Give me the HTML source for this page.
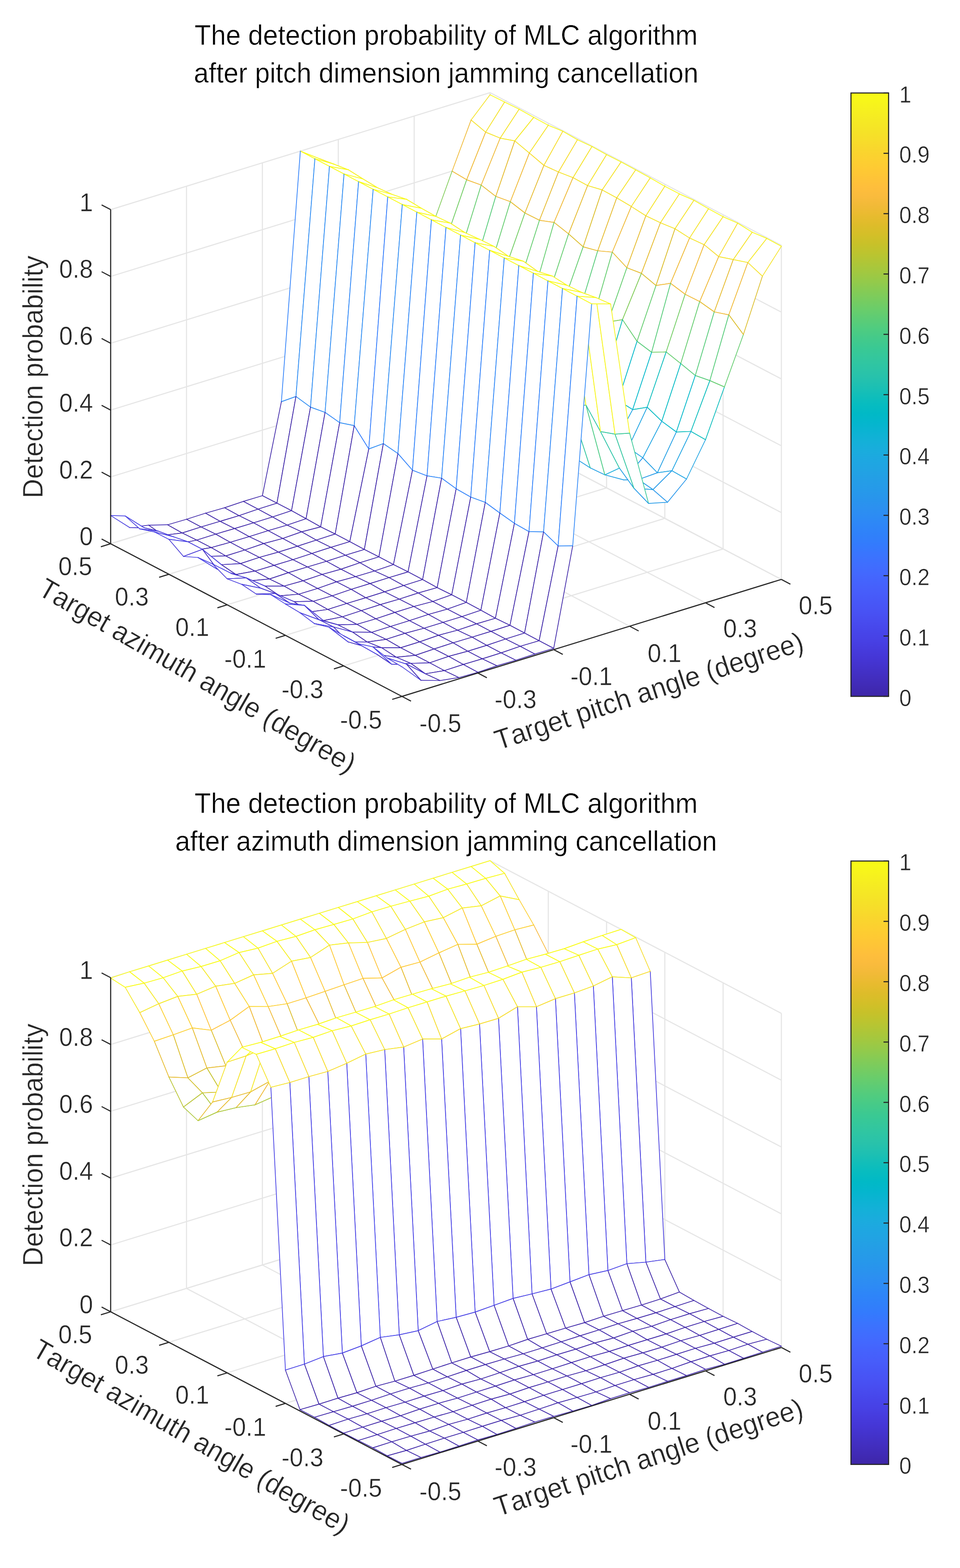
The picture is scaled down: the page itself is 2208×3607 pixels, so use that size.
<!DOCTYPE html><html><head><meta charset="utf-8"><title>Detection probability</title><style>html,body{margin:0;padding:0;background:#fff;}svg{display:block;}</style></head><body><svg xmlns="http://www.w3.org/2000/svg" width="2208" height="3607" viewBox="0 0 2208 3607" style="font-kerning:none"><line x1="254.5" y1="1250.8" x2="254.5" y2="482.2" stroke="#e5e5e5" stroke-width="2.5"/><line x1="254.5" y1="1250.8" x2="1127.1" y2="981.7" stroke="#e5e5e5" stroke-width="2.5"/><line x1="429.0" y1="1197.0" x2="429.0" y2="428.4" stroke="#e5e5e5" stroke-width="2.5"/><line x1="254.5" y1="1097.1" x2="1127.1" y2="828.0" stroke="#e5e5e5" stroke-width="2.5"/><line x1="603.5" y1="1143.2" x2="603.5" y2="374.6" stroke="#e5e5e5" stroke-width="2.5"/><line x1="254.5" y1="943.4" x2="1127.1" y2="674.3" stroke="#e5e5e5" stroke-width="2.5"/><line x1="778.1" y1="1089.3" x2="778.1" y2="320.7" stroke="#e5e5e5" stroke-width="2.5"/><line x1="254.5" y1="789.6" x2="1127.1" y2="520.5" stroke="#e5e5e5" stroke-width="2.5"/><line x1="952.6" y1="1035.5" x2="952.6" y2="266.9" stroke="#e5e5e5" stroke-width="2.5"/><line x1="254.5" y1="635.9" x2="1127.1" y2="366.8" stroke="#e5e5e5" stroke-width="2.5"/><line x1="1127.1" y1="981.7" x2="1127.1" y2="213.1" stroke="#e5e5e5" stroke-width="2.5"/><line x1="254.5" y1="482.2" x2="1127.1" y2="213.1" stroke="#e5e5e5" stroke-width="2.5"/><line x1="1797.1" y1="1332.9" x2="1797.1" y2="564.3" stroke="#e5e5e5" stroke-width="2.5"/><line x1="1797.1" y1="1332.9" x2="1127.1" y2="981.7" stroke="#e5e5e5" stroke-width="2.5"/><line x1="1663.1" y1="1262.7" x2="1663.1" y2="494.1" stroke="#e5e5e5" stroke-width="2.5"/><line x1="1797.1" y1="1179.2" x2="1127.1" y2="828.0" stroke="#e5e5e5" stroke-width="2.5"/><line x1="1529.1" y1="1192.4" x2="1529.1" y2="423.8" stroke="#e5e5e5" stroke-width="2.5"/><line x1="1797.1" y1="1025.5" x2="1127.1" y2="674.3" stroke="#e5e5e5" stroke-width="2.5"/><line x1="1395.1" y1="1122.2" x2="1395.1" y2="353.6" stroke="#e5e5e5" stroke-width="2.5"/><line x1="1797.1" y1="871.7" x2="1127.1" y2="520.5" stroke="#e5e5e5" stroke-width="2.5"/><line x1="1261.1" y1="1051.9" x2="1261.1" y2="283.3" stroke="#e5e5e5" stroke-width="2.5"/><line x1="1797.1" y1="718.0" x2="1127.1" y2="366.8" stroke="#e5e5e5" stroke-width="2.5"/><line x1="1127.1" y1="981.7" x2="1127.1" y2="213.1" stroke="#e5e5e5" stroke-width="2.5"/><line x1="1797.1" y1="564.3" x2="1127.1" y2="213.1" stroke="#e5e5e5" stroke-width="2.5"/><line x1="924.5" y1="1602.0" x2="254.5" y2="1250.8" stroke="#e5e5e5" stroke-width="2.5"/><line x1="924.5" y1="1602.0" x2="1797.1" y2="1332.9" stroke="#e5e5e5" stroke-width="2.5"/><line x1="1099.0" y1="1548.2" x2="429.0" y2="1197.0" stroke="#e5e5e5" stroke-width="2.5"/><line x1="790.5" y1="1531.8" x2="1663.1" y2="1262.7" stroke="#e5e5e5" stroke-width="2.5"/><line x1="1273.5" y1="1494.4" x2="603.5" y2="1143.2" stroke="#e5e5e5" stroke-width="2.5"/><line x1="656.5" y1="1461.5" x2="1529.1" y2="1192.4" stroke="#e5e5e5" stroke-width="2.5"/><line x1="1448.1" y1="1440.5" x2="778.1" y2="1089.3" stroke="#e5e5e5" stroke-width="2.5"/><line x1="522.5" y1="1391.3" x2="1395.1" y2="1122.2" stroke="#e5e5e5" stroke-width="2.5"/><line x1="1622.6" y1="1386.7" x2="952.6" y2="1035.5" stroke="#e5e5e5" stroke-width="2.5"/><line x1="388.5" y1="1321.0" x2="1261.1" y2="1051.9" stroke="#e5e5e5" stroke-width="2.5"/><line x1="1797.1" y1="1332.9" x2="1127.1" y2="981.7" stroke="#e5e5e5" stroke-width="2.5"/><line x1="254.5" y1="1250.8" x2="1127.1" y2="981.7" stroke="#e5e5e5" stroke-width="2.5"/><g fill="none" stroke-width="1.7" stroke-linejoin="round" stroke-linecap="round"><path d="M1117 304.1L1160.6 234.7L1127.1 218.1L1083.5 276.1Z" fill="#fff"/><path d="M1117 304.1L1160.6 234.7" stroke="#f5e327"/><path d="M1117 304.1L1083.5 276.1" stroke="#f5e327"/><path d="M1160.6 234.7L1127.1 218.1" stroke="#f9fb15"/><path d="M1083.5 276.1L1127.1 218.1" stroke="#f5e327"/><path d="M1073.3 413.6L1117 304.1L1083.5 276.1L1039.8 393.7Z" fill="#fff"/><path d="M1073.3 413.6L1117 304.1" stroke="#f0ba36"/><path d="M1073.3 413.6L1039.8 393.7" stroke="#f0ba36"/><path d="M1117 304.1L1083.5 276.1" stroke="#f5e327"/><path d="M1039.8 393.7L1083.5 276.1" stroke="#f0ba36"/><path d="M1150.5 317.8L1194.1 251.2L1160.6 234.7L1117 304.1Z" fill="#fff"/><path d="M1150.5 317.8L1194.1 251.2" stroke="#f5e327"/><path d="M1150.5 317.8L1117 304.1" stroke="#f5e327"/><path d="M1194.1 251.2L1160.6 234.7" stroke="#f9fb15"/><path d="M1117 304.1L1160.6 234.7" stroke="#f5e327"/><path d="M1029.7 540L1073.3 413.6L1039.8 393.7L996.2 514.8Z" fill="#fff"/><path d="M1029.7 540L1073.3 413.6" stroke="#72cd64"/><path d="M1029.7 540L996.2 514.8" stroke="#72cd64"/><path d="M1073.3 413.6L1039.8 393.7" stroke="#f0ba36"/><path d="M996.2 514.8L1039.8 393.7" stroke="#81cc59"/><path d="M1106.8 425.8L1150.5 317.8L1117 304.1L1073.3 413.6Z" fill="#fff"/><path d="M1106.8 425.8L1150.5 317.8" stroke="#f0ba36"/><path d="M1106.8 425.8L1073.3 413.6" stroke="#f0ba36"/><path d="M1150.5 317.8L1117 304.1" stroke="#f5e327"/><path d="M1073.3 413.6L1117 304.1" stroke="#f0ba36"/><path d="M1184 324.1L1227.6 270.1L1194.1 251.2L1150.5 317.8Z" fill="#fff"/><path d="M1184 324.1L1227.6 270.1" stroke="#f5e924"/><path d="M1184 324.1L1150.5 317.8" stroke="#f5e924"/><path d="M1227.6 270.1L1194.1 251.2" stroke="#f9fb15"/><path d="M1150.5 317.8L1194.1 251.2" stroke="#f5e327"/><path d="M986.1 675.9L1029.7 540L996.2 514.8L952.6 667Z" fill="#fff"/><path d="M986.1 675.9L1029.7 540" stroke="#0bbdbd"/><path d="M986.1 675.9L952.6 667" stroke="#0bbdbd"/><path d="M1029.7 540L996.2 514.8" stroke="#72cd64"/><path d="M952.6 667L996.2 514.8" stroke="#02bac3"/><path d="M1063.2 566.8L1106.8 425.8L1073.3 413.6L1029.7 540Z" fill="#fff"/><path d="M1063.2 566.8L1106.8 425.8" stroke="#64cd6f"/><path d="M1063.2 566.8L1029.7 540" stroke="#64cd6f"/><path d="M1106.8 425.8L1073.3 413.6" stroke="#f0ba36"/><path d="M1029.7 540L1073.3 413.6" stroke="#72cd64"/><path d="M1140.3 451.8L1184 324.1L1150.5 317.8L1106.8 425.8Z" fill="#fff"/><path d="M1140.3 451.8L1184 324.1" stroke="#e6bb2d"/><path d="M1140.3 451.8L1106.8 425.8" stroke="#e6bb2d"/><path d="M1184 324.1L1150.5 317.8" stroke="#f5e924"/><path d="M1106.8 425.8L1150.5 317.8" stroke="#f0ba36"/><path d="M1217.5 352.1L1261.1 288.3L1227.6 270.1L1184 324.1Z" fill="#fff"/><path d="M1217.5 352.1L1261.1 288.3" stroke="#f5e327"/><path d="M1217.5 352.1L1184 324.1" stroke="#f5e327"/><path d="M1261.1 288.3L1227.6 270.1" stroke="#f9fb15"/><path d="M1184 324.1L1227.6 270.1" stroke="#f5e924"/><path d="M942.5 760.8L986.1 675.9L952.6 667L909 758Z" fill="#fff"/><path d="M942.5 760.8L986.1 675.9" stroke="#1ca9df"/><path d="M942.5 760.8L909 758" stroke="#1ca9df"/><path d="M986.1 675.9L952.6 667" stroke="#0bbdbd"/><path d="M909 758L952.6 667" stroke="#20a5e3"/><path d="M1019.6 700.2L1063.2 566.8L1029.7 540L986.1 675.9Z" fill="#fff"/><path d="M1019.6 700.2L1063.2 566.8" stroke="#02bac3"/><path d="M1019.6 700.2L986.1 675.9" stroke="#02bac3"/><path d="M1063.2 566.8L1029.7 540" stroke="#64cd6f"/><path d="M986.1 675.9L1029.7 540" stroke="#0bbdbd"/><path d="M1096.7 598.2L1140.3 451.8L1106.8 425.8L1063.2 566.8Z" fill="#fff"/><path d="M1096.7 598.2L1140.3 451.8" stroke="#57cc7a"/><path d="M1096.7 598.2L1063.2 566.8" stroke="#57cc7a"/><path d="M1140.3 451.8L1106.8 425.8" stroke="#e6bb2d"/><path d="M1063.2 566.8L1106.8 425.8" stroke="#64cd6f"/><path d="M1173.8 464L1217.5 352.1L1184 324.1L1140.3 451.8Z" fill="#fff"/><path d="M1173.8 464L1217.5 352.1" stroke="#f0ba36"/><path d="M1173.8 464L1140.3 451.8" stroke="#f0ba36"/><path d="M1217.5 352.1L1184 324.1" stroke="#f5e327"/><path d="M1140.3 451.8L1184 324.1" stroke="#e6bb2d"/><path d="M898.8 824.7L942.5 760.8L909 758L865.3 804.3Z" fill="#fff"/><path d="M898.8 824.7L942.5 760.8" stroke="#2797eb"/><path d="M898.8 824.7L865.3 804.3" stroke="#2797eb"/><path d="M942.5 760.8L909 758" stroke="#1ca9df"/><path d="M865.3 804.3L909 758" stroke="#2797eb"/><path d="M1251 380.5L1294.6 301.9L1261.1 288.3L1217.5 352.1Z" fill="#fff"/><path d="M1251 380.5L1294.6 301.9" stroke="#f7dc2a"/><path d="M1251 380.5L1217.5 352.1" stroke="#f7dc2a"/><path d="M1294.6 301.9L1261.1 288.3" stroke="#f9fb15"/><path d="M1217.5 352.1L1261.1 288.3" stroke="#f5e327"/><path d="M976 782.9L1019.6 700.2L986.1 675.9L942.5 760.8Z" fill="#fff"/><path d="M976 782.9L1019.6 700.2" stroke="#1ca9df"/><path d="M976 782.9L942.5 760.8" stroke="#1ca9df"/><path d="M1019.6 700.2L986.1 675.9" stroke="#02bac3"/><path d="M942.5 760.8L986.1 675.9" stroke="#1ca9df"/><path d="M1053.1 721.1L1096.7 598.2L1063.2 566.8L1019.6 700.2Z" fill="#fff"/><path d="M1053.1 721.1L1096.7 598.2" stroke="#02bac3"/><path d="M1053.1 721.1L1019.6 700.2" stroke="#02bac3"/><path d="M1096.7 598.2L1063.2 566.8" stroke="#57cc7a"/><path d="M1019.6 700.2L1063.2 566.8" stroke="#02bac3"/><path d="M1130.2 606.5L1173.8 464L1140.3 451.8L1096.7 598.2Z" fill="#fff"/><path d="M1130.2 606.5L1173.8 464" stroke="#64cd6f"/><path d="M1130.2 606.5L1096.7 598.2" stroke="#64cd6f"/><path d="M1173.8 464L1140.3 451.8" stroke="#f0ba36"/><path d="M1096.7 598.2L1140.3 451.8" stroke="#57cc7a"/><path d="M855.2 827.7L898.8 824.7L865.3 804.3L821.7 806.5Z" fill="#fff"/><path d="M855.2 827.7L898.8 824.7" stroke="#259be8"/><path d="M855.2 827.7L821.7 806.5" stroke="#259be8"/><path d="M898.8 824.7L865.3 804.3" stroke="#2797eb"/><path d="M821.7 806.5L865.3 804.3" stroke="#259be8"/><path d="M1207.3 490L1251 380.5L1217.5 352.1L1173.8 464Z" fill="#fff"/><path d="M1207.3 490L1251 380.5" stroke="#e6bb2d"/><path d="M1207.3 490L1173.8 464" stroke="#e6bb2d"/><path d="M1251 380.5L1217.5 352.1" stroke="#f7dc2a"/><path d="M1173.8 464L1217.5 352.1" stroke="#f0ba36"/><path d="M932.3 825.8L976 782.9L942.5 760.8L898.8 824.7Z" fill="#fff"/><path d="M932.3 825.8L976 782.9" stroke="#259be8"/><path d="M932.3 825.8L898.8 824.7" stroke="#259be8"/><path d="M976 782.9L942.5 760.8" stroke="#1ca9df"/><path d="M898.8 824.7L942.5 760.8" stroke="#2797eb"/><path d="M1284.5 395.7L1328.1 321.6L1294.6 301.9L1251 380.5Z" fill="#fff"/><path d="M1284.5 395.7L1328.1 321.6" stroke="#f7dc2a"/><path d="M1284.5 395.7L1251 380.5" stroke="#f7dc2a"/><path d="M1328.1 321.6L1294.6 301.9" stroke="#f9fb15"/><path d="M1251 380.5L1294.6 301.9" stroke="#f7dc2a"/><path d="M1009.5 797.9L1053.1 721.1L1019.6 700.2L976 782.9Z" fill="#fff"/><path d="M1009.5 797.9L1053.1 721.1" stroke="#1ca9df"/><path d="M1009.5 797.9L976 782.9" stroke="#1ca9df"/><path d="M1053.1 721.1L1019.6 700.2" stroke="#02bac3"/><path d="M976 782.9L1019.6 700.2" stroke="#1ca9df"/><path d="M1086.6 749.7L1130.2 606.5L1096.7 598.2L1053.1 721.1Z" fill="#fff"/><path d="M1086.6 749.7L1130.2 606.5" stroke="#01b8ca"/><path d="M1086.6 749.7L1053.1 721.1" stroke="#01b8ca"/><path d="M1130.2 606.5L1096.7 598.2" stroke="#64cd6f"/><path d="M1053.1 721.1L1096.7 598.2" stroke="#02bac3"/><path d="M811.6 658.8L855.2 827.7L821.7 806.5L778.1 661.9Z" fill="#fff"/><path d="M811.6 658.8L855.2 827.7" stroke="#3fca8e"/><path d="M811.6 658.8L778.1 661.9" stroke="#3fca8e"/><path d="M855.2 827.7L821.7 806.5" stroke="#259be8"/><path d="M778.1 661.9L821.7 806.5" stroke="#31c69f"/><path d="M1163.7 614.1L1207.3 490L1173.8 464L1130.2 606.5Z" fill="#fff"/><path d="M1163.7 614.1L1207.3 490" stroke="#72cd64"/><path d="M1163.7 614.1L1130.2 606.5" stroke="#72cd64"/><path d="M1207.3 490L1173.8 464" stroke="#e6bb2d"/><path d="M1130.2 606.5L1173.8 464" stroke="#64cd6f"/><path d="M888.7 821.5L932.3 825.8L898.8 824.7L855.2 827.7Z" fill="#fff"/><path d="M888.7 821.5L932.3 825.8" stroke="#20a5e3"/><path d="M888.7 821.5L855.2 827.7" stroke="#20a5e3"/><path d="M932.3 825.8L898.8 824.7" stroke="#259be8"/><path d="M855.2 827.7L898.8 824.7" stroke="#259be8"/><path d="M1240.8 506.8L1284.5 395.7L1251 380.5L1207.3 490Z" fill="#fff"/><path d="M1240.8 506.8L1284.5 395.7" stroke="#e6bb2d"/><path d="M1240.8 506.8L1207.3 490" stroke="#e6bb2d"/><path d="M1284.5 395.7L1251 380.5" stroke="#f7dc2a"/><path d="M1207.3 490L1251 380.5" stroke="#e6bb2d"/><path d="M965.8 850.8L1009.5 797.9L976 782.9L932.3 825.8Z" fill="#fff"/><path d="M965.8 850.8L1009.5 797.9" stroke="#259be8"/><path d="M965.8 850.8L932.3 825.8" stroke="#259be8"/><path d="M1009.5 797.9L976 782.9" stroke="#1ca9df"/><path d="M932.3 825.8L976 782.9" stroke="#259be8"/><path d="M1318 408.7L1361.6 337L1328.1 321.6L1284.5 395.7Z" fill="#fff"/><path d="M1318 408.7L1361.6 337" stroke="#f5e327"/><path d="M1318 408.7L1284.5 395.7" stroke="#f5e327"/><path d="M1361.6 337L1328.1 321.6" stroke="#f9fb15"/><path d="M1284.5 395.7L1328.1 321.6" stroke="#f7dc2a"/><path d="M1043 825L1086.6 749.7L1053.1 721.1L1009.5 797.9Z" fill="#fff"/><path d="M1043 825L1086.6 749.7" stroke="#20a5e3"/><path d="M1043 825L1009.5 797.9" stroke="#20a5e3"/><path d="M1086.6 749.7L1053.1 721.1" stroke="#01b8ca"/><path d="M1009.5 797.9L1053.1 721.1" stroke="#1ca9df"/><path d="M767.9 377.6L811.6 658.8L778.1 661.9L734.4 364.9Z" fill="#fff"/><path d="M767.9 377.6L811.6 658.8" stroke="#f6ef20"/><path d="M767.9 377.6L734.4 364.9" stroke="#f6ef20"/><path d="M811.6 658.8L778.1 661.9" stroke="#3fca8e"/><path d="M734.4 364.9L778.1 661.9" stroke="#f6ef20"/><path d="M1120.1 759L1163.7 614.1L1130.2 606.5L1086.6 749.7Z" fill="#fff"/><path d="M1120.1 759L1163.7 614.1" stroke="#02bac3"/><path d="M1120.1 759L1086.6 749.7" stroke="#02bac3"/><path d="M1163.7 614.1L1130.2 606.5" stroke="#72cd64"/><path d="M1086.6 749.7L1130.2 606.5" stroke="#01b8ca"/><path d="M845.1 683.7L888.7 821.5L855.2 827.7L811.6 658.8Z" fill="#fff"/><path d="M845.1 683.7L888.7 821.5" stroke="#37c897"/><path d="M845.1 683.7L811.6 658.8" stroke="#37c897"/><path d="M888.7 821.5L855.2 827.7" stroke="#20a5e3"/><path d="M811.6 658.8L855.2 827.7" stroke="#3fca8e"/><path d="M1197.2 643.2L1240.8 506.8L1207.3 490L1163.7 614.1Z" fill="#fff"/><path d="M1197.2 643.2L1240.8 506.8" stroke="#64cd6f"/><path d="M1197.2 643.2L1163.7 614.1" stroke="#64cd6f"/><path d="M1240.8 506.8L1207.3 490" stroke="#e6bb2d"/><path d="M1163.7 614.1L1207.3 490" stroke="#72cd64"/><path d="M922.2 853.9L965.8 850.8L932.3 825.8L888.7 821.5Z" fill="#fff"/><path d="M922.2 853.9L965.8 850.8" stroke="#259be8"/><path d="M922.2 853.9L888.7 821.5" stroke="#259be8"/><path d="M965.8 850.8L932.3 825.8" stroke="#259be8"/><path d="M888.7 821.5L932.3 825.8" stroke="#20a5e3"/><path d="M1274.3 511.7L1318 408.7L1284.5 395.7L1240.8 506.8Z" fill="#fff"/><path d="M1274.3 511.7L1318 408.7" stroke="#f0ba36"/><path d="M1274.3 511.7L1240.8 506.8" stroke="#f0ba36"/><path d="M1318 408.7L1284.5 395.7" stroke="#f5e327"/><path d="M1240.8 506.8L1284.5 395.7" stroke="#e6bb2d"/><path d="M999.3 882.5L1043 825L1009.5 797.9L965.8 850.8Z" fill="#fff"/><path d="M999.3 882.5L1043 825" stroke="#2b91ef"/><path d="M999.3 882.5L965.8 850.8" stroke="#2b91ef"/><path d="M1043 825L1009.5 797.9" stroke="#20a5e3"/><path d="M965.8 850.8L1009.5 797.9" stroke="#259be8"/><path d="M724.3 365.2L767.9 377.6L734.4 364.9L690.8 347.6Z" fill="#fff"/><path d="M724.3 365.2L767.9 377.6" stroke="#f9fb15"/><path d="M724.3 365.2L690.8 347.6" stroke="#f9fb15"/><path d="M767.9 377.6L734.4 364.9" stroke="#f6ef20"/><path d="M690.8 347.6L734.4 364.9" stroke="#f9fb15"/><path d="M1351.5 427L1395.1 355.8L1361.6 337L1318 408.7Z" fill="#fff"/><path d="M1351.5 427L1395.1 355.8" stroke="#f5e327"/><path d="M1351.5 427L1318 408.7" stroke="#f5e327"/><path d="M1395.1 355.8L1361.6 337" stroke="#f9fb15"/><path d="M1318 408.7L1361.6 337" stroke="#f5e327"/><path d="M1076.5 848.5L1120.1 759L1086.6 749.7L1043 825Z" fill="#fff"/><path d="M1076.5 848.5L1120.1 759" stroke="#20a5e3"/><path d="M1076.5 848.5L1043 825" stroke="#20a5e3"/><path d="M1120.1 759L1086.6 749.7" stroke="#02bac3"/><path d="M1043 825L1086.6 749.7" stroke="#20a5e3"/><path d="M801.4 390.7L845.1 683.7L811.6 658.8L767.9 377.6Z" fill="#fff"/><path d="M801.4 390.7L845.1 683.7" stroke="#f7f51b"/><path d="M801.4 390.7L767.9 377.6" stroke="#f7f51b"/><path d="M845.1 683.7L811.6 658.8" stroke="#37c897"/><path d="M767.9 377.6L811.6 658.8" stroke="#f6ef20"/><path d="M1153.6 761L1197.2 643.2L1163.7 614.1L1120.1 759Z" fill="#fff"/><path d="M1153.6 761L1197.2 643.2" stroke="#0bbdbd"/><path d="M1153.6 761L1120.1 759" stroke="#0bbdbd"/><path d="M1197.2 643.2L1163.7 614.1" stroke="#64cd6f"/><path d="M1120.1 759L1163.7 614.1" stroke="#02bac3"/><path d="M878.6 697L922.2 853.9L888.7 821.5L845.1 683.7Z" fill="#fff"/><path d="M878.6 697L922.2 853.9" stroke="#3fca8e"/><path d="M878.6 697L845.1 683.7" stroke="#3fca8e"/><path d="M922.2 853.9L888.7 821.5" stroke="#259be8"/><path d="M845.1 683.7L888.7 821.5" stroke="#37c897"/><path d="M1230.7 664.6L1274.3 511.7L1240.8 506.8L1197.2 643.2Z" fill="#fff"/><path d="M1230.7 664.6L1274.3 511.7" stroke="#64cd6f"/><path d="M1230.7 664.6L1197.2 643.2" stroke="#64cd6f"/><path d="M1274.3 511.7L1240.8 506.8" stroke="#f0ba36"/><path d="M1197.2 643.2L1240.8 506.8" stroke="#64cd6f"/><path d="M955.7 863.4L999.3 882.5L965.8 850.8L922.2 853.9Z" fill="#fff"/><path d="M955.7 863.4L999.3 882.5" stroke="#23a0e5"/><path d="M955.7 863.4L922.2 853.9" stroke="#23a0e5"/><path d="M999.3 882.5L965.8 850.8" stroke="#2b91ef"/><path d="M922.2 853.9L965.8 850.8" stroke="#259be8"/><path d="M680.7 912.1L724.3 365.2L690.8 347.6L647.2 924.1Z" fill="#fff"/><path d="M680.7 912.1L724.3 365.2" stroke="#2d8cf3"/><path d="M680.7 912.1L647.2 924.1" stroke="#2d8cf3"/><path d="M724.3 365.2L690.8 347.6" stroke="#f9fb15"/><path d="M647.2 924.1L690.8 347.6" stroke="#2f81fa"/><path d="M1307.8 538.1L1351.5 427L1318 408.7L1274.3 511.7Z" fill="#fff"/><path d="M1307.8 538.1L1351.5 427" stroke="#e6bb2d"/><path d="M1307.8 538.1L1274.3 511.7" stroke="#e6bb2d"/><path d="M1351.5 427L1318 408.7" stroke="#f5e327"/><path d="M1274.3 511.7L1318 408.7" stroke="#f0ba36"/><path d="M1032.8 894.9L1076.5 848.5L1043 825L999.3 882.5Z" fill="#fff"/><path d="M1032.8 894.9L1076.5 848.5" stroke="#2797eb"/><path d="M1032.8 894.9L999.3 882.5" stroke="#2797eb"/><path d="M1076.5 848.5L1043 825" stroke="#20a5e3"/><path d="M999.3 882.5L1043 825" stroke="#2b91ef"/><path d="M757.8 382.8L801.4 390.7L767.9 377.6L724.3 365.2Z" fill="#fff"/><path d="M757.8 382.8L801.4 390.7" stroke="#f9fb15"/><path d="M757.8 382.8L724.3 365.2" stroke="#f9fb15"/><path d="M801.4 390.7L767.9 377.6" stroke="#f7f51b"/><path d="M724.3 365.2L767.9 377.6" stroke="#f9fb15"/><path d="M1385 436.9L1428.6 372.6L1395.1 355.8L1351.5 427Z" fill="#fff"/><path d="M1385 436.9L1428.6 372.6" stroke="#f5e327"/><path d="M1385 436.9L1351.5 427" stroke="#f5e327"/><path d="M1428.6 372.6L1395.1 355.8" stroke="#f9fb15"/><path d="M1351.5 427L1395.1 355.8" stroke="#f5e327"/><path d="M1110 849.7L1153.6 761L1120.1 759L1076.5 848.5Z" fill="#fff"/><path d="M1110 849.7L1153.6 761" stroke="#1ca9df"/><path d="M1110 849.7L1076.5 848.5" stroke="#1ca9df"/><path d="M1153.6 761L1120.1 759" stroke="#0bbdbd"/><path d="M1076.5 848.5L1120.1 759" stroke="#20a5e3"/><path d="M834.9 411.8L878.6 697L845.1 683.7L801.4 390.7Z" fill="#fff"/><path d="M834.9 411.8L878.6 697" stroke="#f6ef20"/><path d="M834.9 411.8L801.4 390.7" stroke="#f6ef20"/><path d="M878.6 697L845.1 683.7" stroke="#3fca8e"/><path d="M801.4 390.7L845.1 683.7" stroke="#f7f51b"/><path d="M1187.1 776.9L1230.7 664.6L1197.2 643.2L1153.6 761Z" fill="#fff"/><path d="M1187.1 776.9L1230.7 664.6" stroke="#0bbdbd"/><path d="M1187.1 776.9L1153.6 761" stroke="#0bbdbd"/><path d="M1230.7 664.6L1197.2 643.2" stroke="#64cd6f"/><path d="M1153.6 761L1197.2 643.2" stroke="#0bbdbd"/><path d="M912.1 715L955.7 863.4L922.2 853.9L878.6 697Z" fill="#fff"/><path d="M912.1 715L955.7 863.4" stroke="#3fca8e"/><path d="M912.1 715L878.6 697" stroke="#3fca8e"/><path d="M955.7 863.4L922.2 853.9" stroke="#23a0e5"/><path d="M878.6 697L922.2 853.9" stroke="#3fca8e"/><path d="M637 1157.5L680.7 912.1L647.2 924.1L603.5 1140.3Z" fill="#fff"/><path d="M637 1157.5L680.7 912.1" stroke="#3e26a8"/><path d="M637 1157.5L603.5 1140.3" stroke="#3e26a8"/><path d="M680.7 912.1L647.2 924.1" stroke="#2d8cf3"/><path d="M603.5 1140.3L647.2 924.1" stroke="#3e26a8"/><path d="M1264.2 670.6L1307.8 538.1L1274.3 511.7L1230.7 664.6Z" fill="#fff"/><path d="M1264.2 670.6L1307.8 538.1" stroke="#64cd6f"/><path d="M1264.2 670.6L1230.7 664.6" stroke="#64cd6f"/><path d="M1307.8 538.1L1274.3 511.7" stroke="#e6bb2d"/><path d="M1230.7 664.6L1274.3 511.7" stroke="#64cd6f"/><path d="M989.2 876.7L1032.8 894.9L999.3 882.5L955.7 863.4Z" fill="#fff"/><path d="M989.2 876.7L1032.8 894.9" stroke="#23a0e5"/><path d="M989.2 876.7L955.7 863.4" stroke="#23a0e5"/><path d="M1032.8 894.9L999.3 882.5" stroke="#2797eb"/><path d="M955.7 863.4L999.3 882.5" stroke="#23a0e5"/><path d="M714.2 936.6L757.8 382.8L724.3 365.2L680.7 912.1Z" fill="#fff"/><path d="M714.2 936.6L757.8 382.8" stroke="#2d8cf3"/><path d="M714.2 936.6L680.7 912.1" stroke="#2d8cf3"/><path d="M757.8 382.8L724.3 365.2" stroke="#f9fb15"/><path d="M680.7 912.1L724.3 365.2" stroke="#2d8cf3"/><path d="M1341.3 567.9L1385 436.9L1351.5 427L1307.8 538.1Z" fill="#fff"/><path d="M1341.3 567.9L1385 436.9" stroke="#dcbd29"/><path d="M1341.3 567.9L1307.8 538.1" stroke="#dcbd29"/><path d="M1385 436.9L1351.5 427" stroke="#f5e327"/><path d="M1307.8 538.1L1351.5 427" stroke="#e6bb2d"/><path d="M1066.3 903.4L1110 849.7L1076.5 848.5L1032.8 894.9Z" fill="#fff"/><path d="M1066.3 903.4L1110 849.7" stroke="#259be8"/><path d="M1066.3 903.4L1032.8 894.9" stroke="#259be8"/><path d="M1110 849.7L1076.5 848.5" stroke="#1ca9df"/><path d="M1032.8 894.9L1076.5 848.5" stroke="#2797eb"/><path d="M791.3 400.3L834.9 411.8L801.4 390.7L757.8 382.8Z" fill="#fff"/><path d="M791.3 400.3L834.9 411.8" stroke="#f9fb15"/><path d="M791.3 400.3L757.8 382.8" stroke="#f9fb15"/><path d="M834.9 411.8L801.4 390.7" stroke="#f6ef20"/><path d="M757.8 382.8L801.4 390.7" stroke="#f9fb15"/><path d="M1418.5 455.2L1462.1 390.7L1428.6 372.6L1385 436.9Z" fill="#fff"/><path d="M1418.5 455.2L1462.1 390.7" stroke="#f5e327"/><path d="M1418.5 455.2L1385 436.9" stroke="#f5e327"/><path d="M1462.1 390.7L1428.6 372.6" stroke="#f9fb15"/><path d="M1385 436.9L1428.6 372.6" stroke="#f5e327"/><path d="M1143.5 876L1187.1 776.9L1153.6 761L1110 849.7Z" fill="#fff"/><path d="M1143.5 876L1187.1 776.9" stroke="#20a5e3"/><path d="M1143.5 876L1110 849.7" stroke="#20a5e3"/><path d="M1187.1 776.9L1153.6 761" stroke="#0bbdbd"/><path d="M1110 849.7L1153.6 761" stroke="#1ca9df"/><path d="M868.4 432L912.1 715L878.6 697L834.9 411.8Z" fill="#fff"/><path d="M868.4 432L912.1 715" stroke="#f6ef20"/><path d="M868.4 432L834.9 411.8" stroke="#f6ef20"/><path d="M912.1 715L878.6 697" stroke="#3fca8e"/><path d="M834.9 411.8L878.6 697" stroke="#f6ef20"/><path d="M593.4 1171.3L637 1157.5L603.5 1140.3L559.9 1153.4Z" fill="#fff"/><path d="M593.4 1171.3L637 1157.5" stroke="#3e26a8"/><path d="M593.4 1171.3L559.9 1153.4" stroke="#3e26a8"/><path d="M637 1157.5L603.5 1140.3" stroke="#3e26a8"/><path d="M559.9 1153.4L603.5 1140.3" stroke="#3e26a8"/><path d="M1220.6 812.6L1264.2 670.6L1230.7 664.6L1187.1 776.9Z" fill="#fff"/><path d="M1220.6 812.6L1264.2 670.6" stroke="#02bac3"/><path d="M1220.6 812.6L1187.1 776.9" stroke="#02bac3"/><path d="M1264.2 670.6L1230.7 664.6" stroke="#64cd6f"/><path d="M1187.1 776.9L1230.7 664.6" stroke="#0bbdbd"/><path d="M945.6 743L989.2 876.7L955.7 863.4L912.1 715Z" fill="#fff"/><path d="M945.6 743L989.2 876.7" stroke="#37c897"/><path d="M945.6 743L912.1 715" stroke="#37c897"/><path d="M989.2 876.7L955.7 863.4" stroke="#23a0e5"/><path d="M912.1 715L955.7 863.4" stroke="#3fca8e"/><path d="M670.5 1174.8L714.2 936.6L680.7 912.1L637 1157.5Z" fill="#fff"/><path d="M670.5 1174.8L714.2 936.6" stroke="#3e26a8"/><path d="M670.5 1174.8L637 1157.5" stroke="#3e26a8"/><path d="M714.2 936.6L680.7 912.1" stroke="#2d8cf3"/><path d="M637 1157.5L680.7 912.1" stroke="#3e26a8"/><path d="M1297.7 692L1341.3 567.9L1307.8 538.1L1264.2 670.6Z" fill="#fff"/><path d="M1297.7 692L1341.3 567.9" stroke="#64cd6f"/><path d="M1297.7 692L1264.2 670.6" stroke="#64cd6f"/><path d="M1341.3 567.9L1307.8 538.1" stroke="#dcbd29"/><path d="M1264.2 670.6L1307.8 538.1" stroke="#64cd6f"/><path d="M1022.7 914.8L1066.3 903.4L1032.8 894.9L989.2 876.7Z" fill="#fff"/><path d="M1022.7 914.8L1066.3 903.4" stroke="#259be8"/><path d="M1022.7 914.8L989.2 876.7" stroke="#259be8"/><path d="M1066.3 903.4L1032.8 894.9" stroke="#259be8"/><path d="M989.2 876.7L1032.8 894.9" stroke="#23a0e5"/><path d="M747.7 948.7L791.3 400.3L757.8 382.8L714.2 936.6Z" fill="#fff"/><path d="M747.7 948.7L791.3 400.3" stroke="#2d8cf3"/><path d="M747.7 948.7L714.2 936.6" stroke="#2d8cf3"/><path d="M791.3 400.3L757.8 382.8" stroke="#f9fb15"/><path d="M714.2 936.6L757.8 382.8" stroke="#2d8cf3"/><path d="M1374.8 577L1418.5 455.2L1385 436.9L1341.3 567.9Z" fill="#fff"/><path d="M1374.8 577L1418.5 455.2" stroke="#e6bb2d"/><path d="M1374.8 577L1341.3 567.9" stroke="#e6bb2d"/><path d="M1418.5 455.2L1385 436.9" stroke="#f5e327"/><path d="M1341.3 567.9L1385 436.9" stroke="#dcbd29"/><path d="M1099.8 929.4L1143.5 876L1110 849.7L1066.3 903.4Z" fill="#fff"/><path d="M1099.8 929.4L1143.5 876" stroke="#2797eb"/><path d="M1099.8 929.4L1066.3 903.4" stroke="#2797eb"/><path d="M1143.5 876L1110 849.7" stroke="#20a5e3"/><path d="M1066.3 903.4L1110 849.7" stroke="#259be8"/><path d="M824.8 417.9L868.4 432L834.9 411.8L791.3 400.3Z" fill="#fff"/><path d="M824.8 417.9L868.4 432" stroke="#f9fb15"/><path d="M824.8 417.9L791.3 400.3" stroke="#f9fb15"/><path d="M868.4 432L834.9 411.8" stroke="#f6ef20"/><path d="M791.3 400.3L834.9 411.8" stroke="#f9fb15"/><path d="M549.8 1186.2L593.4 1171.3L559.9 1153.4L516.3 1168.1Z" fill="#fff"/><path d="M549.8 1186.2L593.4 1171.3" stroke="#3e26a8"/><path d="M549.8 1186.2L516.3 1168.1" stroke="#3e26a8"/><path d="M593.4 1171.3L559.9 1153.4" stroke="#3e26a8"/><path d="M516.3 1168.1L559.9 1153.4" stroke="#3e26a8"/><path d="M1452 475.1L1495.6 409.3L1462.1 390.7L1418.5 455.2Z" fill="#fff"/><path d="M1452 475.1L1495.6 409.3" stroke="#f5e327"/><path d="M1452 475.1L1418.5 455.2" stroke="#f5e327"/><path d="M1495.6 409.3L1462.1 390.7" stroke="#f9fb15"/><path d="M1418.5 455.2L1462.1 390.7" stroke="#f5e327"/><path d="M1177 898.8L1220.6 812.6L1187.1 776.9L1143.5 876Z" fill="#fff"/><path d="M1177 898.8L1220.6 812.6" stroke="#20a5e3"/><path d="M1177 898.8L1143.5 876" stroke="#20a5e3"/><path d="M1220.6 812.6L1187.1 776.9" stroke="#02bac3"/><path d="M1143.5 876L1187.1 776.9" stroke="#20a5e3"/><path d="M901.9 447.3L945.6 743L912.1 715L868.4 432Z" fill="#fff"/><path d="M901.9 447.3L945.6 743" stroke="#f6ef20"/><path d="M901.9 447.3L868.4 432" stroke="#f6ef20"/><path d="M945.6 743L912.1 715" stroke="#37c897"/><path d="M868.4 432L912.1 715" stroke="#f6ef20"/><path d="M626.9 1189.3L670.5 1174.8L637 1157.5L593.4 1171.3Z" fill="#fff"/><path d="M626.9 1189.3L670.5 1174.8" stroke="#3e26a8"/><path d="M626.9 1189.3L593.4 1171.3" stroke="#3e26a8"/><path d="M670.5 1174.8L637 1157.5" stroke="#3e26a8"/><path d="M593.4 1171.3L637 1157.5" stroke="#3e26a8"/><path d="M1254.1 815.7L1297.7 692L1264.2 670.6L1220.6 812.6Z" fill="#fff"/><path d="M1254.1 815.7L1297.7 692" stroke="#0bbdbd"/><path d="M1254.1 815.7L1220.6 812.6" stroke="#0bbdbd"/><path d="M1297.7 692L1264.2 670.6" stroke="#64cd6f"/><path d="M1220.6 812.6L1264.2 670.6" stroke="#02bac3"/><path d="M979.1 771.6L1022.7 914.8L989.2 876.7L945.6 743Z" fill="#fff"/><path d="M979.1 771.6L1022.7 914.8" stroke="#31c69f"/><path d="M979.1 771.6L945.6 743" stroke="#31c69f"/><path d="M1022.7 914.8L989.2 876.7" stroke="#259be8"/><path d="M945.6 743L989.2 876.7" stroke="#37c897"/><path d="M704 1193.2L747.7 948.7L714.2 936.6L670.5 1174.8Z" fill="#fff"/><path d="M704 1193.2L747.7 948.7" stroke="#3e26a8"/><path d="M704 1193.2L670.5 1174.8" stroke="#3e26a8"/><path d="M747.7 948.7L714.2 936.6" stroke="#2d8cf3"/><path d="M670.5 1174.8L714.2 936.6" stroke="#3e26a8"/><path d="M1331.2 721.1L1374.8 577L1341.3 567.9L1297.7 692Z" fill="#fff"/><path d="M1331.2 721.1L1374.8 577" stroke="#57cc7a"/><path d="M1331.2 721.1L1297.7 692" stroke="#57cc7a"/><path d="M1374.8 577L1341.3 567.9" stroke="#e6bb2d"/><path d="M1297.7 692L1341.3 567.9" stroke="#64cd6f"/><path d="M1056.2 906.8L1099.8 929.4L1066.3 903.4L1022.7 914.8Z" fill="#fff"/><path d="M1056.2 906.8L1099.8 929.4" stroke="#20a5e3"/><path d="M1056.2 906.8L1022.7 914.8" stroke="#20a5e3"/><path d="M1099.8 929.4L1066.3 903.4" stroke="#2797eb"/><path d="M1022.7 914.8L1066.3 903.4" stroke="#259be8"/><path d="M781.2 972.4L824.8 417.9L791.3 400.3L747.7 948.7Z" fill="#fff"/><path d="M781.2 972.4L824.8 417.9" stroke="#2e87f7"/><path d="M781.2 972.4L747.7 948.7" stroke="#2e87f7"/><path d="M824.8 417.9L791.3 400.3" stroke="#f9fb15"/><path d="M747.7 948.7L791.3 400.3" stroke="#2d8cf3"/><path d="M506.2 1199.3L549.8 1186.2L516.3 1168.1L472.7 1180.5Z" fill="#fff"/><path d="M506.2 1199.3L549.8 1186.2" stroke="#3e26a8"/><path d="M506.2 1199.3L472.7 1180.5" stroke="#3e26a8"/><path d="M549.8 1186.2L516.3 1168.1" stroke="#3e26a8"/><path d="M472.7 1180.5L516.3 1168.1" stroke="#3e26a8"/><path d="M1408.3 580L1452 475.1L1418.5 455.2L1374.8 577Z" fill="#fff"/><path d="M1408.3 580L1452 475.1" stroke="#f0ba36"/><path d="M1408.3 580L1374.8 577" stroke="#f0ba36"/><path d="M1452 475.1L1418.5 455.2" stroke="#f5e327"/><path d="M1374.8 577L1418.5 455.2" stroke="#e6bb2d"/><path d="M1133.3 932.1L1177 898.8L1143.5 876L1099.8 929.4Z" fill="#fff"/><path d="M1133.3 932.1L1177 898.8" stroke="#259be8"/><path d="M1133.3 932.1L1099.8 929.4" stroke="#259be8"/><path d="M1177 898.8L1143.5 876" stroke="#20a5e3"/><path d="M1099.8 929.4L1143.5 876" stroke="#2797eb"/><path d="M858.3 435.5L901.9 447.3L868.4 432L824.8 417.9Z" fill="#fff"/><path d="M858.3 435.5L901.9 447.3" stroke="#f9fb15"/><path d="M858.3 435.5L824.8 417.9" stroke="#f9fb15"/><path d="M901.9 447.3L868.4 432" stroke="#f6ef20"/><path d="M824.8 417.9L868.4 432" stroke="#f9fb15"/><path d="M583.3 1202.7L626.9 1189.3L593.4 1171.3L549.8 1186.2Z" fill="#fff"/><path d="M583.3 1202.7L626.9 1189.3" stroke="#3e26a8"/><path d="M583.3 1202.7L549.8 1186.2" stroke="#3e26a8"/><path d="M626.9 1189.3L593.4 1171.3" stroke="#3e26a8"/><path d="M549.8 1186.2L593.4 1171.3" stroke="#3e26a8"/><path d="M1485.5 496.5L1529.1 428.5L1495.6 409.3L1452 475.1Z" fill="#fff"/><path d="M1485.5 496.5L1529.1 428.5" stroke="#f5e327"/><path d="M1485.5 496.5L1452 475.1" stroke="#f5e327"/><path d="M1529.1 428.5L1495.6 409.3" stroke="#f9fb15"/><path d="M1452 475.1L1495.6 409.3" stroke="#f5e327"/><path d="M1210.5 926.3L1254.1 815.7L1220.6 812.6L1177 898.8Z" fill="#fff"/><path d="M1210.5 926.3L1254.1 815.7" stroke="#23a0e5"/><path d="M1210.5 926.3L1177 898.8" stroke="#23a0e5"/><path d="M1254.1 815.7L1220.6 812.6" stroke="#0bbdbd"/><path d="M1177 898.8L1220.6 812.6" stroke="#20a5e3"/><path d="M935.4 458.7L979.1 771.6L945.6 743L901.9 447.3Z" fill="#fff"/><path d="M935.4 458.7L979.1 771.6" stroke="#f7f51b"/><path d="M935.4 458.7L901.9 447.3" stroke="#f7f51b"/><path d="M979.1 771.6L945.6 743" stroke="#31c69f"/><path d="M901.9 447.3L945.6 743" stroke="#f6ef20"/><path d="M660.4 1208L704 1193.2L670.5 1174.8L626.9 1189.3Z" fill="#fff"/><path d="M660.4 1208L704 1193.2" stroke="#3e26a8"/><path d="M660.4 1208L626.9 1189.3" stroke="#3e26a8"/><path d="M704 1193.2L670.5 1174.8" stroke="#3e26a8"/><path d="M626.9 1189.3L670.5 1174.8" stroke="#3e26a8"/><path d="M1287.6 841.1L1331.2 721.1L1297.7 692L1254.1 815.7Z" fill="#fff"/><path d="M1287.6 841.1L1331.2 721.1" stroke="#02bac3"/><path d="M1287.6 841.1L1254.1 815.7" stroke="#02bac3"/><path d="M1331.2 721.1L1297.7 692" stroke="#57cc7a"/><path d="M1254.1 815.7L1297.7 692" stroke="#0bbdbd"/><path d="M1012.6 783.6L1056.2 906.8L1022.7 914.8L979.1 771.6Z" fill="#fff"/><path d="M1012.6 783.6L1056.2 906.8" stroke="#31c69f"/><path d="M1012.6 783.6L979.1 771.6" stroke="#31c69f"/><path d="M1056.2 906.8L1022.7 914.8" stroke="#20a5e3"/><path d="M979.1 771.6L1022.7 914.8" stroke="#31c69f"/><path d="M737.5 1212.1L781.2 972.4L747.7 948.7L704 1193.2Z" fill="#fff"/><path d="M737.5 1212.1L781.2 972.4" stroke="#3e26a8"/><path d="M737.5 1212.1L704 1193.2" stroke="#3e26a8"/><path d="M781.2 972.4L747.7 948.7" stroke="#2e87f7"/><path d="M704 1193.2L747.7 948.7" stroke="#3e26a8"/><path d="M462.5 1212.3L506.2 1199.3L472.7 1180.5L429 1194.5Z" fill="#fff"/><path d="M462.5 1212.3L506.2 1199.3" stroke="#3e26a8"/><path d="M462.5 1212.3L429 1194.5" stroke="#3e26a8"/><path d="M506.2 1199.3L472.7 1180.5" stroke="#3e26a8"/><path d="M429 1194.5L472.7 1180.5" stroke="#3e26a8"/><path d="M1364.7 731L1408.3 580L1374.8 577L1331.2 721.1Z" fill="#fff"/><path d="M1364.7 731L1408.3 580" stroke="#64cd6f"/><path d="M1364.7 731L1331.2 721.1" stroke="#64cd6f"/><path d="M1408.3 580L1374.8 577" stroke="#f0ba36"/><path d="M1331.2 721.1L1374.8 577" stroke="#57cc7a"/><path d="M1089.7 950.2L1133.3 932.1L1099.8 929.4L1056.2 906.8Z" fill="#fff"/><path d="M1089.7 950.2L1133.3 932.1" stroke="#259be8"/><path d="M1089.7 950.2L1056.2 906.8" stroke="#259be8"/><path d="M1133.3 932.1L1099.8 929.4" stroke="#259be8"/><path d="M1056.2 906.8L1099.8 929.4" stroke="#20a5e3"/><path d="M814.7 979.2L858.3 435.5L824.8 417.9L781.2 972.4Z" fill="#fff"/><path d="M814.7 979.2L858.3 435.5" stroke="#2d8cf3"/><path d="M814.7 979.2L781.2 972.4" stroke="#2d8cf3"/><path d="M858.3 435.5L824.8 417.9" stroke="#f9fb15"/><path d="M781.2 972.4L824.8 417.9" stroke="#2e87f7"/><path d="M539.7 1215.9L583.3 1202.7L549.8 1186.2L506.2 1199.3Z" fill="#fff"/><path d="M539.7 1215.9L583.3 1202.7" stroke="#3e26a8"/><path d="M539.7 1215.9L506.2 1199.3" stroke="#3e26a8"/><path d="M583.3 1202.7L549.8 1186.2" stroke="#3e26a8"/><path d="M506.2 1199.3L549.8 1186.2" stroke="#3e26a8"/><path d="M1441.8 616L1485.5 496.5L1452 475.1L1408.3 580Z" fill="#fff"/><path d="M1441.8 616L1485.5 496.5" stroke="#e6bb2d"/><path d="M1441.8 616L1408.3 580" stroke="#e6bb2d"/><path d="M1485.5 496.5L1452 475.1" stroke="#f5e327"/><path d="M1408.3 580L1452 475.1" stroke="#f0ba36"/><path d="M1166.8 941.2L1210.5 926.3L1177 898.8L1133.3 932.1Z" fill="#fff"/><path d="M1166.8 941.2L1210.5 926.3" stroke="#23a0e5"/><path d="M1166.8 941.2L1133.3 932.1" stroke="#23a0e5"/><path d="M1210.5 926.3L1177 898.8" stroke="#23a0e5"/><path d="M1133.3 932.1L1177 898.8" stroke="#259be8"/><path d="M891.8 453L935.4 458.7L901.9 447.3L858.3 435.5Z" fill="#fff"/><path d="M891.8 453L935.4 458.7" stroke="#f9fb15"/><path d="M891.8 453L858.3 435.5" stroke="#f9fb15"/><path d="M935.4 458.7L901.9 447.3" stroke="#f7f51b"/><path d="M858.3 435.5L901.9 447.3" stroke="#f9fb15"/><path d="M616.8 1220.7L660.4 1208L626.9 1189.3L583.3 1202.7Z" fill="#fff"/><path d="M616.8 1220.7L660.4 1208" stroke="#3e26a8"/><path d="M616.8 1220.7L583.3 1202.7" stroke="#3e26a8"/><path d="M660.4 1208L626.9 1189.3" stroke="#3e26a8"/><path d="M583.3 1202.7L626.9 1189.3" stroke="#3e26a8"/><path d="M1519 512.5L1562.6 446.1L1529.1 428.5L1485.5 496.5Z" fill="#fff"/><path d="M1519 512.5L1562.6 446.1" stroke="#f5e327"/><path d="M1519 512.5L1485.5 496.5" stroke="#f5e327"/><path d="M1562.6 446.1L1529.1 428.5" stroke="#f9fb15"/><path d="M1485.5 496.5L1529.1 428.5" stroke="#f5e327"/><path d="M1244 925.7L1287.6 841.1L1254.1 815.7L1210.5 926.3Z" fill="#fff"/><path d="M1244 925.7L1287.6 841.1" stroke="#20a5e3"/><path d="M1244 925.7L1210.5 926.3" stroke="#20a5e3"/><path d="M1287.6 841.1L1254.1 815.7" stroke="#02bac3"/><path d="M1210.5 926.3L1254.1 815.7" stroke="#23a0e5"/><path d="M968.9 479.1L1012.6 783.6L979.1 771.6L935.4 458.7Z" fill="#fff"/><path d="M968.9 479.1L1012.6 783.6" stroke="#f7f51b"/><path d="M968.9 479.1L935.4 458.7" stroke="#f7f51b"/><path d="M1012.6 783.6L979.1 771.6" stroke="#31c69f"/><path d="M935.4 458.7L979.1 771.6" stroke="#f7f51b"/><path d="M693.9 1223.4L737.5 1212.1L704 1193.2L660.4 1208Z" fill="#fff"/><path d="M693.9 1223.4L737.5 1212.1" stroke="#3e26a8"/><path d="M693.9 1223.4L660.4 1208" stroke="#3e26a8"/><path d="M737.5 1212.1L704 1193.2" stroke="#3e26a8"/><path d="M660.4 1208L704 1193.2" stroke="#3e26a8"/><path d="M418.9 1226.1L462.5 1212.3L429 1194.5L385.4 1207.2Z" fill="#fff"/><path d="M418.9 1226.1L462.5 1212.3" stroke="#3e26a8"/><path d="M418.9 1226.1L385.4 1207.2" stroke="#3e26a8"/><path d="M462.5 1212.3L429 1194.5" stroke="#3e26a8"/><path d="M385.4 1207.2L429 1194.5" stroke="#3e26a8"/><path d="M1321.1 845.1L1364.7 731L1331.2 721.1L1287.6 841.1Z" fill="#fff"/><path d="M1321.1 845.1L1364.7 731" stroke="#0bbdbd"/><path d="M1321.1 845.1L1287.6 841.1" stroke="#0bbdbd"/><path d="M1364.7 731L1331.2 721.1" stroke="#64cd6f"/><path d="M1287.6 841.1L1331.2 721.1" stroke="#02bac3"/><path d="M1046.1 793L1089.7 950.2L1056.2 906.8L1012.6 783.6Z" fill="#fff"/><path d="M1046.1 793L1089.7 950.2" stroke="#37c897"/><path d="M1046.1 793L1012.6 783.6" stroke="#37c897"/><path d="M1089.7 950.2L1056.2 906.8" stroke="#259be8"/><path d="M1012.6 783.6L1056.2 906.8" stroke="#31c69f"/><path d="M771 1228.4L814.7 979.2L781.2 972.4L737.5 1212.1Z" fill="#fff"/><path d="M771 1228.4L814.7 979.2" stroke="#3e26a8"/><path d="M771 1228.4L737.5 1212.1" stroke="#3e26a8"/><path d="M814.7 979.2L781.2 972.4" stroke="#2d8cf3"/><path d="M737.5 1212.1L781.2 972.4" stroke="#3e26a8"/><path d="M496 1228.7L539.7 1215.9L506.2 1199.3L462.5 1212.3Z" fill="#fff"/><path d="M496 1228.7L539.7 1215.9" stroke="#3e26a8"/><path d="M496 1228.7L462.5 1212.3" stroke="#3e26a8"/><path d="M539.7 1215.9L506.2 1199.3" stroke="#3e26a8"/><path d="M462.5 1212.3L506.2 1199.3" stroke="#3e26a8"/><path d="M1398.2 740.9L1441.8 616L1408.3 580L1364.7 731Z" fill="#fff"/><path d="M1398.2 740.9L1441.8 616" stroke="#64cd6f"/><path d="M1398.2 740.9L1364.7 731" stroke="#64cd6f"/><path d="M1441.8 616L1408.3 580" stroke="#e6bb2d"/><path d="M1364.7 731L1408.3 580" stroke="#64cd6f"/><path d="M1123.2 966.5L1166.8 941.2L1133.3 932.1L1089.7 950.2Z" fill="#fff"/><path d="M1123.2 966.5L1166.8 941.2" stroke="#259be8"/><path d="M1123.2 966.5L1089.7 950.2" stroke="#259be8"/><path d="M1166.8 941.2L1133.3 932.1" stroke="#23a0e5"/><path d="M1089.7 950.2L1133.3 932.1" stroke="#259be8"/><path d="M848.2 1032.9L891.8 453L858.3 435.5L814.7 979.2Z" fill="#fff"/><path d="M848.2 1032.9L891.8 453" stroke="#327cfc"/><path d="M848.2 1032.9L814.7 979.2" stroke="#327cfc"/><path d="M891.8 453L858.3 435.5" stroke="#f9fb15"/><path d="M814.7 979.2L858.3 435.5" stroke="#2d8cf3"/><path d="M573.2 1234.5L616.8 1220.7L583.3 1202.7L539.7 1215.9Z" fill="#fff"/><path d="M573.2 1234.5L616.8 1220.7" stroke="#3e26a8"/><path d="M573.2 1234.5L539.7 1215.9" stroke="#3e26a8"/><path d="M616.8 1220.7L583.3 1202.7" stroke="#3e26a8"/><path d="M539.7 1215.9L583.3 1202.7" stroke="#3e26a8"/><path d="M1475.3 628.9L1519 512.5L1485.5 496.5L1441.8 616Z" fill="#fff"/><path d="M1475.3 628.9L1519 512.5" stroke="#e6bb2d"/><path d="M1475.3 628.9L1441.8 616" stroke="#e6bb2d"/><path d="M1519 512.5L1485.5 496.5" stroke="#f5e327"/><path d="M1441.8 616L1485.5 496.5" stroke="#e6bb2d"/><path d="M1200.3 963.4L1244 925.7L1210.5 926.3L1166.8 941.2Z" fill="#fff"/><path d="M1200.3 963.4L1244 925.7" stroke="#259be8"/><path d="M1200.3 963.4L1166.8 941.2" stroke="#259be8"/><path d="M1244 925.7L1210.5 926.3" stroke="#20a5e3"/><path d="M1166.8 941.2L1210.5 926.3" stroke="#23a0e5"/><path d="M925.3 470.6L968.9 479.1L935.4 458.7L891.8 453Z" fill="#fff"/><path d="M925.3 470.6L968.9 479.1" stroke="#f9fb15"/><path d="M925.3 470.6L891.8 453" stroke="#f9fb15"/><path d="M968.9 479.1L935.4 458.7" stroke="#f7f51b"/><path d="M891.8 453L935.4 458.7" stroke="#f9fb15"/><path d="M650.3 1238.8L693.9 1223.4L660.4 1208L616.8 1220.7Z" fill="#fff"/><path d="M650.3 1238.8L693.9 1223.4" stroke="#3e26a8"/><path d="M650.3 1238.8L616.8 1220.7" stroke="#3e26a8"/><path d="M693.9 1223.4L660.4 1208" stroke="#3e26a8"/><path d="M616.8 1220.7L660.4 1208" stroke="#3e26a8"/><path d="M1552.5 526.2L1596.1 460.7L1562.6 446.1L1519 512.5Z" fill="#fff"/><path d="M1552.5 526.2L1596.1 460.7" stroke="#f5e327"/><path d="M1552.5 526.2L1519 512.5" stroke="#f5e327"/><path d="M1596.1 460.7L1562.6 446.1" stroke="#f9fb15"/><path d="M1519 512.5L1562.6 446.1" stroke="#f5e327"/><path d="M375.3 1231.5L418.9 1226.1L385.4 1207.2L341.8 1208.1Z" fill="#fff"/><path d="M375.3 1231.5L418.9 1226.1" stroke="#3e26a8"/><path d="M375.3 1231.5L341.8 1208.1" stroke="#3e26a8"/><path d="M418.9 1226.1L385.4 1207.2" stroke="#3e26a8"/><path d="M341.8 1208.1L385.4 1207.2" stroke="#402ab4"/><path d="M1277.5 936.8L1321.1 845.1L1287.6 841.1L1244 925.7Z" fill="#fff"/><path d="M1277.5 936.8L1321.1 845.1" stroke="#1ca9df"/><path d="M1277.5 936.8L1244 925.7" stroke="#1ca9df"/><path d="M1321.1 845.1L1287.6 841.1" stroke="#0bbdbd"/><path d="M1244 925.7L1287.6 841.1" stroke="#20a5e3"/><path d="M1002.4 497.8L1046.1 793L1012.6 783.6L968.9 479.1Z" fill="#fff"/><path d="M1002.4 497.8L1046.1 793" stroke="#f7f51b"/><path d="M1002.4 497.8L968.9 479.1" stroke="#f7f51b"/><path d="M1046.1 793L1012.6 783.6" stroke="#37c897"/><path d="M968.9 479.1L1012.6 783.6" stroke="#f7f51b"/><path d="M727.4 1242.5L771 1228.4L737.5 1212.1L693.9 1223.4Z" fill="#fff"/><path d="M727.4 1242.5L771 1228.4" stroke="#3e26a8"/><path d="M727.4 1242.5L693.9 1223.4" stroke="#3e26a8"/><path d="M771 1228.4L737.5 1212.1" stroke="#3e26a8"/><path d="M693.9 1223.4L737.5 1212.1" stroke="#3e26a8"/><path d="M452.4 1242.5L496 1228.7L462.5 1212.3L418.9 1226.1Z" fill="#fff"/><path d="M452.4 1242.5L496 1228.7" stroke="#3e26a8"/><path d="M452.4 1242.5L418.9 1226.1" stroke="#3e26a8"/><path d="M496 1228.7L462.5 1212.3" stroke="#3e26a8"/><path d="M418.9 1226.1L462.5 1212.3" stroke="#3e26a8"/><path d="M1354.6 862.5L1398.2 740.9L1364.7 731L1321.1 845.1Z" fill="#fff"/><path d="M1354.6 862.5L1398.2 740.9" stroke="#0bbdbd"/><path d="M1354.6 862.5L1321.1 845.1" stroke="#0bbdbd"/><path d="M1398.2 740.9L1364.7 731" stroke="#64cd6f"/><path d="M1321.1 845.1L1364.7 731" stroke="#0bbdbd"/><path d="M1079.6 816.7L1123.2 966.5L1089.7 950.2L1046.1 793Z" fill="#fff"/><path d="M1079.6 816.7L1123.2 966.5" stroke="#31c69f"/><path d="M1079.6 816.7L1046.1 793" stroke="#31c69f"/><path d="M1123.2 966.5L1089.7 950.2" stroke="#259be8"/><path d="M1046.1 793L1089.7 950.2" stroke="#37c897"/><path d="M804.5 1246L848.2 1032.9L814.7 979.2L771 1228.4Z" fill="#fff"/><path d="M804.5 1246L848.2 1032.9" stroke="#3e26a8"/><path d="M804.5 1246L771 1228.4" stroke="#3e26a8"/><path d="M848.2 1032.9L814.7 979.2" stroke="#327cfc"/><path d="M771 1228.4L814.7 979.2" stroke="#3e26a8"/><path d="M529.5 1247.5L573.2 1234.5L539.7 1215.9L496 1228.7Z" fill="#fff"/><path d="M529.5 1247.5L573.2 1234.5" stroke="#3e26a8"/><path d="M529.5 1247.5L496 1228.7" stroke="#3e26a8"/><path d="M573.2 1234.5L539.7 1215.9" stroke="#3e26a8"/><path d="M496 1228.7L539.7 1215.9" stroke="#3e26a8"/><path d="M1431.7 735.4L1475.3 628.9L1441.8 616L1398.2 740.9Z" fill="#fff"/><path d="M1431.7 735.4L1475.3 628.9" stroke="#81cc59"/><path d="M1431.7 735.4L1398.2 740.9" stroke="#81cc59"/><path d="M1475.3 628.9L1441.8 616" stroke="#e6bb2d"/><path d="M1398.2 740.9L1441.8 616" stroke="#64cd6f"/><path d="M1156.7 972.4L1200.3 963.4L1166.8 941.2L1123.2 966.5Z" fill="#fff"/><path d="M1156.7 972.4L1200.3 963.4" stroke="#23a0e5"/><path d="M1156.7 972.4L1123.2 966.5" stroke="#23a0e5"/><path d="M1200.3 963.4L1166.8 941.2" stroke="#259be8"/><path d="M1123.2 966.5L1166.8 941.2" stroke="#259be8"/><path d="M881.7 1020.5L925.3 470.6L891.8 453L848.2 1032.9Z" fill="#fff"/><path d="M881.7 1020.5L925.3 470.6" stroke="#2d8cf3"/><path d="M881.7 1020.5L848.2 1032.9" stroke="#2d8cf3"/><path d="M925.3 470.6L891.8 453" stroke="#f9fb15"/><path d="M848.2 1032.9L891.8 453" stroke="#327cfc"/><path d="M606.7 1250.4L650.3 1238.8L616.8 1220.7L573.2 1234.5Z" fill="#fff"/><path d="M606.7 1250.4L650.3 1238.8" stroke="#3e26a8"/><path d="M606.7 1250.4L573.2 1234.5" stroke="#3e26a8"/><path d="M650.3 1238.8L616.8 1220.7" stroke="#3e26a8"/><path d="M573.2 1234.5L616.8 1220.7" stroke="#3e26a8"/><path d="M1508.8 656.9L1552.5 526.2L1519 512.5L1475.3 628.9Z" fill="#fff"/><path d="M1508.8 656.9L1552.5 526.2" stroke="#dcbd29"/><path d="M1508.8 656.9L1475.3 628.9" stroke="#dcbd29"/><path d="M1552.5 526.2L1519 512.5" stroke="#f5e327"/><path d="M1475.3 628.9L1519 512.5" stroke="#e6bb2d"/><path d="M331.6 1214.2L375.3 1231.5L341.8 1208.1L298.1 1213.5Z" fill="#fff"/><path d="M331.6 1214.2L375.3 1231.5" stroke="#4332cb"/><path d="M331.6 1214.2L298.1 1213.5" stroke="#4332cb"/><path d="M375.3 1231.5L341.8 1208.1" stroke="#3e26a8"/><path d="M298.1 1213.5L341.8 1208.1" stroke="#402ab4"/><path d="M1233.8 985.7L1277.5 936.8L1244 925.7L1200.3 963.4Z" fill="#fff"/><path d="M1233.8 985.7L1277.5 936.8" stroke="#259be8"/><path d="M1233.8 985.7L1200.3 963.4" stroke="#259be8"/><path d="M1277.5 936.8L1244 925.7" stroke="#1ca9df"/><path d="M1200.3 963.4L1244 925.7" stroke="#259be8"/><path d="M958.8 488.1L1002.4 497.8L968.9 479.1L925.3 470.6Z" fill="#fff"/><path d="M958.8 488.1L1002.4 497.8" stroke="#f9fb15"/><path d="M958.8 488.1L925.3 470.6" stroke="#f9fb15"/><path d="M1002.4 497.8L968.9 479.1" stroke="#f7f51b"/><path d="M925.3 470.6L968.9 479.1" stroke="#f9fb15"/><path d="M683.8 1256.6L727.4 1242.5L693.9 1223.4L650.3 1238.8Z" fill="#fff"/><path d="M683.8 1256.6L727.4 1242.5" stroke="#3e26a8"/><path d="M683.8 1256.6L650.3 1238.8" stroke="#3e26a8"/><path d="M727.4 1242.5L693.9 1223.4" stroke="#3e26a8"/><path d="M650.3 1238.8L693.9 1223.4" stroke="#3e26a8"/><path d="M1586 547.6L1629.6 480.3L1596.1 460.7L1552.5 526.2Z" fill="#fff"/><path d="M1586 547.6L1629.6 480.3" stroke="#f5e327"/><path d="M1586 547.6L1552.5 526.2" stroke="#f5e327"/><path d="M1629.6 480.3L1596.1 460.7" stroke="#f9fb15"/><path d="M1552.5 526.2L1596.1 460.7" stroke="#f5e327"/><path d="M408.8 1251.3L452.4 1242.5L418.9 1226.1L375.3 1231.5Z" fill="#fff"/><path d="M408.8 1251.3L452.4 1242.5" stroke="#3e26a8"/><path d="M408.8 1251.3L375.3 1231.5" stroke="#3e26a8"/><path d="M452.4 1242.5L418.9 1226.1" stroke="#3e26a8"/><path d="M375.3 1231.5L418.9 1226.1" stroke="#3e26a8"/><path d="M1311 980.3L1354.6 862.5L1321.1 845.1L1277.5 936.8Z" fill="#fff"/><path d="M1311 980.3L1354.6 862.5" stroke="#23a0e5"/><path d="M1311 980.3L1277.5 936.8" stroke="#23a0e5"/><path d="M1354.6 862.5L1321.1 845.1" stroke="#0bbdbd"/><path d="M1277.5 936.8L1321.1 845.1" stroke="#1ca9df"/><path d="M1035.9 513.5L1079.6 816.7L1046.1 793L1002.4 497.8Z" fill="#fff"/><path d="M1035.9 513.5L1079.6 816.7" stroke="#f7f51b"/><path d="M1035.9 513.5L1002.4 497.8" stroke="#f7f51b"/><path d="M1079.6 816.7L1046.1 793" stroke="#31c69f"/><path d="M1002.4 497.8L1046.1 793" stroke="#f7f51b"/><path d="M760.9 1259.1L804.5 1246L771 1228.4L727.4 1242.5Z" fill="#fff"/><path d="M760.9 1259.1L804.5 1246" stroke="#3e26a8"/><path d="M760.9 1259.1L727.4 1242.5" stroke="#3e26a8"/><path d="M804.5 1246L771 1228.4" stroke="#3e26a8"/><path d="M727.4 1242.5L771 1228.4" stroke="#3e26a8"/><path d="M485.9 1259.7L529.5 1247.5L496 1228.7L452.4 1242.5Z" fill="#fff"/><path d="M485.9 1259.7L529.5 1247.5" stroke="#3e26a8"/><path d="M485.9 1259.7L452.4 1242.5" stroke="#3e26a8"/><path d="M529.5 1247.5L496 1228.7" stroke="#3e26a8"/><path d="M452.4 1242.5L496 1228.7" stroke="#3e26a8"/><path d="M1388.1 882.6L1431.7 735.4L1398.2 740.9L1354.6 862.5Z" fill="#fff"/><path d="M1388.1 882.6L1431.7 735.4" stroke="#0bbdbd"/><path d="M1388.1 882.6L1354.6 862.5" stroke="#0bbdbd"/><path d="M1431.7 735.4L1398.2 740.9" stroke="#81cc59"/><path d="M1354.6 862.5L1398.2 740.9" stroke="#0bbdbd"/><path d="M1113.1 819L1156.7 972.4L1123.2 966.5L1079.6 816.7Z" fill="#fff"/><path d="M1113.1 819L1156.7 972.4" stroke="#3fca8e"/><path d="M1113.1 819L1079.6 816.7" stroke="#3fca8e"/><path d="M1156.7 972.4L1123.2 966.5" stroke="#23a0e5"/><path d="M1079.6 816.7L1123.2 966.5" stroke="#31c69f"/><path d="M838 1264L881.7 1020.5L848.2 1032.9L804.5 1246Z" fill="#fff"/><path d="M838 1264L881.7 1020.5" stroke="#3e26a8"/><path d="M838 1264L804.5 1246" stroke="#3e26a8"/><path d="M881.7 1020.5L848.2 1032.9" stroke="#2d8cf3"/><path d="M804.5 1246L848.2 1032.9" stroke="#3e26a8"/><path d="M563 1265.2L606.7 1250.4L573.2 1234.5L529.5 1247.5Z" fill="#fff"/><path d="M563 1265.2L606.7 1250.4" stroke="#3e26a8"/><path d="M563 1265.2L529.5 1247.5" stroke="#3e26a8"/><path d="M606.7 1250.4L573.2 1234.5" stroke="#3e26a8"/><path d="M529.5 1247.5L573.2 1234.5" stroke="#3e26a8"/><path d="M1465.2 785.2L1508.8 656.9L1475.3 628.9L1431.7 735.4Z" fill="#fff"/><path d="M1465.2 785.2L1508.8 656.9" stroke="#64cd6f"/><path d="M1465.2 785.2L1431.7 735.4" stroke="#64cd6f"/><path d="M1508.8 656.9L1475.3 628.9" stroke="#dcbd29"/><path d="M1431.7 735.4L1475.3 628.9" stroke="#81cc59"/><path d="M288 1186.9L331.6 1214.2L298.1 1213.5L254.5 1185.9Z" fill="#fff"/><path d="M288 1186.9L331.6 1214.2" stroke="#4741e5"/><path d="M288 1186.9L254.5 1185.9" stroke="#4741e5"/><path d="M331.6 1214.2L298.1 1213.5" stroke="#4332cb"/><path d="M254.5 1185.9L298.1 1213.5" stroke="#463cde"/><path d="M1190.2 973.7L1233.8 985.7L1200.3 963.4L1156.7 972.4Z" fill="#fff"/><path d="M1190.2 973.7L1233.8 985.7" stroke="#20a5e3"/><path d="M1190.2 973.7L1156.7 972.4" stroke="#20a5e3"/><path d="M1233.8 985.7L1200.3 963.4" stroke="#259be8"/><path d="M1156.7 972.4L1200.3 963.4" stroke="#23a0e5"/><path d="M915.2 1043.4L958.8 488.1L925.3 470.6L881.7 1020.5Z" fill="#fff"/><path d="M915.2 1043.4L958.8 488.1" stroke="#2e87f7"/><path d="M915.2 1043.4L881.7 1020.5" stroke="#2e87f7"/><path d="M958.8 488.1L925.3 470.6" stroke="#f9fb15"/><path d="M881.7 1020.5L925.3 470.6" stroke="#2d8cf3"/><path d="M640.2 1270.1L683.8 1256.6L650.3 1238.8L606.7 1250.4Z" fill="#fff"/><path d="M640.2 1270.1L683.8 1256.6" stroke="#3e26a8"/><path d="M640.2 1270.1L606.7 1250.4" stroke="#3e26a8"/><path d="M683.8 1256.6L650.3 1238.8" stroke="#3e26a8"/><path d="M606.7 1250.4L650.3 1238.8" stroke="#3e26a8"/><path d="M1542.3 651.7L1586 547.6L1552.5 526.2L1508.8 656.9Z" fill="#fff"/><path d="M1542.3 651.7L1586 547.6" stroke="#f0ba36"/><path d="M1542.3 651.7L1508.8 656.9" stroke="#f0ba36"/><path d="M1586 547.6L1552.5 526.2" stroke="#f5e327"/><path d="M1508.8 656.9L1552.5 526.2" stroke="#dcbd29"/><path d="M365.1 1222.2L408.8 1251.3L375.3 1231.5L331.6 1214.2Z" fill="#fff"/><path d="M365.1 1222.2L408.8 1251.3" stroke="#4537d5"/><path d="M365.1 1222.2L331.6 1214.2" stroke="#4537d5"/><path d="M408.8 1251.3L375.3 1231.5" stroke="#3e26a8"/><path d="M331.6 1214.2L375.3 1231.5" stroke="#4332cb"/><path d="M1267.3 1004L1311 980.3L1277.5 936.8L1233.8 985.7Z" fill="#fff"/><path d="M1267.3 1004L1311 980.3" stroke="#259be8"/><path d="M1267.3 1004L1233.8 985.7" stroke="#259be8"/><path d="M1311 980.3L1277.5 936.8" stroke="#23a0e5"/><path d="M1233.8 985.7L1277.5 936.8" stroke="#259be8"/><path d="M992.3 505.7L1035.9 513.5L1002.4 497.8L958.8 488.1Z" fill="#fff"/><path d="M992.3 505.7L1035.9 513.5" stroke="#f9fb15"/><path d="M992.3 505.7L958.8 488.1" stroke="#f9fb15"/><path d="M1035.9 513.5L1002.4 497.8" stroke="#f7f51b"/><path d="M958.8 488.1L1002.4 497.8" stroke="#f9fb15"/><path d="M717.3 1273.2L760.9 1259.1L727.4 1242.5L683.8 1256.6Z" fill="#fff"/><path d="M717.3 1273.2L760.9 1259.1" stroke="#3e26a8"/><path d="M717.3 1273.2L683.8 1256.6" stroke="#3e26a8"/><path d="M760.9 1259.1L727.4 1242.5" stroke="#3e26a8"/><path d="M683.8 1256.6L727.4 1242.5" stroke="#3e26a8"/><path d="M1619.5 562.9L1663.1 498.6L1629.6 480.3L1586 547.6Z" fill="#fff"/><path d="M1619.5 562.9L1663.1 498.6" stroke="#f5e327"/><path d="M1619.5 562.9L1586 547.6" stroke="#f5e327"/><path d="M1663.1 498.6L1629.6 480.3" stroke="#f9fb15"/><path d="M1586 547.6L1629.6 480.3" stroke="#f5e327"/><path d="M442.3 1267.2L485.9 1259.7L452.4 1242.5L408.8 1251.3Z" fill="#fff"/><path d="M442.3 1267.2L485.9 1259.7" stroke="#3e26a8"/><path d="M442.3 1267.2L408.8 1251.3" stroke="#3e26a8"/><path d="M485.9 1259.7L452.4 1242.5" stroke="#3e26a8"/><path d="M408.8 1251.3L452.4 1242.5" stroke="#3e26a8"/><path d="M1344.5 972.7L1388.1 882.6L1354.6 862.5L1311 980.3Z" fill="#fff"/><path d="M1344.5 972.7L1388.1 882.6" stroke="#1ca9df"/><path d="M1344.5 972.7L1311 980.3" stroke="#1ca9df"/><path d="M1388.1 882.6L1354.6 862.5" stroke="#0bbdbd"/><path d="M1311 980.3L1354.6 862.5" stroke="#23a0e5"/><path d="M1069.4 535.3L1113.1 819L1079.6 816.7L1035.9 513.5Z" fill="#fff"/><path d="M1069.4 535.3L1113.1 819" stroke="#f6ef20"/><path d="M1069.4 535.3L1035.9 513.5" stroke="#f6ef20"/><path d="M1113.1 819L1079.6 816.7" stroke="#3fca8e"/><path d="M1035.9 513.5L1079.6 816.7" stroke="#f7f51b"/><path d="M794.4 1277.3L838 1264L804.5 1246L760.9 1259.1Z" fill="#fff"/><path d="M794.4 1277.3L838 1264" stroke="#3e26a8"/><path d="M794.4 1277.3L760.9 1259.1" stroke="#3e26a8"/><path d="M838 1264L804.5 1246" stroke="#3e26a8"/><path d="M760.9 1259.1L804.5 1246" stroke="#3e26a8"/><path d="M519.4 1278.9L563 1265.2L529.5 1247.5L485.9 1259.7Z" fill="#fff"/><path d="M519.4 1278.9L563 1265.2" stroke="#3e26a8"/><path d="M519.4 1278.9L485.9 1259.7" stroke="#3e26a8"/><path d="M563 1265.2L529.5 1247.5" stroke="#3e26a8"/><path d="M485.9 1259.7L529.5 1247.5" stroke="#3e26a8"/><path d="M1421.6 921.2L1465.2 785.2L1431.7 735.4L1388.1 882.6Z" fill="#fff"/><path d="M1421.6 921.2L1465.2 785.2" stroke="#01b8ca"/><path d="M1421.6 921.2L1388.1 882.6" stroke="#01b8ca"/><path d="M1465.2 785.2L1431.7 735.4" stroke="#64cd6f"/><path d="M1388.1 882.6L1431.7 735.4" stroke="#0bbdbd"/><path d="M1146.6 835.5L1190.2 973.7L1156.7 972.4L1113.1 819Z" fill="#fff"/><path d="M1146.6 835.5L1190.2 973.7" stroke="#3fca8e"/><path d="M1146.6 835.5L1113.1 819" stroke="#3fca8e"/><path d="M1190.2 973.7L1156.7 972.4" stroke="#20a5e3"/><path d="M1113.1 819L1156.7 972.4" stroke="#3fca8e"/><path d="M871.5 1281L915.2 1043.4L881.7 1020.5L838 1264Z" fill="#fff"/><path d="M871.5 1281L915.2 1043.4" stroke="#3e26a8"/><path d="M871.5 1281L838 1264" stroke="#3e26a8"/><path d="M915.2 1043.4L881.7 1020.5" stroke="#2e87f7"/><path d="M838 1264L881.7 1020.5" stroke="#3e26a8"/><path d="M596.5 1282.2L640.2 1270.1L606.7 1250.4L563 1265.2Z" fill="#fff"/><path d="M596.5 1282.2L640.2 1270.1" stroke="#3e26a8"/><path d="M596.5 1282.2L563 1265.2" stroke="#3e26a8"/><path d="M640.2 1270.1L606.7 1250.4" stroke="#3e26a8"/><path d="M563 1265.2L606.7 1250.4" stroke="#3e26a8"/><path d="M1498.7 810.5L1542.3 651.7L1508.8 656.9L1465.2 785.2Z" fill="#fff"/><path d="M1498.7 810.5L1542.3 651.7" stroke="#57cc7a"/><path d="M1498.7 810.5L1465.2 785.2" stroke="#57cc7a"/><path d="M1542.3 651.7L1508.8 656.9" stroke="#f0ba36"/><path d="M1465.2 785.2L1508.8 656.9" stroke="#64cd6f"/><path d="M321.5 1216.7L365.1 1222.2L331.6 1214.2L288 1186.9Z" fill="#fff"/><path d="M321.5 1216.7L365.1 1222.2" stroke="#463cde"/><path d="M321.5 1216.7L288 1186.9" stroke="#463cde"/><path d="M365.1 1222.2L331.6 1214.2" stroke="#4537d5"/><path d="M288 1186.9L331.6 1214.2" stroke="#4741e5"/><path d="M1223.7 995.6L1267.3 1004L1233.8 985.7L1190.2 973.7Z" fill="#fff"/><path d="M1223.7 995.6L1267.3 1004" stroke="#20a5e3"/><path d="M1223.7 995.6L1190.2 973.7" stroke="#20a5e3"/><path d="M1267.3 1004L1233.8 985.7" stroke="#259be8"/><path d="M1190.2 973.7L1233.8 985.7" stroke="#20a5e3"/><path d="M948.7 1081.8L992.3 505.7L958.8 488.1L915.2 1043.4Z" fill="#fff"/><path d="M948.7 1081.8L992.3 505.7" stroke="#2f81fa"/><path d="M948.7 1081.8L915.2 1043.4" stroke="#2f81fa"/><path d="M992.3 505.7L958.8 488.1" stroke="#f9fb15"/><path d="M915.2 1043.4L958.8 488.1" stroke="#2e87f7"/><path d="M673.7 1287.5L717.3 1273.2L683.8 1256.6L640.2 1270.1Z" fill="#fff"/><path d="M673.7 1287.5L717.3 1273.2" stroke="#3e26a8"/><path d="M673.7 1287.5L640.2 1270.1" stroke="#3e26a8"/><path d="M717.3 1273.2L683.8 1256.6" stroke="#3e26a8"/><path d="M640.2 1270.1L683.8 1256.6" stroke="#3e26a8"/><path d="M1575.8 677L1619.5 562.9L1586 547.6L1542.3 651.7Z" fill="#fff"/><path d="M1575.8 677L1619.5 562.9" stroke="#f0ba36"/><path d="M1575.8 677L1542.3 651.7" stroke="#f0ba36"/><path d="M1619.5 562.9L1586 547.6" stroke="#f5e327"/><path d="M1542.3 651.7L1586 547.6" stroke="#f0ba36"/><path d="M398.6 1234.7L442.3 1267.2L408.8 1251.3L365.1 1222.2Z" fill="#fff"/><path d="M398.6 1234.7L442.3 1267.2" stroke="#4537d5"/><path d="M398.6 1234.7L365.1 1222.2" stroke="#4537d5"/><path d="M442.3 1267.2L408.8 1251.3" stroke="#3e26a8"/><path d="M365.1 1222.2L408.8 1251.3" stroke="#4537d5"/><path d="M1300.8 1027.2L1344.5 972.7L1311 980.3L1267.3 1004Z" fill="#fff"/><path d="M1300.8 1027.2L1344.5 972.7" stroke="#2797eb"/><path d="M1300.8 1027.2L1267.3 1004" stroke="#2797eb"/><path d="M1344.5 972.7L1311 980.3" stroke="#1ca9df"/><path d="M1267.3 1004L1311 980.3" stroke="#259be8"/><path d="M1025.8 523.3L1069.4 535.3L1035.9 513.5L992.3 505.7Z" fill="#fff"/><path d="M1025.8 523.3L1069.4 535.3" stroke="#f9fb15"/><path d="M1025.8 523.3L992.3 505.7" stroke="#f9fb15"/><path d="M1069.4 535.3L1035.9 513.5" stroke="#f6ef20"/><path d="M992.3 505.7L1035.9 513.5" stroke="#f9fb15"/><path d="M750.8 1291.2L794.4 1277.3L760.9 1259.1L717.3 1273.2Z" fill="#fff"/><path d="M750.8 1291.2L794.4 1277.3" stroke="#3e26a8"/><path d="M750.8 1291.2L717.3 1273.2" stroke="#3e26a8"/><path d="M794.4 1277.3L760.9 1259.1" stroke="#3e26a8"/><path d="M717.3 1273.2L760.9 1259.1" stroke="#3e26a8"/><path d="M1653 590.4L1696.6 513.3L1663.1 498.6L1619.5 562.9Z" fill="#fff"/><path d="M1653 590.4L1696.6 513.3" stroke="#f7dc2a"/><path d="M1653 590.4L1619.5 562.9" stroke="#f7dc2a"/><path d="M1696.6 513.3L1663.1 498.6" stroke="#f9fb15"/><path d="M1619.5 562.9L1663.1 498.6" stroke="#f5e327"/><path d="M475.8 1280L519.4 1278.9L485.9 1259.7L442.3 1267.2Z" fill="#fff"/><path d="M475.8 1280L519.4 1278.9" stroke="#402ab4"/><path d="M475.8 1280L442.3 1267.2" stroke="#402ab4"/><path d="M519.4 1278.9L485.9 1259.7" stroke="#3e26a8"/><path d="M442.3 1267.2L485.9 1259.7" stroke="#3e26a8"/><path d="M1378 993.8L1421.6 921.2L1388.1 882.6L1344.5 972.7Z" fill="#fff"/><path d="M1378 993.8L1421.6 921.2" stroke="#1ca9df"/><path d="M1378 993.8L1344.5 972.7" stroke="#1ca9df"/><path d="M1421.6 921.2L1388.1 882.6" stroke="#01b8ca"/><path d="M1344.5 972.7L1388.1 882.6" stroke="#1ca9df"/><path d="M1102.9 550.6L1146.6 835.5L1113.1 819L1069.4 535.3Z" fill="#fff"/><path d="M1102.9 550.6L1146.6 835.5" stroke="#f7f51b"/><path d="M1102.9 550.6L1069.4 535.3" stroke="#f7f51b"/><path d="M1146.6 835.5L1113.1 819" stroke="#3fca8e"/><path d="M1069.4 535.3L1113.1 819" stroke="#f6ef20"/><path d="M827.9 1294.5L871.5 1281L838 1264L794.4 1277.3Z" fill="#fff"/><path d="M827.9 1294.5L871.5 1281" stroke="#3e26a8"/><path d="M827.9 1294.5L794.4 1277.3" stroke="#3e26a8"/><path d="M871.5 1281L838 1264" stroke="#3e26a8"/><path d="M794.4 1277.3L838 1264" stroke="#3e26a8"/><path d="M552.9 1296.6L596.5 1282.2L563 1265.2L519.4 1278.9Z" fill="#fff"/><path d="M552.9 1296.6L596.5 1282.2" stroke="#3e26a8"/><path d="M552.9 1296.6L519.4 1278.9" stroke="#3e26a8"/><path d="M596.5 1282.2L563 1265.2" stroke="#3e26a8"/><path d="M519.4 1278.9L563 1265.2" stroke="#3e26a8"/><path d="M1455.1 942.3L1498.7 810.5L1465.2 785.2L1421.6 921.2Z" fill="#fff"/><path d="M1455.1 942.3L1498.7 810.5" stroke="#01b8ca"/><path d="M1455.1 942.3L1421.6 921.2" stroke="#01b8ca"/><path d="M1498.7 810.5L1465.2 785.2" stroke="#57cc7a"/><path d="M1421.6 921.2L1465.2 785.2" stroke="#01b8ca"/><path d="M1180.1 856.4L1223.7 995.6L1190.2 973.7L1146.6 835.5Z" fill="#fff"/><path d="M1180.1 856.4L1223.7 995.6" stroke="#37c897"/><path d="M1180.1 856.4L1146.6 835.5" stroke="#37c897"/><path d="M1223.7 995.6L1190.2 973.7" stroke="#20a5e3"/><path d="M1146.6 835.5L1190.2 973.7" stroke="#3fca8e"/><path d="M905 1298.7L948.7 1081.8L915.2 1043.4L871.5 1281Z" fill="#fff"/><path d="M905 1298.7L948.7 1081.8" stroke="#3e26a8"/><path d="M905 1298.7L871.5 1281" stroke="#3e26a8"/><path d="M948.7 1081.8L915.2 1043.4" stroke="#2f81fa"/><path d="M871.5 1281L915.2 1043.4" stroke="#3e26a8"/><path d="M630 1300.6L673.7 1287.5L640.2 1270.1L596.5 1282.2Z" fill="#fff"/><path d="M630 1300.6L673.7 1287.5" stroke="#3e26a8"/><path d="M630 1300.6L596.5 1282.2" stroke="#3e26a8"/><path d="M673.7 1287.5L640.2 1270.1" stroke="#3e26a8"/><path d="M596.5 1282.2L640.2 1270.1" stroke="#3e26a8"/><path d="M1532.2 809.6L1575.8 677L1542.3 651.7L1498.7 810.5Z" fill="#fff"/><path d="M1532.2 809.6L1575.8 677" stroke="#72cd64"/><path d="M1532.2 809.6L1498.7 810.5" stroke="#72cd64"/><path d="M1575.8 677L1542.3 651.7" stroke="#f0ba36"/><path d="M1498.7 810.5L1542.3 651.7" stroke="#57cc7a"/><path d="M355 1223.6L398.6 1234.7L365.1 1222.2L321.5 1216.7Z" fill="#fff"/><path d="M355 1223.6L398.6 1234.7" stroke="#4741e5"/><path d="M355 1223.6L321.5 1216.7" stroke="#4741e5"/><path d="M398.6 1234.7L365.1 1222.2" stroke="#4537d5"/><path d="M321.5 1216.7L365.1 1222.2" stroke="#463cde"/><path d="M1257.2 1029.3L1300.8 1027.2L1267.3 1004L1223.7 995.6Z" fill="#fff"/><path d="M1257.2 1029.3L1300.8 1027.2" stroke="#259be8"/><path d="M1257.2 1029.3L1223.7 995.6" stroke="#259be8"/><path d="M1300.8 1027.2L1267.3 1004" stroke="#2797eb"/><path d="M1223.7 995.6L1267.3 1004" stroke="#20a5e3"/><path d="M982.2 1094.7L1025.8 523.3L992.3 505.7L948.7 1081.8Z" fill="#fff"/><path d="M982.2 1094.7L1025.8 523.3" stroke="#2f81fa"/><path d="M982.2 1094.7L948.7 1081.8" stroke="#2f81fa"/><path d="M1025.8 523.3L992.3 505.7" stroke="#f9fb15"/><path d="M948.7 1081.8L992.3 505.7" stroke="#2f81fa"/><path d="M707.2 1304.3L750.8 1291.2L717.3 1273.2L673.7 1287.5Z" fill="#fff"/><path d="M707.2 1304.3L750.8 1291.2" stroke="#3e26a8"/><path d="M707.2 1304.3L673.7 1287.5" stroke="#3e26a8"/><path d="M750.8 1291.2L717.3 1273.2" stroke="#3e26a8"/><path d="M673.7 1287.5L717.3 1273.2" stroke="#3e26a8"/><path d="M1609.3 693.8L1653 590.4L1619.5 562.9L1575.8 677Z" fill="#fff"/><path d="M1609.3 693.8L1653 590.4" stroke="#f0ba36"/><path d="M1609.3 693.8L1575.8 677" stroke="#f0ba36"/><path d="M1653 590.4L1619.5 562.9" stroke="#f7dc2a"/><path d="M1575.8 677L1619.5 562.9" stroke="#f0ba36"/><path d="M432.1 1246.3L475.8 1280L442.3 1267.2L398.6 1234.7Z" fill="#fff"/><path d="M432.1 1246.3L475.8 1280" stroke="#463cde"/><path d="M432.1 1246.3L398.6 1234.7" stroke="#463cde"/><path d="M475.8 1280L442.3 1267.2" stroke="#402ab4"/><path d="M398.6 1234.7L442.3 1267.2" stroke="#4537d5"/><path d="M1334.3 1039.1L1378 993.8L1344.5 972.7L1300.8 1027.2Z" fill="#fff"/><path d="M1334.3 1039.1L1378 993.8" stroke="#259be8"/><path d="M1334.3 1039.1L1300.8 1027.2" stroke="#259be8"/><path d="M1378 993.8L1344.5 972.7" stroke="#1ca9df"/><path d="M1300.8 1027.2L1344.5 972.7" stroke="#2797eb"/><path d="M1059.3 540.8L1102.9 550.6L1069.4 535.3L1025.8 523.3Z" fill="#fff"/><path d="M1059.3 540.8L1102.9 550.6" stroke="#f9fb15"/><path d="M1059.3 540.8L1025.8 523.3" stroke="#f9fb15"/><path d="M1102.9 550.6L1069.4 535.3" stroke="#f7f51b"/><path d="M1025.8 523.3L1069.4 535.3" stroke="#f9fb15"/><path d="M784.3 1309.4L827.9 1294.5L794.4 1277.3L750.8 1291.2Z" fill="#fff"/><path d="M784.3 1309.4L827.9 1294.5" stroke="#3e26a8"/><path d="M784.3 1309.4L750.8 1291.2" stroke="#3e26a8"/><path d="M827.9 1294.5L794.4 1277.3" stroke="#3e26a8"/><path d="M750.8 1291.2L794.4 1277.3" stroke="#3e26a8"/><path d="M1686.5 597.2L1730.1 534.3L1696.6 513.3L1653 590.4Z" fill="#fff"/><path d="M1686.5 597.2L1730.1 534.3" stroke="#f5e327"/><path d="M1686.5 597.2L1653 590.4" stroke="#f5e327"/><path d="M1730.1 534.3L1696.6 513.3" stroke="#f9fb15"/><path d="M1653 590.4L1696.6 513.3" stroke="#f7dc2a"/><path d="M509.3 1299L552.9 1296.6L519.4 1278.9L475.8 1280Z" fill="#fff"/><path d="M509.3 1299L552.9 1296.6" stroke="#402ab4"/><path d="M509.3 1299L475.8 1280" stroke="#402ab4"/><path d="M552.9 1296.6L519.4 1278.9" stroke="#3e26a8"/><path d="M475.8 1280L519.4 1278.9" stroke="#402ab4"/><path d="M1411.5 1023.6L1455.1 942.3L1421.6 921.2L1378 993.8Z" fill="#fff"/><path d="M1411.5 1023.6L1455.1 942.3" stroke="#20a5e3"/><path d="M1411.5 1023.6L1378 993.8" stroke="#20a5e3"/><path d="M1455.1 942.3L1421.6 921.2" stroke="#01b8ca"/><path d="M1378 993.8L1421.6 921.2" stroke="#1ca9df"/><path d="M1136.4 567L1180.1 856.4L1146.6 835.5L1102.9 550.6Z" fill="#fff"/><path d="M1136.4 567L1180.1 856.4" stroke="#f7f51b"/><path d="M1136.4 567L1102.9 550.6" stroke="#f7f51b"/><path d="M1180.1 856.4L1146.6 835.5" stroke="#37c897"/><path d="M1102.9 550.6L1146.6 835.5" stroke="#f7f51b"/><path d="M861.4 1313.5L905 1298.7L871.5 1281L827.9 1294.5Z" fill="#fff"/><path d="M861.4 1313.5L905 1298.7" stroke="#3e26a8"/><path d="M861.4 1313.5L827.9 1294.5" stroke="#3e26a8"/><path d="M905 1298.7L871.5 1281" stroke="#3e26a8"/><path d="M827.9 1294.5L871.5 1281" stroke="#3e26a8"/><path d="M586.4 1313.7L630 1300.6L596.5 1282.2L552.9 1296.6Z" fill="#fff"/><path d="M586.4 1313.7L630 1300.6" stroke="#3e26a8"/><path d="M586.4 1313.7L552.9 1296.6" stroke="#3e26a8"/><path d="M630 1300.6L596.5 1282.2" stroke="#3e26a8"/><path d="M552.9 1296.6L596.5 1282.2" stroke="#3e26a8"/><path d="M1488.6 936.8L1532.2 809.6L1498.7 810.5L1455.1 942.3Z" fill="#fff"/><path d="M1488.6 936.8L1532.2 809.6" stroke="#0bbdbd"/><path d="M1488.6 936.8L1455.1 942.3" stroke="#0bbdbd"/><path d="M1532.2 809.6L1498.7 810.5" stroke="#72cd64"/><path d="M1455.1 942.3L1498.7 810.5" stroke="#01b8ca"/><path d="M1213.6 885.5L1257.2 1029.3L1223.7 995.6L1180.1 856.4Z" fill="#fff"/><path d="M1213.6 885.5L1257.2 1029.3" stroke="#31c69f"/><path d="M1213.6 885.5L1180.1 856.4" stroke="#31c69f"/><path d="M1257.2 1029.3L1223.7 995.6" stroke="#259be8"/><path d="M1180.1 856.4L1223.7 995.6" stroke="#37c897"/><path d="M938.5 1315.6L982.2 1094.7L948.7 1081.8L905 1298.7Z" fill="#fff"/><path d="M938.5 1315.6L982.2 1094.7" stroke="#3e26a8"/><path d="M938.5 1315.6L905 1298.7" stroke="#3e26a8"/><path d="M982.2 1094.7L948.7 1081.8" stroke="#2f81fa"/><path d="M905 1298.7L948.7 1081.8" stroke="#3e26a8"/><path d="M663.5 1317.4L707.2 1304.3L673.7 1287.5L630 1300.6Z" fill="#fff"/><path d="M663.5 1317.4L707.2 1304.3" stroke="#3e26a8"/><path d="M663.5 1317.4L630 1300.6" stroke="#3e26a8"/><path d="M707.2 1304.3L673.7 1287.5" stroke="#3e26a8"/><path d="M630 1300.6L673.7 1287.5" stroke="#3e26a8"/><path d="M1565.7 836.4L1609.3 693.8L1575.8 677L1532.2 809.6Z" fill="#fff"/><path d="M1565.7 836.4L1609.3 693.8" stroke="#64cd6f"/><path d="M1565.7 836.4L1532.2 809.6" stroke="#64cd6f"/><path d="M1609.3 693.8L1575.8 677" stroke="#f0ba36"/><path d="M1532.2 809.6L1575.8 677" stroke="#72cd64"/><path d="M388.5 1240.7L432.1 1246.3L398.6 1234.7L355 1223.6Z" fill="#fff"/><path d="M388.5 1240.7L432.1 1246.3" stroke="#4741e5"/><path d="M388.5 1240.7L355 1223.6" stroke="#4741e5"/><path d="M432.1 1246.3L398.6 1234.7" stroke="#463cde"/><path d="M355 1223.6L398.6 1234.7" stroke="#4741e5"/><path d="M1290.7 1041.4L1334.3 1039.1L1300.8 1027.2L1257.2 1029.3Z" fill="#fff"/><path d="M1290.7 1041.4L1334.3 1039.1" stroke="#23a0e5"/><path d="M1290.7 1041.4L1257.2 1029.3" stroke="#23a0e5"/><path d="M1334.3 1039.1L1300.8 1027.2" stroke="#259be8"/><path d="M1257.2 1029.3L1300.8 1027.2" stroke="#259be8"/><path d="M1015.7 1100L1059.3 540.8L1025.8 523.3L982.2 1094.7Z" fill="#fff"/><path d="M1015.7 1100L1059.3 540.8" stroke="#2e87f7"/><path d="M1015.7 1100L982.2 1094.7" stroke="#2e87f7"/><path d="M1059.3 540.8L1025.8 523.3" stroke="#f9fb15"/><path d="M982.2 1094.7L1025.8 523.3" stroke="#2f81fa"/><path d="M740.7 1321.5L784.3 1309.4L750.8 1291.2L707.2 1304.3Z" fill="#fff"/><path d="M740.7 1321.5L784.3 1309.4" stroke="#3e26a8"/><path d="M740.7 1321.5L707.2 1304.3" stroke="#3e26a8"/><path d="M784.3 1309.4L750.8 1291.2" stroke="#3e26a8"/><path d="M707.2 1304.3L750.8 1291.2" stroke="#3e26a8"/><path d="M1642.8 717.5L1686.5 597.2L1653 590.4L1609.3 693.8Z" fill="#fff"/><path d="M1642.8 717.5L1686.5 597.2" stroke="#e6bb2d"/><path d="M1642.8 717.5L1609.3 693.8" stroke="#e6bb2d"/><path d="M1686.5 597.2L1653 590.4" stroke="#f5e327"/><path d="M1609.3 693.8L1653 590.4" stroke="#f0ba36"/><path d="M465.6 1263.7L509.3 1299L475.8 1280L432.1 1246.3Z" fill="#fff"/><path d="M465.6 1263.7L509.3 1299" stroke="#463cde"/><path d="M465.6 1263.7L432.1 1246.3" stroke="#463cde"/><path d="M509.3 1299L475.8 1280" stroke="#402ab4"/><path d="M432.1 1246.3L475.8 1280" stroke="#463cde"/><path d="M1367.8 1074.6L1411.5 1023.6L1378 993.8L1334.3 1039.1Z" fill="#fff"/><path d="M1367.8 1074.6L1411.5 1023.6" stroke="#2b91ef"/><path d="M1367.8 1074.6L1334.3 1039.1" stroke="#2b91ef"/><path d="M1411.5 1023.6L1378 993.8" stroke="#20a5e3"/><path d="M1334.3 1039.1L1378 993.8" stroke="#259be8"/><path d="M1092.8 558.4L1136.4 567L1102.9 550.6L1059.3 540.8Z" fill="#fff"/><path d="M1092.8 558.4L1136.4 567" stroke="#f9fb15"/><path d="M1092.8 558.4L1059.3 540.8" stroke="#f9fb15"/><path d="M1136.4 567L1102.9 550.6" stroke="#f7f51b"/><path d="M1059.3 540.8L1102.9 550.6" stroke="#f9fb15"/><path d="M817.8 1326.5L861.4 1313.5L827.9 1294.5L784.3 1309.4Z" fill="#fff"/><path d="M817.8 1326.5L861.4 1313.5" stroke="#3e26a8"/><path d="M817.8 1326.5L784.3 1309.4" stroke="#3e26a8"/><path d="M861.4 1313.5L827.9 1294.5" stroke="#3e26a8"/><path d="M784.3 1309.4L827.9 1294.5" stroke="#3e26a8"/><path d="M1720 604L1763.6 548.4L1730.1 534.3L1686.5 597.2Z" fill="#fff"/><path d="M1720 604L1763.6 548.4" stroke="#f5e924"/><path d="M1720 604L1686.5 597.2" stroke="#f5e924"/><path d="M1763.6 548.4L1730.1 534.3" stroke="#f9fb15"/><path d="M1686.5 597.2L1730.1 534.3" stroke="#f5e327"/><path d="M542.8 1321.7L586.4 1313.7L552.9 1296.6L509.3 1299Z" fill="#fff"/><path d="M542.8 1321.7L586.4 1313.7" stroke="#3e26a8"/><path d="M542.8 1321.7L509.3 1299" stroke="#3e26a8"/><path d="M586.4 1313.7L552.9 1296.6" stroke="#3e26a8"/><path d="M509.3 1299L552.9 1296.6" stroke="#402ab4"/><path d="M1445 1030L1488.6 936.8L1455.1 942.3L1411.5 1023.6Z" fill="#fff"/><path d="M1445 1030L1488.6 936.8" stroke="#20a5e3"/><path d="M1445 1030L1411.5 1023.6" stroke="#20a5e3"/><path d="M1488.6 936.8L1455.1 942.3" stroke="#0bbdbd"/><path d="M1411.5 1023.6L1455.1 942.3" stroke="#20a5e3"/><path d="M1169.9 589.9L1213.6 885.5L1180.1 856.4L1136.4 567Z" fill="#fff"/><path d="M1169.9 589.9L1213.6 885.5" stroke="#f6ef20"/><path d="M1169.9 589.9L1136.4 567" stroke="#f6ef20"/><path d="M1213.6 885.5L1180.1 856.4" stroke="#31c69f"/><path d="M1136.4 567L1180.1 856.4" stroke="#f7f51b"/><path d="M894.9 1328.8L938.5 1315.6L905 1298.7L861.4 1313.5Z" fill="#fff"/><path d="M894.9 1328.8L938.5 1315.6" stroke="#3e26a8"/><path d="M894.9 1328.8L861.4 1313.5" stroke="#3e26a8"/><path d="M938.5 1315.6L905 1298.7" stroke="#3e26a8"/><path d="M861.4 1313.5L905 1298.7" stroke="#3e26a8"/><path d="M619.9 1331.9L663.5 1317.4L630 1300.6L586.4 1313.7Z" fill="#fff"/><path d="M619.9 1331.9L663.5 1317.4" stroke="#3e26a8"/><path d="M619.9 1331.9L586.4 1313.7" stroke="#3e26a8"/><path d="M663.5 1317.4L630 1300.6" stroke="#3e26a8"/><path d="M586.4 1313.7L630 1300.6" stroke="#3e26a8"/><path d="M1522.1 969.1L1565.7 836.4L1532.2 809.6L1488.6 936.8Z" fill="#fff"/><path d="M1522.1 969.1L1565.7 836.4" stroke="#02bac3"/><path d="M1522.1 969.1L1488.6 936.8" stroke="#02bac3"/><path d="M1565.7 836.4L1532.2 809.6" stroke="#64cd6f"/><path d="M1488.6 936.8L1532.2 809.6" stroke="#0bbdbd"/><path d="M1247.1 910.2L1290.7 1041.4L1257.2 1029.3L1213.6 885.5Z" fill="#fff"/><path d="M1247.1 910.2L1290.7 1041.4" stroke="#31c69f"/><path d="M1247.1 910.2L1213.6 885.5" stroke="#31c69f"/><path d="M1290.7 1041.4L1257.2 1029.3" stroke="#23a0e5"/><path d="M1213.6 885.5L1257.2 1029.3" stroke="#31c69f"/><path d="M972 1333.3L1015.7 1100L982.2 1094.7L938.5 1315.6Z" fill="#fff"/><path d="M972 1333.3L1015.7 1100" stroke="#3e26a8"/><path d="M972 1333.3L938.5 1315.6" stroke="#3e26a8"/><path d="M1015.7 1100L982.2 1094.7" stroke="#2e87f7"/><path d="M938.5 1315.6L982.2 1094.7" stroke="#3e26a8"/><path d="M697 1336.1L740.7 1321.5L707.2 1304.3L663.5 1317.4Z" fill="#fff"/><path d="M697 1336.1L740.7 1321.5" stroke="#3e26a8"/><path d="M697 1336.1L663.5 1317.4" stroke="#3e26a8"/><path d="M740.7 1321.5L707.2 1304.3" stroke="#3e26a8"/><path d="M663.5 1317.4L707.2 1304.3" stroke="#3e26a8"/><path d="M1599.2 863.9L1642.8 717.5L1609.3 693.8L1565.7 836.4Z" fill="#fff"/><path d="M1599.2 863.9L1642.8 717.5" stroke="#57cc7a"/><path d="M1599.2 863.9L1565.7 836.4" stroke="#57cc7a"/><path d="M1642.8 717.5L1609.3 693.8" stroke="#e6bb2d"/><path d="M1565.7 836.4L1609.3 693.8" stroke="#64cd6f"/><path d="M422 1280L465.6 1263.7L432.1 1246.3L388.5 1240.7Z" fill="#fff"/><path d="M422 1280L465.6 1263.7" stroke="#4537d5"/><path d="M422 1280L388.5 1240.7" stroke="#4537d5"/><path d="M465.6 1263.7L432.1 1246.3" stroke="#463cde"/><path d="M388.5 1240.7L432.1 1246.3" stroke="#4741e5"/><path d="M1324.2 1054.9L1367.8 1074.6L1334.3 1039.1L1290.7 1041.4Z" fill="#fff"/><path d="M1324.2 1054.9L1367.8 1074.6" stroke="#23a0e5"/><path d="M1324.2 1054.9L1290.7 1041.4" stroke="#23a0e5"/><path d="M1367.8 1074.6L1334.3 1039.1" stroke="#2b91ef"/><path d="M1290.7 1041.4L1334.3 1039.1" stroke="#23a0e5"/><path d="M1049.2 1124.4L1092.8 558.4L1059.3 540.8L1015.7 1100Z" fill="#fff"/><path d="M1049.2 1124.4L1092.8 558.4" stroke="#2f81fa"/><path d="M1049.2 1124.4L1015.7 1100" stroke="#2f81fa"/><path d="M1092.8 558.4L1059.3 540.8" stroke="#f9fb15"/><path d="M1015.7 1100L1059.3 540.8" stroke="#2e87f7"/><path d="M774.2 1338.4L817.8 1326.5L784.3 1309.4L740.7 1321.5Z" fill="#fff"/><path d="M774.2 1338.4L817.8 1326.5" stroke="#3e26a8"/><path d="M774.2 1338.4L740.7 1321.5" stroke="#3e26a8"/><path d="M817.8 1326.5L784.3 1309.4" stroke="#3e26a8"/><path d="M740.7 1321.5L784.3 1309.4" stroke="#3e26a8"/><path d="M1676.3 724.3L1720 604L1686.5 597.2L1642.8 717.5Z" fill="#fff"/><path d="M1676.3 724.3L1720 604" stroke="#f0ba36"/><path d="M1676.3 724.3L1642.8 717.5" stroke="#f0ba36"/><path d="M1720 604L1686.5 597.2" stroke="#f5e924"/><path d="M1642.8 717.5L1686.5 597.2" stroke="#e6bb2d"/><path d="M499.1 1309L542.8 1321.7L509.3 1299L465.6 1263.7Z" fill="#fff"/><path d="M499.1 1309L542.8 1321.7" stroke="#422ec0"/><path d="M499.1 1309L465.6 1263.7" stroke="#422ec0"/><path d="M542.8 1321.7L509.3 1299" stroke="#3e26a8"/><path d="M465.6 1263.7L509.3 1299" stroke="#463cde"/><path d="M1401.3 1089.3L1445 1030L1411.5 1023.6L1367.8 1074.6Z" fill="#fff"/><path d="M1401.3 1089.3L1445 1030" stroke="#2797eb"/><path d="M1401.3 1089.3L1367.8 1074.6" stroke="#2797eb"/><path d="M1445 1030L1411.5 1023.6" stroke="#20a5e3"/><path d="M1367.8 1074.6L1411.5 1023.6" stroke="#2b91ef"/><path d="M1126.3 575.9L1169.9 589.9L1136.4 567L1092.8 558.4Z" fill="#fff"/><path d="M1126.3 575.9L1169.9 589.9" stroke="#f9fb15"/><path d="M1126.3 575.9L1092.8 558.4" stroke="#f9fb15"/><path d="M1169.9 589.9L1136.4 567" stroke="#f6ef20"/><path d="M1092.8 558.4L1136.4 567" stroke="#f9fb15"/><path d="M851.3 1342.4L894.9 1328.8L861.4 1313.5L817.8 1326.5Z" fill="#fff"/><path d="M851.3 1342.4L894.9 1328.8" stroke="#3e26a8"/><path d="M851.3 1342.4L817.8 1326.5" stroke="#3e26a8"/><path d="M894.9 1328.8L861.4 1313.5" stroke="#3e26a8"/><path d="M817.8 1326.5L861.4 1313.5" stroke="#3e26a8"/><path d="M1753.5 635.4L1797.1 566.6L1763.6 548.4L1720 604Z" fill="#fff"/><path d="M1753.5 635.4L1797.1 566.6" stroke="#f5e327"/><path d="M1753.5 635.4L1720 604" stroke="#f5e327"/><path d="M1797.1 566.6L1763.6 548.4" stroke="#f9fb15"/><path d="M1720 604L1763.6 548.4" stroke="#f5e924"/><path d="M576.3 1336.2L619.9 1331.9L586.4 1313.7L542.8 1321.7Z" fill="#fff"/><path d="M576.3 1336.2L619.9 1331.9" stroke="#3e26a8"/><path d="M576.3 1336.2L542.8 1321.7" stroke="#3e26a8"/><path d="M619.9 1331.9L586.4 1313.7" stroke="#3e26a8"/><path d="M542.8 1321.7L586.4 1313.7" stroke="#3e26a8"/><path d="M1478.5 1053.1L1522.1 969.1L1488.6 936.8L1445 1030Z" fill="#fff"/><path d="M1478.5 1053.1L1522.1 969.1" stroke="#20a5e3"/><path d="M1478.5 1053.1L1445 1030" stroke="#20a5e3"/><path d="M1522.1 969.1L1488.6 936.8" stroke="#02bac3"/><path d="M1445 1030L1488.6 936.8" stroke="#20a5e3"/><path d="M1203.4 600.8L1247.1 910.2L1213.6 885.5L1169.9 589.9Z" fill="#fff"/><path d="M1203.4 600.8L1247.1 910.2" stroke="#f7f51b"/><path d="M1203.4 600.8L1169.9 589.9" stroke="#f7f51b"/><path d="M1247.1 910.2L1213.6 885.5" stroke="#31c69f"/><path d="M1169.9 589.9L1213.6 885.5" stroke="#f6ef20"/><path d="M928.4 1347L972 1333.3L938.5 1315.6L894.9 1328.8Z" fill="#fff"/><path d="M928.4 1347L972 1333.3" stroke="#3e26a8"/><path d="M928.4 1347L894.9 1328.8" stroke="#3e26a8"/><path d="M972 1333.3L938.5 1315.6" stroke="#3e26a8"/><path d="M894.9 1328.8L938.5 1315.6" stroke="#3e26a8"/><path d="M653.4 1348.3L697 1336.1L663.5 1317.4L619.9 1331.9Z" fill="#fff"/><path d="M653.4 1348.3L697 1336.1" stroke="#3e26a8"/><path d="M653.4 1348.3L619.9 1331.9" stroke="#3e26a8"/><path d="M697 1336.1L663.5 1317.4" stroke="#3e26a8"/><path d="M619.9 1331.9L663.5 1317.4" stroke="#3e26a8"/><path d="M1555.6 993.8L1599.2 863.9L1565.7 836.4L1522.1 969.1Z" fill="#fff"/><path d="M1555.6 993.8L1599.2 863.9" stroke="#01b8ca"/><path d="M1555.6 993.8L1522.1 969.1" stroke="#01b8ca"/><path d="M1599.2 863.9L1565.7 836.4" stroke="#57cc7a"/><path d="M1522.1 969.1L1565.7 836.4" stroke="#02bac3"/><path d="M1280.6 913.4L1324.2 1054.9L1290.7 1041.4L1247.1 910.2Z" fill="#fff"/><path d="M1280.6 913.4L1324.2 1054.9" stroke="#37c897"/><path d="M1280.6 913.4L1247.1 910.2" stroke="#37c897"/><path d="M1324.2 1054.9L1290.7 1041.4" stroke="#23a0e5"/><path d="M1247.1 910.2L1290.7 1041.4" stroke="#31c69f"/><path d="M1005.5 1351.8L1049.2 1124.4L1015.7 1100L972 1333.3Z" fill="#fff"/><path d="M1005.5 1351.8L1049.2 1124.4" stroke="#3e26a8"/><path d="M1005.5 1351.8L972 1333.3" stroke="#3e26a8"/><path d="M1049.2 1124.4L1015.7 1100" stroke="#2f81fa"/><path d="M972 1333.3L1015.7 1100" stroke="#3e26a8"/><path d="M730.5 1353.7L774.2 1338.4L740.7 1321.5L697 1336.1Z" fill="#fff"/><path d="M730.5 1353.7L774.2 1338.4" stroke="#3e26a8"/><path d="M730.5 1353.7L697 1336.1" stroke="#3e26a8"/><path d="M774.2 1338.4L740.7 1321.5" stroke="#3e26a8"/><path d="M697 1336.1L740.7 1321.5" stroke="#3e26a8"/><path d="M1632.7 875.6L1676.3 724.3L1642.8 717.5L1599.2 863.9Z" fill="#fff"/><path d="M1632.7 875.6L1676.3 724.3" stroke="#57cc7a"/><path d="M1632.7 875.6L1599.2 863.9" stroke="#57cc7a"/><path d="M1676.3 724.3L1642.8 717.5" stroke="#f0ba36"/><path d="M1599.2 863.9L1642.8 717.5" stroke="#57cc7a"/><path d="M455.5 1282.5L499.1 1309L465.6 1263.7L422 1280Z" fill="#fff"/><path d="M455.5 1282.5L499.1 1309" stroke="#4741e5"/><path d="M455.5 1282.5L422 1280" stroke="#4741e5"/><path d="M499.1 1309L465.6 1263.7" stroke="#422ec0"/><path d="M422 1280L465.6 1263.7" stroke="#4537d5"/><path d="M1357.7 1076.3L1401.3 1089.3L1367.8 1074.6L1324.2 1054.9Z" fill="#fff"/><path d="M1357.7 1076.3L1401.3 1089.3" stroke="#23a0e5"/><path d="M1357.7 1076.3L1324.2 1054.9" stroke="#23a0e5"/><path d="M1401.3 1089.3L1367.8 1074.6" stroke="#2797eb"/><path d="M1324.2 1054.9L1367.8 1074.6" stroke="#23a0e5"/><path d="M1082.7 1143.5L1126.3 575.9L1092.8 558.4L1049.2 1124.4Z" fill="#fff"/><path d="M1082.7 1143.5L1126.3 575.9" stroke="#2f81fa"/><path d="M1082.7 1143.5L1049.2 1124.4" stroke="#2f81fa"/><path d="M1126.3 575.9L1092.8 558.4" stroke="#f9fb15"/><path d="M1049.2 1124.4L1092.8 558.4" stroke="#2f81fa"/><path d="M807.7 1355.8L851.3 1342.4L817.8 1326.5L774.2 1338.4Z" fill="#fff"/><path d="M807.7 1355.8L851.3 1342.4" stroke="#3e26a8"/><path d="M807.7 1355.8L774.2 1338.4" stroke="#3e26a8"/><path d="M851.3 1342.4L817.8 1326.5" stroke="#3e26a8"/><path d="M774.2 1338.4L817.8 1326.5" stroke="#3e26a8"/><path d="M1709.8 769.5L1753.5 635.4L1720 604L1676.3 724.3Z" fill="#fff"/><path d="M1709.8 769.5L1753.5 635.4" stroke="#dcbd29"/><path d="M1709.8 769.5L1676.3 724.3" stroke="#dcbd29"/><path d="M1753.5 635.4L1720 604" stroke="#f5e327"/><path d="M1676.3 724.3L1720 604" stroke="#f0ba36"/><path d="M532.6 1319.6L576.3 1336.2L542.8 1321.7L499.1 1309Z" fill="#fff"/><path d="M532.6 1319.6L576.3 1336.2" stroke="#4332cb"/><path d="M532.6 1319.6L499.1 1309" stroke="#4332cb"/><path d="M576.3 1336.2L542.8 1321.7" stroke="#3e26a8"/><path d="M499.1 1309L542.8 1321.7" stroke="#422ec0"/><path d="M1434.8 1103.9L1478.5 1053.1L1445 1030L1401.3 1089.3Z" fill="#fff"/><path d="M1434.8 1103.9L1478.5 1053.1" stroke="#2797eb"/><path d="M1434.8 1103.9L1401.3 1089.3" stroke="#2797eb"/><path d="M1478.5 1053.1L1445 1030" stroke="#20a5e3"/><path d="M1401.3 1089.3L1445 1030" stroke="#2797eb"/><path d="M1159.8 593.5L1203.4 600.8L1169.9 589.9L1126.3 575.9Z" fill="#fff"/><path d="M1159.8 593.5L1203.4 600.8" stroke="#f9fb15"/><path d="M1159.8 593.5L1126.3 575.9" stroke="#f9fb15"/><path d="M1203.4 600.8L1169.9 589.9" stroke="#f7f51b"/><path d="M1126.3 575.9L1169.9 589.9" stroke="#f9fb15"/><path d="M884.8 1361.4L928.4 1347L894.9 1328.8L851.3 1342.4Z" fill="#fff"/><path d="M884.8 1361.4L928.4 1347" stroke="#3e26a8"/><path d="M884.8 1361.4L851.3 1342.4" stroke="#3e26a8"/><path d="M928.4 1347L894.9 1328.8" stroke="#3e26a8"/><path d="M851.3 1342.4L894.9 1328.8" stroke="#3e26a8"/><path d="M609.8 1348.4L653.4 1348.3L619.9 1331.9L576.3 1336.2Z" fill="#fff"/><path d="M609.8 1348.4L653.4 1348.3" stroke="#402ab4"/><path d="M609.8 1348.4L576.3 1336.2" stroke="#402ab4"/><path d="M653.4 1348.3L619.9 1331.9" stroke="#3e26a8"/><path d="M576.3 1336.2L619.9 1331.9" stroke="#3e26a8"/><path d="M1512 1087.6L1555.6 993.8L1522.1 969.1L1478.5 1053.1Z" fill="#fff"/><path d="M1512 1087.6L1555.6 993.8" stroke="#23a0e5"/><path d="M1512 1087.6L1478.5 1053.1" stroke="#23a0e5"/><path d="M1555.6 993.8L1522.1 969.1" stroke="#01b8ca"/><path d="M1478.5 1053.1L1522.1 969.1" stroke="#20a5e3"/><path d="M1236.9 624.5L1280.6 913.4L1247.1 910.2L1203.4 600.8Z" fill="#fff"/><path d="M1236.9 624.5L1280.6 913.4" stroke="#f6ef20"/><path d="M1236.9 624.5L1203.4 600.8" stroke="#f6ef20"/><path d="M1280.6 913.4L1247.1 910.2" stroke="#37c897"/><path d="M1203.4 600.8L1247.1 910.2" stroke="#f7f51b"/><path d="M961.9 1364.1L1005.5 1351.8L972 1333.3L928.4 1347Z" fill="#fff"/><path d="M961.9 1364.1L1005.5 1351.8" stroke="#3e26a8"/><path d="M961.9 1364.1L928.4 1347" stroke="#3e26a8"/><path d="M1005.5 1351.8L972 1333.3" stroke="#3e26a8"/><path d="M928.4 1347L972 1333.3" stroke="#3e26a8"/><path d="M686.9 1367L730.5 1353.7L697 1336.1L653.4 1348.3Z" fill="#fff"/><path d="M686.9 1367L730.5 1353.7" stroke="#3e26a8"/><path d="M686.9 1367L653.4 1348.3" stroke="#3e26a8"/><path d="M730.5 1353.7L697 1336.1" stroke="#3e26a8"/><path d="M653.4 1348.3L697 1336.1" stroke="#3e26a8"/><path d="M1589.1 992.5L1632.7 875.6L1599.2 863.9L1555.6 993.8Z" fill="#fff"/><path d="M1589.1 992.5L1632.7 875.6" stroke="#0bbdbd"/><path d="M1589.1 992.5L1555.6 993.8" stroke="#0bbdbd"/><path d="M1632.7 875.6L1599.2 863.9" stroke="#57cc7a"/><path d="M1555.6 993.8L1599.2 863.9" stroke="#01b8ca"/><path d="M1314.1 941.4L1357.7 1076.3L1324.2 1054.9L1280.6 913.4Z" fill="#fff"/><path d="M1314.1 941.4L1357.7 1076.3" stroke="#31c69f"/><path d="M1314.1 941.4L1280.6 913.4" stroke="#31c69f"/><path d="M1357.7 1076.3L1324.2 1054.9" stroke="#23a0e5"/><path d="M1280.6 913.4L1324.2 1054.9" stroke="#37c897"/><path d="M1039 1368.3L1082.7 1143.5L1049.2 1124.4L1005.5 1351.8Z" fill="#fff"/><path d="M1039 1368.3L1082.7 1143.5" stroke="#3e26a8"/><path d="M1039 1368.3L1005.5 1351.8" stroke="#3e26a8"/><path d="M1082.7 1143.5L1049.2 1124.4" stroke="#2f81fa"/><path d="M1005.5 1351.8L1049.2 1124.4" stroke="#3e26a8"/><path d="M764 1370.7L807.7 1355.8L774.2 1338.4L730.5 1353.7Z" fill="#fff"/><path d="M764 1370.7L807.7 1355.8" stroke="#3e26a8"/><path d="M764 1370.7L730.5 1353.7" stroke="#3e26a8"/><path d="M807.7 1355.8L774.2 1338.4" stroke="#3e26a8"/><path d="M730.5 1353.7L774.2 1338.4" stroke="#3e26a8"/><path d="M1666.2 890.1L1709.8 769.5L1676.3 724.3L1632.7 875.6Z" fill="#fff"/><path d="M1666.2 890.1L1709.8 769.5" stroke="#64cd6f"/><path d="M1666.2 890.1L1632.7 875.6" stroke="#64cd6f"/><path d="M1709.8 769.5L1676.3 724.3" stroke="#dcbd29"/><path d="M1632.7 875.6L1676.3 724.3" stroke="#57cc7a"/><path d="M489 1297.4L532.6 1319.6L499.1 1309L455.5 1282.5Z" fill="#fff"/><path d="M489 1297.4L532.6 1319.6" stroke="#4741e5"/><path d="M489 1297.4L455.5 1282.5" stroke="#4741e5"/><path d="M532.6 1319.6L499.1 1309" stroke="#4332cb"/><path d="M455.5 1282.5L499.1 1309" stroke="#4741e5"/><path d="M1391.2 1092.3L1434.8 1103.9L1401.3 1089.3L1357.7 1076.3Z" fill="#fff"/><path d="M1391.2 1092.3L1434.8 1103.9" stroke="#23a0e5"/><path d="M1391.2 1092.3L1357.7 1076.3" stroke="#23a0e5"/><path d="M1434.8 1103.9L1401.3 1089.3" stroke="#2797eb"/><path d="M1357.7 1076.3L1401.3 1089.3" stroke="#23a0e5"/><path d="M1116.2 1155.7L1159.8 593.5L1126.3 575.9L1082.7 1143.5Z" fill="#fff"/><path d="M1116.2 1155.7L1159.8 593.5" stroke="#2e87f7"/><path d="M1116.2 1155.7L1082.7 1143.5" stroke="#2e87f7"/><path d="M1159.8 593.5L1126.3 575.9" stroke="#f9fb15"/><path d="M1082.7 1143.5L1126.3 575.9" stroke="#2f81fa"/><path d="M841.2 1375.1L884.8 1361.4L851.3 1342.4L807.7 1355.8Z" fill="#fff"/><path d="M841.2 1375.1L884.8 1361.4" stroke="#3e26a8"/><path d="M841.2 1375.1L807.7 1355.8" stroke="#3e26a8"/><path d="M884.8 1361.4L851.3 1342.4" stroke="#3e26a8"/><path d="M807.7 1355.8L851.3 1342.4" stroke="#3e26a8"/><path d="M566.1 1329.3L609.8 1348.4L576.3 1336.2L532.6 1319.6Z" fill="#fff"/><path d="M566.1 1329.3L609.8 1348.4" stroke="#4537d5"/><path d="M566.1 1329.3L532.6 1319.6" stroke="#4537d5"/><path d="M609.8 1348.4L576.3 1336.2" stroke="#402ab4"/><path d="M532.6 1319.6L576.3 1336.2" stroke="#4332cb"/><path d="M1468.3 1103.2L1512 1087.6L1478.5 1053.1L1434.8 1103.9Z" fill="#fff"/><path d="M1468.3 1103.2L1512 1087.6" stroke="#259be8"/><path d="M1468.3 1103.2L1434.8 1103.9" stroke="#259be8"/><path d="M1512 1087.6L1478.5 1053.1" stroke="#23a0e5"/><path d="M1434.8 1103.9L1478.5 1053.1" stroke="#2797eb"/><path d="M1193.3 611.1L1236.9 624.5L1203.4 600.8L1159.8 593.5Z" fill="#fff"/><path d="M1193.3 611.1L1236.9 624.5" stroke="#f9fb15"/><path d="M1193.3 611.1L1159.8 593.5" stroke="#f9fb15"/><path d="M1236.9 624.5L1203.4 600.8" stroke="#f6ef20"/><path d="M1159.8 593.5L1203.4 600.8" stroke="#f9fb15"/><path d="M918.3 1378.2L961.9 1364.1L928.4 1347L884.8 1361.4Z" fill="#fff"/><path d="M918.3 1378.2L961.9 1364.1" stroke="#3e26a8"/><path d="M918.3 1378.2L884.8 1361.4" stroke="#3e26a8"/><path d="M961.9 1364.1L928.4 1347" stroke="#3e26a8"/><path d="M884.8 1361.4L928.4 1347" stroke="#3e26a8"/><path d="M643.3 1370.7L686.9 1367L653.4 1348.3L609.8 1348.4Z" fill="#fff"/><path d="M643.3 1370.7L686.9 1367" stroke="#3e26a8"/><path d="M643.3 1370.7L609.8 1348.4" stroke="#3e26a8"/><path d="M686.9 1367L653.4 1348.3" stroke="#3e26a8"/><path d="M609.8 1348.4L653.4 1348.3" stroke="#402ab4"/><path d="M1545.5 1082.9L1589.1 992.5L1555.6 993.8L1512 1087.6Z" fill="#fff"/><path d="M1545.5 1082.9L1589.1 992.5" stroke="#20a5e3"/><path d="M1545.5 1082.9L1512 1087.6" stroke="#20a5e3"/><path d="M1589.1 992.5L1555.6 993.8" stroke="#0bbdbd"/><path d="M1512 1087.6L1555.6 993.8" stroke="#23a0e5"/><path d="M1270.4 635.1L1314.1 941.4L1280.6 913.4L1236.9 624.5Z" fill="#fff"/><path d="M1270.4 635.1L1314.1 941.4" stroke="#f7f51b"/><path d="M1270.4 635.1L1236.9 624.5" stroke="#f7f51b"/><path d="M1314.1 941.4L1280.6 913.4" stroke="#31c69f"/><path d="M1236.9 624.5L1280.6 913.4" stroke="#f6ef20"/><path d="M995.4 1383.7L1039 1368.3L1005.5 1351.8L961.9 1364.1Z" fill="#fff"/><path d="M995.4 1383.7L1039 1368.3" stroke="#3e26a8"/><path d="M995.4 1383.7L961.9 1364.1" stroke="#3e26a8"/><path d="M1039 1368.3L1005.5 1351.8" stroke="#3e26a8"/><path d="M961.9 1364.1L1005.5 1351.8" stroke="#3e26a8"/><path d="M720.4 1383.2L764 1370.7L730.5 1353.7L686.9 1367Z" fill="#fff"/><path d="M720.4 1383.2L764 1370.7" stroke="#3e26a8"/><path d="M720.4 1383.2L686.9 1367" stroke="#3e26a8"/><path d="M764 1370.7L730.5 1353.7" stroke="#3e26a8"/><path d="M686.9 1367L730.5 1353.7" stroke="#3e26a8"/><path d="M1622.6 1011.6L1666.2 890.1L1632.7 875.6L1589.1 992.5Z" fill="#fff"/><path d="M1622.6 1011.6L1666.2 890.1" stroke="#0bbdbd"/><path d="M1622.6 1011.6L1589.1 992.5" stroke="#0bbdbd"/><path d="M1666.2 890.1L1632.7 875.6" stroke="#64cd6f"/><path d="M1589.1 992.5L1632.7 875.6" stroke="#0bbdbd"/><path d="M1347.6 931.3L1391.2 1092.3L1357.7 1076.3L1314.1 941.4Z" fill="#fff"/><path d="M1347.6 931.3L1391.2 1092.3" stroke="#4acb84"/><path d="M1347.6 931.3L1314.1 941.4" stroke="#4acb84"/><path d="M1391.2 1092.3L1357.7 1076.3" stroke="#23a0e5"/><path d="M1314.1 941.4L1357.7 1076.3" stroke="#31c69f"/><path d="M1072.5 1385.8L1116.2 1155.7L1082.7 1143.5L1039 1368.3Z" fill="#fff"/><path d="M1072.5 1385.8L1116.2 1155.7" stroke="#3e26a8"/><path d="M1072.5 1385.8L1039 1368.3" stroke="#3e26a8"/><path d="M1116.2 1155.7L1082.7 1143.5" stroke="#2e87f7"/><path d="M1039 1368.3L1082.7 1143.5" stroke="#3e26a8"/><path d="M797.5 1388.2L841.2 1375.1L807.7 1355.8L764 1370.7Z" fill="#fff"/><path d="M797.5 1388.2L841.2 1375.1" stroke="#3e26a8"/><path d="M797.5 1388.2L764 1370.7" stroke="#3e26a8"/><path d="M841.2 1375.1L807.7 1355.8" stroke="#3e26a8"/><path d="M764 1370.7L807.7 1355.8" stroke="#3e26a8"/><path d="M522.5 1331.5L566.1 1329.3L532.6 1319.6L489 1297.4Z" fill="#fff"/><path d="M522.5 1331.5L566.1 1329.3" stroke="#4537d5"/><path d="M522.5 1331.5L489 1297.4" stroke="#4537d5"/><path d="M566.1 1329.3L532.6 1319.6" stroke="#4537d5"/><path d="M489 1297.4L532.6 1319.6" stroke="#4741e5"/><path d="M1424.7 1076.8L1468.3 1103.2L1434.8 1103.9L1391.2 1092.3Z" fill="#fff"/><path d="M1424.7 1076.8L1468.3 1103.2" stroke="#18addb"/><path d="M1424.7 1076.8L1391.2 1092.3" stroke="#18addb"/><path d="M1468.3 1103.2L1434.8 1103.9" stroke="#259be8"/><path d="M1391.2 1092.3L1434.8 1103.9" stroke="#23a0e5"/><path d="M1149.7 1180.2L1193.3 611.1L1159.8 593.5L1116.2 1155.7Z" fill="#fff"/><path d="M1149.7 1180.2L1193.3 611.1" stroke="#2f81fa"/><path d="M1149.7 1180.2L1116.2 1155.7" stroke="#2f81fa"/><path d="M1193.3 611.1L1159.8 593.5" stroke="#f9fb15"/><path d="M1116.2 1155.7L1159.8 593.5" stroke="#2e87f7"/><path d="M874.7 1390.9L918.3 1378.2L884.8 1361.4L841.2 1375.1Z" fill="#fff"/><path d="M874.7 1390.9L918.3 1378.2" stroke="#3e26a8"/><path d="M874.7 1390.9L841.2 1375.1" stroke="#3e26a8"/><path d="M918.3 1378.2L884.8 1361.4" stroke="#3e26a8"/><path d="M841.2 1375.1L884.8 1361.4" stroke="#3e26a8"/><path d="M599.6 1353.1L643.3 1370.7L609.8 1348.4L566.1 1329.3Z" fill="#fff"/><path d="M599.6 1353.1L643.3 1370.7" stroke="#4332cb"/><path d="M599.6 1353.1L566.1 1329.3" stroke="#4332cb"/><path d="M643.3 1370.7L609.8 1348.4" stroke="#3e26a8"/><path d="M566.1 1329.3L609.8 1348.4" stroke="#4537d5"/><path d="M1501.8 1126.3L1545.5 1082.9L1512 1087.6L1468.3 1103.2Z" fill="#fff"/><path d="M1501.8 1126.3L1545.5 1082.9" stroke="#259be8"/><path d="M1501.8 1126.3L1468.3 1103.2" stroke="#259be8"/><path d="M1545.5 1082.9L1512 1087.6" stroke="#20a5e3"/><path d="M1468.3 1103.2L1512 1087.6" stroke="#259be8"/><path d="M1226.8 628.6L1270.4 635.1L1236.9 624.5L1193.3 611.1Z" fill="#fff"/><path d="M1226.8 628.6L1270.4 635.1" stroke="#f9fb15"/><path d="M1226.8 628.6L1193.3 611.1" stroke="#f9fb15"/><path d="M1270.4 635.1L1236.9 624.5" stroke="#f7f51b"/><path d="M1193.3 611.1L1236.9 624.5" stroke="#f9fb15"/><path d="M951.8 1395.2L995.4 1383.7L961.9 1364.1L918.3 1378.2Z" fill="#fff"/><path d="M951.8 1395.2L995.4 1383.7" stroke="#3e26a8"/><path d="M951.8 1395.2L918.3 1378.2" stroke="#3e26a8"/><path d="M995.4 1383.7L961.9 1364.1" stroke="#3e26a8"/><path d="M918.3 1378.2L961.9 1364.1" stroke="#3e26a8"/><path d="M676.8 1384.2L720.4 1383.2L686.9 1367L643.3 1370.7Z" fill="#fff"/><path d="M676.8 1384.2L720.4 1383.2" stroke="#402ab4"/><path d="M676.8 1384.2L643.3 1370.7" stroke="#402ab4"/><path d="M720.4 1383.2L686.9 1367" stroke="#3e26a8"/><path d="M643.3 1370.7L686.9 1367" stroke="#3e26a8"/><path d="M1579 1102L1622.6 1011.6L1589.1 992.5L1545.5 1082.9Z" fill="#fff"/><path d="M1579 1102L1622.6 1011.6" stroke="#20a5e3"/><path d="M1579 1102L1545.5 1082.9" stroke="#20a5e3"/><path d="M1622.6 1011.6L1589.1 992.5" stroke="#0bbdbd"/><path d="M1545.5 1082.9L1589.1 992.5" stroke="#20a5e3"/><path d="M1303.9 656.3L1347.6 931.3L1314.1 941.4L1270.4 635.1Z" fill="#fff"/><path d="M1303.9 656.3L1347.6 931.3" stroke="#f7f51b"/><path d="M1303.9 656.3L1270.4 635.1" stroke="#f7f51b"/><path d="M1347.6 931.3L1314.1 941.4" stroke="#4acb84"/><path d="M1270.4 635.1L1314.1 941.4" stroke="#f7f51b"/><path d="M1028.9 1401.2L1072.5 1385.8L1039 1368.3L995.4 1383.7Z" fill="#fff"/><path d="M1028.9 1401.2L1072.5 1385.8" stroke="#3e26a8"/><path d="M1028.9 1401.2L995.4 1383.7" stroke="#3e26a8"/><path d="M1072.5 1385.8L1039 1368.3" stroke="#3e26a8"/><path d="M995.4 1383.7L1039 1368.3" stroke="#3e26a8"/><path d="M753.9 1402L797.5 1388.2L764 1370.7L720.4 1383.2Z" fill="#fff"/><path d="M753.9 1402L797.5 1388.2" stroke="#3e26a8"/><path d="M753.9 1402L720.4 1383.2" stroke="#3e26a8"/><path d="M797.5 1388.2L764 1370.7" stroke="#3e26a8"/><path d="M720.4 1383.2L764 1370.7" stroke="#3e26a8"/><path d="M1381.1 992.7L1424.7 1076.8L1391.2 1092.3L1347.6 931.3Z" fill="#fff"/><path d="M1381.1 992.7L1424.7 1076.8" stroke="#2cc4a7"/><path d="M1381.1 992.7L1347.6 931.3" stroke="#2cc4a7"/><path d="M1424.7 1076.8L1391.2 1092.3" stroke="#18addb"/><path d="M1347.6 931.3L1391.2 1092.3" stroke="#4acb84"/><path d="M1106 1403.8L1149.7 1180.2L1116.2 1155.7L1072.5 1385.8Z" fill="#fff"/><path d="M1106 1403.8L1149.7 1180.2" stroke="#3e26a8"/><path d="M1106 1403.8L1072.5 1385.8" stroke="#3e26a8"/><path d="M1149.7 1180.2L1116.2 1155.7" stroke="#2f81fa"/><path d="M1072.5 1385.8L1116.2 1155.7" stroke="#3e26a8"/><path d="M831 1404.8L874.7 1390.9L841.2 1375.1L797.5 1388.2Z" fill="#fff"/><path d="M831 1404.8L874.7 1390.9" stroke="#3e26a8"/><path d="M831 1404.8L797.5 1388.2" stroke="#3e26a8"/><path d="M874.7 1390.9L841.2 1375.1" stroke="#3e26a8"/><path d="M797.5 1388.2L841.2 1375.1" stroke="#3e26a8"/><path d="M556 1344.2L599.6 1353.1L566.1 1329.3L522.5 1331.5Z" fill="#fff"/><path d="M556 1344.2L599.6 1353.1" stroke="#463cde"/><path d="M556 1344.2L522.5 1331.5" stroke="#463cde"/><path d="M599.6 1353.1L566.1 1329.3" stroke="#4332cb"/><path d="M522.5 1331.5L566.1 1329.3" stroke="#4537d5"/><path d="M1458.2 1123.2L1501.8 1126.3L1468.3 1103.2L1424.7 1076.8Z" fill="#fff"/><path d="M1458.2 1123.2L1501.8 1126.3" stroke="#23a0e5"/><path d="M1458.2 1123.2L1424.7 1076.8" stroke="#23a0e5"/><path d="M1501.8 1126.3L1468.3 1103.2" stroke="#259be8"/><path d="M1424.7 1076.8L1468.3 1103.2" stroke="#18addb"/><path d="M1183.2 1203.9L1226.8 628.6L1193.3 611.1L1149.7 1180.2Z" fill="#fff"/><path d="M1183.2 1203.9L1226.8 628.6" stroke="#2f81fa"/><path d="M1183.2 1203.9L1149.7 1180.2" stroke="#2f81fa"/><path d="M1226.8 628.6L1193.3 611.1" stroke="#f9fb15"/><path d="M1149.7 1180.2L1193.3 611.1" stroke="#2f81fa"/><path d="M908.2 1408.9L951.8 1395.2L918.3 1378.2L874.7 1390.9Z" fill="#fff"/><path d="M908.2 1408.9L951.8 1395.2" stroke="#3e26a8"/><path d="M908.2 1408.9L874.7 1390.9" stroke="#3e26a8"/><path d="M951.8 1395.2L918.3 1378.2" stroke="#3e26a8"/><path d="M874.7 1390.9L918.3 1378.2" stroke="#3e26a8"/><path d="M633.1 1365.3L676.8 1384.2L643.3 1370.7L599.6 1353.1Z" fill="#fff"/><path d="M633.1 1365.3L676.8 1384.2" stroke="#4332cb"/><path d="M633.1 1365.3L599.6 1353.1" stroke="#4332cb"/><path d="M676.8 1384.2L643.3 1370.7" stroke="#402ab4"/><path d="M599.6 1353.1L643.3 1370.7" stroke="#4332cb"/><path d="M1535.3 1155.4L1579 1102L1545.5 1082.9L1501.8 1126.3Z" fill="#fff"/><path d="M1535.3 1155.4L1579 1102" stroke="#2797eb"/><path d="M1535.3 1155.4L1501.8 1126.3" stroke="#2797eb"/><path d="M1579 1102L1545.5 1082.9" stroke="#20a5e3"/><path d="M1501.8 1126.3L1545.5 1082.9" stroke="#259be8"/><path d="M1260.3 646.2L1303.9 656.3L1270.4 635.1L1226.8 628.6Z" fill="#fff"/><path d="M1260.3 646.2L1303.9 656.3" stroke="#f9fb15"/><path d="M1260.3 646.2L1226.8 628.6" stroke="#f9fb15"/><path d="M1303.9 656.3L1270.4 635.1" stroke="#f7f51b"/><path d="M1226.8 628.6L1270.4 635.1" stroke="#f9fb15"/><path d="M985.3 1413.5L1028.9 1401.2L995.4 1383.7L951.8 1395.2Z" fill="#fff"/><path d="M985.3 1413.5L1028.9 1401.2" stroke="#3e26a8"/><path d="M985.3 1413.5L951.8 1395.2" stroke="#3e26a8"/><path d="M1028.9 1401.2L995.4 1383.7" stroke="#3e26a8"/><path d="M951.8 1395.2L995.4 1383.7" stroke="#3e26a8"/><path d="M710.3 1408.2L753.9 1402L720.4 1383.2L676.8 1384.2Z" fill="#fff"/><path d="M710.3 1408.2L753.9 1402" stroke="#3e26a8"/><path d="M710.3 1408.2L676.8 1384.2" stroke="#3e26a8"/><path d="M753.9 1402L720.4 1383.2" stroke="#3e26a8"/><path d="M676.8 1384.2L720.4 1383.2" stroke="#402ab4"/><path d="M1337.4 672.6L1381.1 992.7L1347.6 931.3L1303.9 656.3Z" fill="#fff"/><path d="M1337.4 672.6L1381.1 992.7" stroke="#f7f51b"/><path d="M1337.4 672.6L1303.9 656.3" stroke="#f7f51b"/><path d="M1381.1 992.7L1347.6 931.3" stroke="#2cc4a7"/><path d="M1303.9 656.3L1347.6 931.3" stroke="#f7f51b"/><path d="M1062.4 1418.5L1106 1403.8L1072.5 1385.8L1028.9 1401.2Z" fill="#fff"/><path d="M1062.4 1418.5L1106 1403.8" stroke="#3e26a8"/><path d="M1062.4 1418.5L1028.9 1401.2" stroke="#3e26a8"/><path d="M1106 1403.8L1072.5 1385.8" stroke="#3e26a8"/><path d="M1028.9 1401.2L1072.5 1385.8" stroke="#3e26a8"/><path d="M787.4 1419L831 1404.8L797.5 1388.2L753.9 1402Z" fill="#fff"/><path d="M787.4 1419L831 1404.8" stroke="#3e26a8"/><path d="M787.4 1419L753.9 1402" stroke="#3e26a8"/><path d="M831 1404.8L797.5 1388.2" stroke="#3e26a8"/><path d="M753.9 1402L797.5 1388.2" stroke="#3e26a8"/><path d="M1414.6 998.7L1458.2 1123.2L1424.7 1076.8L1381.1 992.7Z" fill="#fff"/><path d="M1414.6 998.7L1458.2 1123.2" stroke="#31c69f"/><path d="M1414.6 998.7L1381.1 992.7" stroke="#31c69f"/><path d="M1458.2 1123.2L1424.7 1076.8" stroke="#23a0e5"/><path d="M1381.1 992.7L1424.7 1076.8" stroke="#2cc4a7"/><path d="M1139.5 1422.2L1183.2 1203.9L1149.7 1180.2L1106 1403.8Z" fill="#fff"/><path d="M1139.5 1422.2L1183.2 1203.9" stroke="#3e26a8"/><path d="M1139.5 1422.2L1106 1403.8" stroke="#3e26a8"/><path d="M1183.2 1203.9L1149.7 1180.2" stroke="#2f81fa"/><path d="M1106 1403.8L1149.7 1180.2" stroke="#3e26a8"/><path d="M864.5 1423.5L908.2 1408.9L874.7 1390.9L831 1404.8Z" fill="#fff"/><path d="M864.5 1423.5L908.2 1408.9" stroke="#3e26a8"/><path d="M864.5 1423.5L831 1404.8" stroke="#3e26a8"/><path d="M908.2 1408.9L874.7 1390.9" stroke="#3e26a8"/><path d="M831 1404.8L874.7 1390.9" stroke="#3e26a8"/><path d="M589.5 1366.6L633.1 1365.3L599.6 1353.1L556 1344.2Z" fill="#fff"/><path d="M589.5 1366.6L633.1 1365.3" stroke="#4537d5"/><path d="M589.5 1366.6L556 1344.2" stroke="#4537d5"/><path d="M633.1 1365.3L599.6 1353.1" stroke="#4332cb"/><path d="M556 1344.2L599.6 1353.1" stroke="#463cde"/><path d="M1491.7 1158.1L1535.3 1155.4L1501.8 1126.3L1458.2 1123.2Z" fill="#fff"/><path d="M1491.7 1158.1L1535.3 1155.4" stroke="#259be8"/><path d="M1491.7 1158.1L1458.2 1123.2" stroke="#259be8"/><path d="M1535.3 1155.4L1501.8 1126.3" stroke="#2797eb"/><path d="M1458.2 1123.2L1501.8 1126.3" stroke="#23a0e5"/><path d="M1216.7 1223L1260.3 646.2L1226.8 628.6L1183.2 1203.9Z" fill="#fff"/><path d="M1216.7 1223L1260.3 646.2" stroke="#2f81fa"/><path d="M1216.7 1223L1183.2 1203.9" stroke="#2f81fa"/><path d="M1260.3 646.2L1226.8 628.6" stroke="#f9fb15"/><path d="M1183.2 1203.9L1226.8 628.6" stroke="#2f81fa"/><path d="M941.7 1427.8L985.3 1413.5L951.8 1395.2L908.2 1408.9Z" fill="#fff"/><path d="M941.7 1427.8L985.3 1413.5" stroke="#3e26a8"/><path d="M941.7 1427.8L908.2 1408.9" stroke="#3e26a8"/><path d="M985.3 1413.5L951.8 1395.2" stroke="#3e26a8"/><path d="M908.2 1408.9L951.8 1395.2" stroke="#3e26a8"/><path d="M666.6 1387.5L710.3 1408.2L676.8 1384.2L633.1 1365.3Z" fill="#fff"/><path d="M666.6 1387.5L710.3 1408.2" stroke="#4332cb"/><path d="M666.6 1387.5L633.1 1365.3" stroke="#4332cb"/><path d="M710.3 1408.2L676.8 1384.2" stroke="#3e26a8"/><path d="M633.1 1365.3L676.8 1384.2" stroke="#4332cb"/><path d="M1293.8 663.7L1337.4 672.6L1303.9 656.3L1260.3 646.2Z" fill="#fff"/><path d="M1293.8 663.7L1337.4 672.6" stroke="#f9fb15"/><path d="M1293.8 663.7L1260.3 646.2" stroke="#f9fb15"/><path d="M1337.4 672.6L1303.9 656.3" stroke="#f7f51b"/><path d="M1260.3 646.2L1303.9 656.3" stroke="#f9fb15"/><path d="M1018.8 1431.8L1062.4 1418.5L1028.9 1401.2L985.3 1413.5Z" fill="#fff"/><path d="M1018.8 1431.8L1062.4 1418.5" stroke="#3e26a8"/><path d="M1018.8 1431.8L985.3 1413.5" stroke="#3e26a8"/><path d="M1062.4 1418.5L1028.9 1401.2" stroke="#3e26a8"/><path d="M985.3 1413.5L1028.9 1401.2" stroke="#3e26a8"/><path d="M743.8 1427.7L787.4 1419L753.9 1402L710.3 1408.2Z" fill="#fff"/><path d="M743.8 1427.7L787.4 1419" stroke="#3e26a8"/><path d="M743.8 1427.7L710.3 1408.2" stroke="#3e26a8"/><path d="M787.4 1419L753.9 1402" stroke="#3e26a8"/><path d="M710.3 1408.2L753.9 1402" stroke="#3e26a8"/><path d="M1370.9 684.7L1414.6 998.7L1381.1 992.7L1337.4 672.6Z" fill="#fff"/><path d="M1370.9 684.7L1414.6 998.7" stroke="#f7f51b"/><path d="M1370.9 684.7L1337.4 672.6" stroke="#f7f51b"/><path d="M1414.6 998.7L1381.1 992.7" stroke="#31c69f"/><path d="M1337.4 672.6L1381.1 992.7" stroke="#f7f51b"/><path d="M1095.9 1435.1L1139.5 1422.2L1106 1403.8L1062.4 1418.5Z" fill="#fff"/><path d="M1095.9 1435.1L1139.5 1422.2" stroke="#3e26a8"/><path d="M1095.9 1435.1L1062.4 1418.5" stroke="#3e26a8"/><path d="M1139.5 1422.2L1106 1403.8" stroke="#3e26a8"/><path d="M1062.4 1418.5L1106 1403.8" stroke="#3e26a8"/><path d="M820.9 1436.3L864.5 1423.5L831 1404.8L787.4 1419Z" fill="#fff"/><path d="M820.9 1436.3L864.5 1423.5" stroke="#3e26a8"/><path d="M820.9 1436.3L787.4 1419" stroke="#3e26a8"/><path d="M864.5 1423.5L831 1404.8" stroke="#3e26a8"/><path d="M787.4 1419L831 1404.8" stroke="#3e26a8"/><path d="M1448.1 996.3L1491.7 1158.1L1458.2 1123.2L1414.6 998.7Z" fill="#fff"/><path d="M1448.1 996.3L1491.7 1158.1" stroke="#37c897"/><path d="M1448.1 996.3L1414.6 998.7" stroke="#37c897"/><path d="M1491.7 1158.1L1458.2 1123.2" stroke="#259be8"/><path d="M1414.6 998.7L1458.2 1123.2" stroke="#31c69f"/><path d="M1173 1438.4L1216.7 1223L1183.2 1203.9L1139.5 1422.2Z" fill="#fff"/><path d="M1173 1438.4L1216.7 1223" stroke="#3e26a8"/><path d="M1173 1438.4L1139.5 1422.2" stroke="#3e26a8"/><path d="M1216.7 1223L1183.2 1203.9" stroke="#2f81fa"/><path d="M1139.5 1422.2L1183.2 1203.9" stroke="#3e26a8"/><path d="M898 1441.2L941.7 1427.8L908.2 1408.9L864.5 1423.5Z" fill="#fff"/><path d="M898 1441.2L941.7 1427.8" stroke="#3e26a8"/><path d="M898 1441.2L864.5 1423.5" stroke="#3e26a8"/><path d="M941.7 1427.8L908.2 1408.9" stroke="#3e26a8"/><path d="M864.5 1423.5L908.2 1408.9" stroke="#3e26a8"/><path d="M623 1368L666.6 1387.5L633.1 1365.3L589.5 1366.6Z" fill="#fff"/><path d="M623 1368L666.6 1387.5" stroke="#4741e5"/><path d="M623 1368L589.5 1366.6" stroke="#4741e5"/><path d="M666.6 1387.5L633.1 1365.3" stroke="#4332cb"/><path d="M589.5 1366.6L633.1 1365.3" stroke="#4537d5"/><path d="M1250.2 1223.7L1293.8 663.7L1260.3 646.2L1216.7 1223Z" fill="#fff"/><path d="M1250.2 1223.7L1293.8 663.7" stroke="#2e87f7"/><path d="M1250.2 1223.7L1216.7 1223" stroke="#2e87f7"/><path d="M1293.8 663.7L1260.3 646.2" stroke="#f9fb15"/><path d="M1216.7 1223L1260.3 646.2" stroke="#2f81fa"/><path d="M975.2 1445.2L1018.8 1431.8L985.3 1413.5L941.7 1427.8Z" fill="#fff"/><path d="M975.2 1445.2L1018.8 1431.8" stroke="#3e26a8"/><path d="M975.2 1445.2L941.7 1427.8" stroke="#3e26a8"/><path d="M1018.8 1431.8L985.3 1413.5" stroke="#3e26a8"/><path d="M941.7 1427.8L985.3 1413.5" stroke="#3e26a8"/><path d="M700.1 1392.6L743.8 1427.7L710.3 1408.2L666.6 1387.5Z" fill="#fff"/><path d="M700.1 1392.6L743.8 1427.7" stroke="#4537d5"/><path d="M700.1 1392.6L666.6 1387.5" stroke="#4537d5"/><path d="M743.8 1427.7L710.3 1408.2" stroke="#3e26a8"/><path d="M666.6 1387.5L710.3 1408.2" stroke="#4332cb"/><path d="M1327.3 681.3L1370.9 684.7L1337.4 672.6L1293.8 663.7Z" fill="#fff"/><path d="M1327.3 681.3L1370.9 684.7" stroke="#f9fb15"/><path d="M1327.3 681.3L1293.8 663.7" stroke="#f9fb15"/><path d="M1370.9 684.7L1337.4 672.6" stroke="#f7f51b"/><path d="M1293.8 663.7L1337.4 672.6" stroke="#f9fb15"/><path d="M1052.3 1449.7L1095.9 1435.1L1062.4 1418.5L1018.8 1431.8Z" fill="#fff"/><path d="M1052.3 1449.7L1095.9 1435.1" stroke="#3e26a8"/><path d="M1052.3 1449.7L1018.8 1431.8" stroke="#3e26a8"/><path d="M1095.9 1435.1L1062.4 1418.5" stroke="#3e26a8"/><path d="M1018.8 1431.8L1062.4 1418.5" stroke="#3e26a8"/><path d="M777.3 1437.4L820.9 1436.3L787.4 1419L743.8 1427.7Z" fill="#fff"/><path d="M777.3 1437.4L820.9 1436.3" stroke="#402ab4"/><path d="M777.3 1437.4L743.8 1427.7" stroke="#402ab4"/><path d="M820.9 1436.3L787.4 1419" stroke="#3e26a8"/><path d="M743.8 1427.7L787.4 1419" stroke="#3e26a8"/><path d="M1404.4 699.2L1448.1 996.3L1414.6 998.7L1370.9 684.7Z" fill="#fff"/><path d="M1404.4 699.2L1448.1 996.3" stroke="#f7f51b"/><path d="M1404.4 699.2L1370.9 684.7" stroke="#f7f51b"/><path d="M1448.1 996.3L1414.6 998.7" stroke="#37c897"/><path d="M1370.9 684.7L1414.6 998.7" stroke="#f7f51b"/><path d="M1129.4 1452.4L1173 1438.4L1139.5 1422.2L1095.9 1435.1Z" fill="#fff"/><path d="M1129.4 1452.4L1173 1438.4" stroke="#3e26a8"/><path d="M1129.4 1452.4L1095.9 1435.1" stroke="#3e26a8"/><path d="M1173 1438.4L1139.5 1422.2" stroke="#3e26a8"/><path d="M1095.9 1435.1L1139.5 1422.2" stroke="#3e26a8"/><path d="M854.4 1454.7L898 1441.2L864.5 1423.5L820.9 1436.3Z" fill="#fff"/><path d="M854.4 1454.7L898 1441.2" stroke="#3e26a8"/><path d="M854.4 1454.7L820.9 1436.3" stroke="#3e26a8"/><path d="M898 1441.2L864.5 1423.5" stroke="#3e26a8"/><path d="M820.9 1436.3L864.5 1423.5" stroke="#3e26a8"/><path d="M1206.5 1456.3L1250.2 1223.7L1216.7 1223L1173 1438.4Z" fill="#fff"/><path d="M1206.5 1456.3L1250.2 1223.7" stroke="#3e26a8"/><path d="M1206.5 1456.3L1173 1438.4" stroke="#3e26a8"/><path d="M1250.2 1223.7L1216.7 1223" stroke="#2e87f7"/><path d="M1173 1438.4L1216.7 1223" stroke="#3e26a8"/><path d="M931.5 1456.9L975.2 1445.2L941.7 1427.8L898 1441.2Z" fill="#fff"/><path d="M931.5 1456.9L975.2 1445.2" stroke="#3e26a8"/><path d="M931.5 1456.9L898 1441.2" stroke="#3e26a8"/><path d="M975.2 1445.2L941.7 1427.8" stroke="#3e26a8"/><path d="M898 1441.2L941.7 1427.8" stroke="#3e26a8"/><path d="M656.5 1389.4L700.1 1392.6L666.6 1387.5L623 1368Z" fill="#fff"/><path d="M656.5 1389.4L700.1 1392.6" stroke="#4741e5"/><path d="M656.5 1389.4L623 1368" stroke="#4741e5"/><path d="M700.1 1392.6L666.6 1387.5" stroke="#4537d5"/><path d="M623 1368L666.6 1387.5" stroke="#4741e5"/><path d="M1283.7 1255.8L1327.3 681.3L1293.8 663.7L1250.2 1223.7Z" fill="#fff"/><path d="M1283.7 1255.8L1327.3 681.3" stroke="#2f81fa"/><path d="M1283.7 1255.8L1250.2 1223.7" stroke="#2f81fa"/><path d="M1327.3 681.3L1293.8 663.7" stroke="#f9fb15"/><path d="M1250.2 1223.7L1293.8 663.7" stroke="#2e87f7"/><path d="M1008.7 1461.4L1052.3 1449.7L1018.8 1431.8L975.2 1445.2Z" fill="#fff"/><path d="M1008.7 1461.4L1052.3 1449.7" stroke="#3e26a8"/><path d="M1008.7 1461.4L975.2 1445.2" stroke="#3e26a8"/><path d="M1052.3 1449.7L1018.8 1431.8" stroke="#3e26a8"/><path d="M975.2 1445.2L1018.8 1431.8" stroke="#3e26a8"/><path d="M733.6 1425.6L777.3 1437.4L743.8 1427.7L700.1 1392.6Z" fill="#fff"/><path d="M733.6 1425.6L777.3 1437.4" stroke="#4332cb"/><path d="M733.6 1425.6L700.1 1392.6" stroke="#4332cb"/><path d="M777.3 1437.4L743.8 1427.7" stroke="#402ab4"/><path d="M700.1 1392.6L743.8 1427.7" stroke="#4537d5"/><path d="M1360.8 698.9L1404.4 699.2L1370.9 684.7L1327.3 681.3Z" fill="#fff"/><path d="M1360.8 698.9L1404.4 699.2" stroke="#f9fb15"/><path d="M1360.8 698.9L1327.3 681.3" stroke="#f9fb15"/><path d="M1404.4 699.2L1370.9 684.7" stroke="#f7f51b"/><path d="M1327.3 681.3L1370.9 684.7" stroke="#f9fb15"/><path d="M1085.8 1465.8L1129.4 1452.4L1095.9 1435.1L1052.3 1449.7Z" fill="#fff"/><path d="M1085.8 1465.8L1129.4 1452.4" stroke="#3e26a8"/><path d="M1085.8 1465.8L1052.3 1449.7" stroke="#3e26a8"/><path d="M1129.4 1452.4L1095.9 1435.1" stroke="#3e26a8"/><path d="M1052.3 1449.7L1095.9 1435.1" stroke="#3e26a8"/><path d="M810.8 1454L854.4 1454.7L820.9 1436.3L777.3 1437.4Z" fill="#fff"/><path d="M810.8 1454L854.4 1454.7" stroke="#402ab4"/><path d="M810.8 1454L777.3 1437.4" stroke="#402ab4"/><path d="M854.4 1454.7L820.9 1436.3" stroke="#3e26a8"/><path d="M777.3 1437.4L820.9 1436.3" stroke="#402ab4"/><path d="M1162.9 1470L1206.5 1456.3L1173 1438.4L1129.4 1452.4Z" fill="#fff"/><path d="M1162.9 1470L1206.5 1456.3" stroke="#3e26a8"/><path d="M1162.9 1470L1129.4 1452.4" stroke="#3e26a8"/><path d="M1206.5 1456.3L1173 1438.4" stroke="#3e26a8"/><path d="M1129.4 1452.4L1173 1438.4" stroke="#3e26a8"/><path d="M887.9 1470.8L931.5 1456.9L898 1441.2L854.4 1454.7Z" fill="#fff"/><path d="M887.9 1470.8L931.5 1456.9" stroke="#3e26a8"/><path d="M887.9 1470.8L854.4 1454.7" stroke="#3e26a8"/><path d="M931.5 1456.9L898 1441.2" stroke="#3e26a8"/><path d="M854.4 1454.7L898 1441.2" stroke="#3e26a8"/><path d="M1240 1474L1283.7 1255.8L1250.2 1223.7L1206.5 1456.3Z" fill="#fff"/><path d="M1240 1474L1283.7 1255.8" stroke="#3e26a8"/><path d="M1240 1474L1206.5 1456.3" stroke="#3e26a8"/><path d="M1283.7 1255.8L1250.2 1223.7" stroke="#2f81fa"/><path d="M1206.5 1456.3L1250.2 1223.7" stroke="#3e26a8"/><path d="M965 1476.6L1008.7 1461.4L975.2 1445.2L931.5 1456.9Z" fill="#fff"/><path d="M965 1476.6L1008.7 1461.4" stroke="#3e26a8"/><path d="M965 1476.6L931.5 1456.9" stroke="#3e26a8"/><path d="M1008.7 1461.4L975.2 1445.2" stroke="#3e26a8"/><path d="M931.5 1456.9L975.2 1445.2" stroke="#3e26a8"/><path d="M690 1409.6L733.6 1425.6L700.1 1392.6L656.5 1389.4Z" fill="#fff"/><path d="M690 1409.6L733.6 1425.6" stroke="#463cde"/><path d="M690 1409.6L656.5 1389.4" stroke="#463cde"/><path d="M733.6 1425.6L700.1 1392.6" stroke="#4332cb"/><path d="M656.5 1389.4L700.1 1392.6" stroke="#4741e5"/><path d="M1317.2 1255.7L1360.8 698.9L1327.3 681.3L1283.7 1255.8Z" fill="#fff"/><path d="M1317.2 1255.7L1360.8 698.9" stroke="#2e87f7"/><path d="M1317.2 1255.7L1283.7 1255.8" stroke="#2e87f7"/><path d="M1360.8 698.9L1327.3 681.3" stroke="#f9fb15"/><path d="M1283.7 1255.8L1327.3 681.3" stroke="#2f81fa"/><path d="M1042.2 1478.8L1085.8 1465.8L1052.3 1449.7L1008.7 1461.4Z" fill="#fff"/><path d="M1042.2 1478.8L1085.8 1465.8" stroke="#3e26a8"/><path d="M1042.2 1478.8L1008.7 1461.4" stroke="#3e26a8"/><path d="M1085.8 1465.8L1052.3 1449.7" stroke="#3e26a8"/><path d="M1008.7 1461.4L1052.3 1449.7" stroke="#3e26a8"/><path d="M767.1 1442.3L810.8 1454L777.3 1437.4L733.6 1425.6Z" fill="#fff"/><path d="M767.1 1442.3L810.8 1454" stroke="#4332cb"/><path d="M767.1 1442.3L733.6 1425.6" stroke="#4332cb"/><path d="M810.8 1454L777.3 1437.4" stroke="#402ab4"/><path d="M733.6 1425.6L777.3 1437.4" stroke="#4332cb"/><path d="M1119.3 1484.6L1162.9 1470L1129.4 1452.4L1085.8 1465.8Z" fill="#fff"/><path d="M1119.3 1484.6L1162.9 1470" stroke="#3e26a8"/><path d="M1119.3 1484.6L1085.8 1465.8" stroke="#3e26a8"/><path d="M1162.9 1470L1129.4 1452.4" stroke="#3e26a8"/><path d="M1085.8 1465.8L1129.4 1452.4" stroke="#3e26a8"/><path d="M844.3 1476.8L887.9 1470.8L854.4 1454.7L810.8 1454Z" fill="#fff"/><path d="M844.3 1476.8L887.9 1470.8" stroke="#3e26a8"/><path d="M844.3 1476.8L810.8 1454" stroke="#3e26a8"/><path d="M887.9 1470.8L854.4 1454.7" stroke="#3e26a8"/><path d="M810.8 1454L854.4 1454.7" stroke="#402ab4"/><path d="M1196.4 1486.8L1240 1474L1206.5 1456.3L1162.9 1470Z" fill="#fff"/><path d="M1196.4 1486.8L1240 1474" stroke="#3e26a8"/><path d="M1196.4 1486.8L1162.9 1470" stroke="#3e26a8"/><path d="M1240 1474L1206.5 1456.3" stroke="#3e26a8"/><path d="M1162.9 1470L1206.5 1456.3" stroke="#3e26a8"/><path d="M921.4 1490.1L965 1476.6L931.5 1456.9L887.9 1470.8Z" fill="#fff"/><path d="M921.4 1490.1L965 1476.6" stroke="#3e26a8"/><path d="M921.4 1490.1L887.9 1470.8" stroke="#3e26a8"/><path d="M965 1476.6L931.5 1456.9" stroke="#3e26a8"/><path d="M887.9 1470.8L931.5 1456.9" stroke="#3e26a8"/><path d="M1273.5 1491.5L1317.2 1255.7L1283.7 1255.8L1240 1474Z" fill="#fff"/><path d="M1273.5 1491.5L1317.2 1255.7" stroke="#3e26a8"/><path d="M1273.5 1491.5L1240 1474" stroke="#3e26a8"/><path d="M1317.2 1255.7L1283.7 1255.8" stroke="#2e87f7"/><path d="M1240 1474L1283.7 1255.8" stroke="#3e26a8"/><path d="M998.5 1492.9L1042.2 1478.8L1008.7 1461.4L965 1476.6Z" fill="#fff"/><path d="M998.5 1492.9L1042.2 1478.8" stroke="#3e26a8"/><path d="M998.5 1492.9L965 1476.6" stroke="#3e26a8"/><path d="M1042.2 1478.8L1008.7 1461.4" stroke="#3e26a8"/><path d="M965 1476.6L1008.7 1461.4" stroke="#3e26a8"/><path d="M723.5 1434.7L767.1 1442.3L733.6 1425.6L690 1409.6Z" fill="#fff"/><path d="M723.5 1434.7L767.1 1442.3" stroke="#463cde"/><path d="M723.5 1434.7L690 1409.6" stroke="#463cde"/><path d="M767.1 1442.3L733.6 1425.6" stroke="#4332cb"/><path d="M690 1409.6L733.6 1425.6" stroke="#463cde"/><path d="M1075.7 1498.1L1119.3 1484.6L1085.8 1465.8L1042.2 1478.8Z" fill="#fff"/><path d="M1075.7 1498.1L1119.3 1484.6" stroke="#3e26a8"/><path d="M1075.7 1498.1L1042.2 1478.8" stroke="#3e26a8"/><path d="M1119.3 1484.6L1085.8 1465.8" stroke="#3e26a8"/><path d="M1042.2 1478.8L1085.8 1465.8" stroke="#3e26a8"/><path d="M800.6 1476.5L844.3 1476.8L810.8 1454L767.1 1442.3Z" fill="#fff"/><path d="M800.6 1476.5L844.3 1476.8" stroke="#422ec0"/><path d="M800.6 1476.5L767.1 1442.3" stroke="#422ec0"/><path d="M844.3 1476.8L810.8 1454" stroke="#3e26a8"/><path d="M767.1 1442.3L810.8 1454" stroke="#4332cb"/><path d="M1152.8 1501.9L1196.4 1486.8L1162.9 1470L1119.3 1484.6Z" fill="#fff"/><path d="M1152.8 1501.9L1196.4 1486.8" stroke="#3e26a8"/><path d="M1152.8 1501.9L1119.3 1484.6" stroke="#3e26a8"/><path d="M1196.4 1486.8L1162.9 1470" stroke="#3e26a8"/><path d="M1119.3 1484.6L1162.9 1470" stroke="#3e26a8"/><path d="M877.8 1490.1L921.4 1490.1L887.9 1470.8L844.3 1476.8Z" fill="#fff"/><path d="M877.8 1490.1L921.4 1490.1" stroke="#402ab4"/><path d="M877.8 1490.1L844.3 1476.8" stroke="#402ab4"/><path d="M921.4 1490.1L887.9 1470.8" stroke="#3e26a8"/><path d="M844.3 1476.8L887.9 1470.8" stroke="#3e26a8"/><path d="M1229.9 1504.6L1273.5 1491.5L1240 1474L1196.4 1486.8Z" fill="#fff"/><path d="M1229.9 1504.6L1273.5 1491.5" stroke="#3e26a8"/><path d="M1229.9 1504.6L1196.4 1486.8" stroke="#3e26a8"/><path d="M1273.5 1491.5L1240 1474" stroke="#3e26a8"/><path d="M1196.4 1486.8L1240 1474" stroke="#3e26a8"/><path d="M954.9 1507.6L998.5 1492.9L965 1476.6L921.4 1490.1Z" fill="#fff"/><path d="M954.9 1507.6L998.5 1492.9" stroke="#3e26a8"/><path d="M954.9 1507.6L921.4 1490.1" stroke="#3e26a8"/><path d="M998.5 1492.9L965 1476.6" stroke="#3e26a8"/><path d="M921.4 1490.1L965 1476.6" stroke="#3e26a8"/><path d="M1032 1509.9L1075.7 1498.1L1042.2 1478.8L998.5 1492.9Z" fill="#fff"/><path d="M1032 1509.9L1075.7 1498.1" stroke="#3e26a8"/><path d="M1032 1509.9L998.5 1492.9" stroke="#3e26a8"/><path d="M1075.7 1498.1L1042.2 1478.8" stroke="#3e26a8"/><path d="M998.5 1492.9L1042.2 1478.8" stroke="#3e26a8"/><path d="M757 1443L800.6 1476.5L767.1 1442.3L723.5 1434.7Z" fill="#fff"/><path d="M757 1443L800.6 1476.5" stroke="#463cde"/><path d="M757 1443L723.5 1434.7" stroke="#463cde"/><path d="M800.6 1476.5L767.1 1442.3" stroke="#422ec0"/><path d="M723.5 1434.7L767.1 1442.3" stroke="#463cde"/><path d="M1109.2 1515.6L1152.8 1501.9L1119.3 1484.6L1075.7 1498.1Z" fill="#fff"/><path d="M1109.2 1515.6L1152.8 1501.9" stroke="#3e26a8"/><path d="M1109.2 1515.6L1075.7 1498.1" stroke="#3e26a8"/><path d="M1152.8 1501.9L1119.3 1484.6" stroke="#3e26a8"/><path d="M1075.7 1498.1L1119.3 1484.6" stroke="#3e26a8"/><path d="M834.1 1485.9L877.8 1490.1L844.3 1476.8L800.6 1476.5Z" fill="#fff"/><path d="M834.1 1485.9L877.8 1490.1" stroke="#422ec0"/><path d="M834.1 1485.9L800.6 1476.5" stroke="#422ec0"/><path d="M877.8 1490.1L844.3 1476.8" stroke="#402ab4"/><path d="M800.6 1476.5L844.3 1476.8" stroke="#422ec0"/><path d="M1186.3 1518.7L1229.9 1504.6L1196.4 1486.8L1152.8 1501.9Z" fill="#fff"/><path d="M1186.3 1518.7L1229.9 1504.6" stroke="#3e26a8"/><path d="M1186.3 1518.7L1152.8 1501.9" stroke="#3e26a8"/><path d="M1229.9 1504.6L1196.4 1486.8" stroke="#3e26a8"/><path d="M1152.8 1501.9L1196.4 1486.8" stroke="#3e26a8"/><path d="M911.3 1511.8L954.9 1507.6L921.4 1490.1L877.8 1490.1Z" fill="#fff"/><path d="M911.3 1511.8L954.9 1507.6" stroke="#3e26a8"/><path d="M911.3 1511.8L877.8 1490.1" stroke="#3e26a8"/><path d="M954.9 1507.6L921.4 1490.1" stroke="#3e26a8"/><path d="M877.8 1490.1L921.4 1490.1" stroke="#402ab4"/><path d="M988.4 1524.8L1032 1509.9L998.5 1492.9L954.9 1507.6Z" fill="#fff"/><path d="M988.4 1524.8L1032 1509.9" stroke="#3e26a8"/><path d="M988.4 1524.8L954.9 1507.6" stroke="#3e26a8"/><path d="M1032 1509.9L998.5 1492.9" stroke="#3e26a8"/><path d="M954.9 1507.6L998.5 1492.9" stroke="#3e26a8"/><path d="M1065.5 1528.6L1109.2 1515.6L1075.7 1498.1L1032 1509.9Z" fill="#fff"/><path d="M1065.5 1528.6L1109.2 1515.6" stroke="#3e26a8"/><path d="M1065.5 1528.6L1032 1509.9" stroke="#3e26a8"/><path d="M1109.2 1515.6L1075.7 1498.1" stroke="#3e26a8"/><path d="M1032 1509.9L1075.7 1498.1" stroke="#3e26a8"/><path d="M790.5 1462.4L834.1 1485.9L800.6 1476.5L757 1443Z" fill="#fff"/><path d="M790.5 1462.4L834.1 1485.9" stroke="#463cde"/><path d="M790.5 1462.4L757 1443" stroke="#463cde"/><path d="M834.1 1485.9L800.6 1476.5" stroke="#422ec0"/><path d="M757 1443L800.6 1476.5" stroke="#463cde"/><path d="M1142.7 1531.6L1186.3 1518.7L1152.8 1501.9L1109.2 1515.6Z" fill="#fff"/><path d="M1142.7 1531.6L1186.3 1518.7" stroke="#3e26a8"/><path d="M1142.7 1531.6L1109.2 1515.6" stroke="#3e26a8"/><path d="M1186.3 1518.7L1152.8 1501.9" stroke="#3e26a8"/><path d="M1109.2 1515.6L1152.8 1501.9" stroke="#3e26a8"/><path d="M867.6 1505.5L911.3 1511.8L877.8 1490.1L834.1 1485.9Z" fill="#fff"/><path d="M867.6 1505.5L911.3 1511.8" stroke="#422ec0"/><path d="M867.6 1505.5L834.1 1485.9" stroke="#422ec0"/><path d="M911.3 1511.8L877.8 1490.1" stroke="#3e26a8"/><path d="M834.1 1485.9L877.8 1490.1" stroke="#422ec0"/><path d="M944.8 1526L988.4 1524.8L954.9 1507.6L911.3 1511.8Z" fill="#fff"/><path d="M944.8 1526L988.4 1524.8" stroke="#402ab4"/><path d="M944.8 1526L911.3 1511.8" stroke="#402ab4"/><path d="M988.4 1524.8L954.9 1507.6" stroke="#3e26a8"/><path d="M911.3 1511.8L954.9 1507.6" stroke="#3e26a8"/><path d="M1021.9 1542.7L1065.5 1528.6L1032 1509.9L988.4 1524.8Z" fill="#fff"/><path d="M1021.9 1542.7L1065.5 1528.6" stroke="#3e26a8"/><path d="M1021.9 1542.7L988.4 1524.8" stroke="#3e26a8"/><path d="M1065.5 1528.6L1032 1509.9" stroke="#3e26a8"/><path d="M988.4 1524.8L1032 1509.9" stroke="#3e26a8"/><path d="M1099 1546.5L1142.7 1531.6L1109.2 1515.6L1065.5 1528.6Z" fill="#fff"/><path d="M1099 1546.5L1142.7 1531.6" stroke="#3e26a8"/><path d="M1099 1546.5L1065.5 1528.6" stroke="#3e26a8"/><path d="M1142.7 1531.6L1109.2 1515.6" stroke="#3e26a8"/><path d="M1065.5 1528.6L1109.2 1515.6" stroke="#3e26a8"/><path d="M824 1480.9L867.6 1505.5L834.1 1485.9L790.5 1462.4Z" fill="#fff"/><path d="M824 1480.9L867.6 1505.5" stroke="#463cde"/><path d="M824 1480.9L790.5 1462.4" stroke="#463cde"/><path d="M867.6 1505.5L834.1 1485.9" stroke="#422ec0"/><path d="M790.5 1462.4L834.1 1485.9" stroke="#463cde"/><path d="M901.1 1528.1L944.8 1526L911.3 1511.8L867.6 1505.5Z" fill="#fff"/><path d="M901.1 1528.1L944.8 1526" stroke="#422ec0"/><path d="M901.1 1528.1L867.6 1505.5" stroke="#422ec0"/><path d="M944.8 1526L911.3 1511.8" stroke="#402ab4"/><path d="M867.6 1505.5L911.3 1511.8" stroke="#422ec0"/><path d="M978.3 1550L1021.9 1542.7L988.4 1524.8L944.8 1526Z" fill="#fff"/><path d="M978.3 1550L1021.9 1542.7" stroke="#3e26a8"/><path d="M978.3 1550L944.8 1526" stroke="#3e26a8"/><path d="M1021.9 1542.7L988.4 1524.8" stroke="#3e26a8"/><path d="M944.8 1526L988.4 1524.8" stroke="#402ab4"/><path d="M1055.4 1558.7L1099 1546.5L1065.5 1528.6L1021.9 1542.7Z" fill="#fff"/><path d="M1055.4 1558.7L1099 1546.5" stroke="#3e26a8"/><path d="M1055.4 1558.7L1021.9 1542.7" stroke="#3e26a8"/><path d="M1099 1546.5L1065.5 1528.6" stroke="#3e26a8"/><path d="M1021.9 1542.7L1065.5 1528.6" stroke="#3e26a8"/><path d="M857.5 1487.9L901.1 1528.1L867.6 1505.5L824 1480.9Z" fill="#fff"/><path d="M857.5 1487.9L901.1 1528.1" stroke="#4741e5"/><path d="M857.5 1487.9L824 1480.9" stroke="#4741e5"/><path d="M901.1 1528.1L867.6 1505.5" stroke="#422ec0"/><path d="M824 1480.9L867.6 1505.5" stroke="#463cde"/><path d="M934.6 1527.6L978.3 1550L944.8 1526L901.1 1528.1Z" fill="#fff"/><path d="M934.6 1527.6L978.3 1550" stroke="#4332cb"/><path d="M934.6 1527.6L901.1 1528.1" stroke="#4332cb"/><path d="M978.3 1550L944.8 1526" stroke="#3e26a8"/><path d="M901.1 1528.1L944.8 1526" stroke="#422ec0"/><path d="M1011.8 1565.5L1055.4 1558.7L1021.9 1542.7L978.3 1550Z" fill="#fff"/><path d="M1011.8 1565.5L1055.4 1558.7" stroke="#3e26a8"/><path d="M1011.8 1565.5L978.3 1550" stroke="#3e26a8"/><path d="M1055.4 1558.7L1021.9 1542.7" stroke="#3e26a8"/><path d="M978.3 1550L1021.9 1542.7" stroke="#3e26a8"/><path d="M891 1513.9L934.6 1527.6L901.1 1528.1L857.5 1487.9Z" fill="#fff"/><path d="M891 1513.9L934.6 1527.6" stroke="#463cde"/><path d="M891 1513.9L857.5 1487.9" stroke="#463cde"/><path d="M934.6 1527.6L901.1 1528.1" stroke="#4332cb"/><path d="M857.5 1487.9L901.1 1528.1" stroke="#4741e5"/><path d="M968.1 1564.9L1011.8 1565.5L978.3 1550L934.6 1527.6Z" fill="#fff"/><path d="M968.1 1564.9L1011.8 1565.5" stroke="#402ab4"/><path d="M968.1 1564.9L934.6 1527.6" stroke="#402ab4"/><path d="M1011.8 1565.5L978.3 1550" stroke="#3e26a8"/><path d="M934.6 1527.6L978.3 1550" stroke="#4332cb"/><path d="M924.5 1533.9L968.1 1564.9L934.6 1527.6L891 1513.9Z" fill="#fff"/><path d="M924.5 1533.9L968.1 1564.9" stroke="#463cde"/><path d="M924.5 1533.9L891 1513.9" stroke="#463cde"/><path d="M968.1 1564.9L934.6 1527.6" stroke="#402ab4"/><path d="M891 1513.9L934.6 1527.6" stroke="#463cde"/></g><line x1="254.5" y1="1250.8" x2="254.5" y2="482.2" stroke="#262626" stroke-width="2.5"/><line x1="254.5" y1="1250.8" x2="924.5" y2="1602.0" stroke="#262626" stroke-width="2.5"/><line x1="924.5" y1="1602.0" x2="1797.1" y2="1332.9" stroke="#262626" stroke-width="2.5"/><line x1="254.5" y1="1250.8" x2="233.7" y2="1239.9" stroke="#262626" stroke-width="2.5"/><line x1="254.5" y1="1097.1" x2="233.7" y2="1086.2" stroke="#262626" stroke-width="2.5"/><line x1="254.5" y1="943.4" x2="233.7" y2="932.4" stroke="#262626" stroke-width="2.5"/><line x1="254.5" y1="789.6" x2="233.7" y2="778.7" stroke="#262626" stroke-width="2.5"/><line x1="254.5" y1="635.9" x2="233.7" y2="625.0" stroke="#262626" stroke-width="2.5"/><line x1="254.5" y1="482.2" x2="233.7" y2="471.3" stroke="#262626" stroke-width="2.5"/><line x1="924.5" y1="1602.0" x2="902.0" y2="1608.9" stroke="#262626" stroke-width="2.5"/><line x1="790.5" y1="1531.8" x2="768.0" y2="1538.7" stroke="#262626" stroke-width="2.5"/><line x1="656.5" y1="1461.5" x2="634.0" y2="1468.4" stroke="#262626" stroke-width="2.5"/><line x1="522.5" y1="1391.3" x2="500.0" y2="1398.2" stroke="#262626" stroke-width="2.5"/><line x1="388.5" y1="1321.0" x2="366.0" y2="1328.0" stroke="#262626" stroke-width="2.5"/><line x1="254.5" y1="1250.8" x2="232.0" y2="1257.7" stroke="#262626" stroke-width="2.5"/><line x1="924.5" y1="1602.0" x2="945.3" y2="1612.9" stroke="#262626" stroke-width="2.5"/><line x1="1099.0" y1="1548.2" x2="1119.8" y2="1559.1" stroke="#262626" stroke-width="2.5"/><line x1="1273.5" y1="1494.4" x2="1294.4" y2="1505.3" stroke="#262626" stroke-width="2.5"/><line x1="1448.1" y1="1440.5" x2="1468.9" y2="1451.5" stroke="#262626" stroke-width="2.5"/><line x1="1622.6" y1="1386.7" x2="1643.4" y2="1397.6" stroke="#262626" stroke-width="2.5"/><line x1="1797.1" y1="1332.9" x2="1817.9" y2="1343.8" stroke="#262626" stroke-width="2.5"/><g font-family="'Liberation Sans',Arial,Helvetica,sans-serif" font-size="56" fill="#262626" stroke="#fff" stroke-width="0.6"><text transform="translate(213.8 1254.2) scale(1 1.050)" text-anchor="end">0</text><text transform="translate(213.8 1100.5) scale(1 1.050)" text-anchor="end">0.2</text><text transform="translate(213.8 946.8) scale(1 1.050)" text-anchor="end">0.4</text><text transform="translate(213.8 793.0) scale(1 1.050)" text-anchor="end">0.6</text><text transform="translate(213.8 639.3) scale(1 1.050)" text-anchor="end">0.8</text><text transform="translate(213.8 485.6) scale(1 1.050)" text-anchor="end">1</text><text transform="translate(212.0 1323.0) scale(1 1.050)" text-anchor="end">0.5</text><text transform="translate(342.1 1392.8) scale(1 1.050)" text-anchor="end">0.3</text><text transform="translate(481.2 1462.5) scale(1 1.050)" text-anchor="end">0.1</text><text transform="translate(612.3 1536.0) scale(1 1.050)" text-anchor="end">-0.1</text><text transform="translate(743.9 1606.3) scale(1 1.050)" text-anchor="end">-0.3</text><text transform="translate(878.6 1676.3) scale(1 1.050)" text-anchor="end">-0.5</text><text transform="translate(964.6 1684.0) scale(1 1.050)">-0.5</text><text transform="translate(1137.6 1628.6) scale(1 1.050)">-0.3</text><text transform="translate(1312.1 1575.5) scale(1 1.050)">-0.1</text><text transform="translate(1489.5 1522.5) scale(1 1.050)">0.1</text><text transform="translate(1663.4 1466.3) scale(1 1.050)">0.3</text><text transform="translate(1837.0 1413.4) scale(1 1.050)">0.5</text></g><g font-family="'Liberation Sans',Arial,Helvetica,sans-serif" font-size="61.6" fill="#262626" stroke="#fff" stroke-width="0.6"><g fill="#000"><text transform="translate(1026.0 102.9) scale(1 1.050)" text-anchor="middle">The detection probability of MLC algorithm</text><text transform="translate(1026.0 189.8) scale(1 1.050)" text-anchor="middle">after pitch dimension jamming cancellation</text></g><text transform="translate(98.4 1146.0) rotate(-90.00) scale(1 1.050)">Detection probability</text><text transform="translate(1146.5 1725.8) rotate(-18.10) scale(1 1.050)">Target pitch angle (degree)</text><text transform="translate(84.4 1366.5) rotate(29.95) scale(1 1.050)">Target azimuth angle (degree)</text></g><defs><linearGradient id="cb0" x1="0" y1="0" x2="0" y2="1"><stop offset="0.0000" stop-color="#f9fb15"/><stop offset="0.0156" stop-color="#f7f51b"/><stop offset="0.0312" stop-color="#f6ef20"/><stop offset="0.0469" stop-color="#f5e924"/><stop offset="0.0625" stop-color="#f5e327"/><stop offset="0.0781" stop-color="#f7dd2a"/><stop offset="0.0938" stop-color="#f9d62d"/><stop offset="0.1094" stop-color="#fcd030"/><stop offset="0.1250" stop-color="#feca33"/><stop offset="0.1406" stop-color="#fec437"/><stop offset="0.1562" stop-color="#febe3c"/><stop offset="0.1719" stop-color="#f9bb3d"/><stop offset="0.1875" stop-color="#f1ba37"/><stop offset="0.2031" stop-color="#e8bb2f"/><stop offset="0.2188" stop-color="#debc2a"/><stop offset="0.2344" stop-color="#d4bf28"/><stop offset="0.2500" stop-color="#c8c129"/><stop offset="0.2656" stop-color="#bcc42f"/><stop offset="0.2812" stop-color="#afc637"/><stop offset="0.2969" stop-color="#a2c840"/><stop offset="0.3125" stop-color="#94ca4a"/><stop offset="0.3281" stop-color="#85cb55"/><stop offset="0.3438" stop-color="#77cc60"/><stop offset="0.3594" stop-color="#69cd6b"/><stop offset="0.3750" stop-color="#5ccc76"/><stop offset="0.3906" stop-color="#4fcc80"/><stop offset="0.4062" stop-color="#44ca8a"/><stop offset="0.4219" stop-color="#3ac993"/><stop offset="0.4375" stop-color="#34c79c"/><stop offset="0.4531" stop-color="#2ec5a4"/><stop offset="0.4688" stop-color="#28c2ab"/><stop offset="0.4844" stop-color="#1ec0b2"/><stop offset="0.5000" stop-color="#12beb9"/><stop offset="0.5156" stop-color="#07bcc0"/><stop offset="0.5312" stop-color="#01b9c6"/><stop offset="0.5469" stop-color="#04b6cd"/><stop offset="0.5625" stop-color="#0cb3d3"/><stop offset="0.5781" stop-color="#14b0d8"/><stop offset="0.5938" stop-color="#1aacdd"/><stop offset="0.6094" stop-color="#1ea7e1"/><stop offset="0.6250" stop-color="#21a3e3"/><stop offset="0.6406" stop-color="#249ee6"/><stop offset="0.6562" stop-color="#269ae9"/><stop offset="0.6719" stop-color="#2895ec"/><stop offset="0.6875" stop-color="#2c90f0"/><stop offset="0.7031" stop-color="#2d8bf4"/><stop offset="0.7188" stop-color="#2e85f8"/><stop offset="0.7344" stop-color="#3080fa"/><stop offset="0.7500" stop-color="#347afd"/><stop offset="0.7656" stop-color="#3a74fe"/><stop offset="0.7812" stop-color="#3f6efe"/><stop offset="0.7969" stop-color="#4368fe"/><stop offset="0.8125" stop-color="#4562fc"/><stop offset="0.8281" stop-color="#475dfa"/><stop offset="0.8438" stop-color="#4757f7"/><stop offset="0.8594" stop-color="#4852f4"/><stop offset="0.8750" stop-color="#484cef"/><stop offset="0.8906" stop-color="#4746ea"/><stop offset="0.9062" stop-color="#4741e5"/><stop offset="0.9219" stop-color="#463bdd"/><stop offset="0.9375" stop-color="#4536d5"/><stop offset="0.9531" stop-color="#4332ca"/><stop offset="0.9688" stop-color="#422ebf"/><stop offset="0.9844" stop-color="#402ab4"/><stop offset="1.0000" stop-color="#3e26a8"/></linearGradient></defs><rect x="1957.2" y="213.9" width="86.6" height="1388.0" fill="url(#cb0)" stroke="#262626" stroke-width="2.5"/><line x1="2032.1" y1="1601.9" x2="2043.8" y2="1601.9" stroke="#262626" stroke-width="2.5"/><line x1="2032.1" y1="1463.1" x2="2043.8" y2="1463.1" stroke="#262626" stroke-width="2.5"/><line x1="2032.1" y1="1324.3" x2="2043.8" y2="1324.3" stroke="#262626" stroke-width="2.5"/><line x1="2032.1" y1="1185.5" x2="2043.8" y2="1185.5" stroke="#262626" stroke-width="2.5"/><line x1="2032.1" y1="1046.7" x2="2043.8" y2="1046.7" stroke="#262626" stroke-width="2.5"/><line x1="2032.1" y1="907.9" x2="2043.8" y2="907.9" stroke="#262626" stroke-width="2.5"/><line x1="2032.1" y1="769.1" x2="2043.8" y2="769.1" stroke="#262626" stroke-width="2.5"/><line x1="2032.1" y1="630.3" x2="2043.8" y2="630.3" stroke="#262626" stroke-width="2.5"/><line x1="2032.1" y1="491.5" x2="2043.8" y2="491.5" stroke="#262626" stroke-width="2.5"/><line x1="2032.1" y1="352.7" x2="2043.8" y2="352.7" stroke="#262626" stroke-width="2.5"/><line x1="2032.1" y1="213.9" x2="2043.8" y2="213.9" stroke="#262626" stroke-width="2.5"/><g font-family="'Liberation Sans',Arial,Helvetica,sans-serif" font-size="50.4" fill="#262626" stroke="#fff" stroke-width="0.6"><text transform="translate(2068.3 1623.6) scale(1 1.050)">0</text><text transform="translate(2068.3 1484.8) scale(1 1.050)">0.1</text><text transform="translate(2068.3 1346.0) scale(1 1.050)">0.2</text><text transform="translate(2068.3 1207.2) scale(1 1.050)">0.3</text><text transform="translate(2068.3 1068.4) scale(1 1.050)">0.4</text><text transform="translate(2068.3 929.6) scale(1 1.050)">0.5</text><text transform="translate(2068.3 790.8) scale(1 1.050)">0.6</text><text transform="translate(2068.3 652.0) scale(1 1.050)">0.7</text><text transform="translate(2068.3 513.2) scale(1 1.050)">0.8</text><text transform="translate(2068.3 374.4) scale(1 1.050)">0.9</text><text transform="translate(2068.3 235.6) scale(1 1.050)">1</text></g><line x1="254.5" y1="3017.6" x2="254.5" y2="2249.0" stroke="#e5e5e5" stroke-width="2.5"/><line x1="254.5" y1="3017.6" x2="1127.1" y2="2748.5" stroke="#e5e5e5" stroke-width="2.5"/><line x1="429.0" y1="2963.8" x2="429.0" y2="2195.2" stroke="#e5e5e5" stroke-width="2.5"/><line x1="254.5" y1="2863.9" x2="1127.1" y2="2594.8" stroke="#e5e5e5" stroke-width="2.5"/><line x1="603.5" y1="2910.0" x2="603.5" y2="2141.4" stroke="#e5e5e5" stroke-width="2.5"/><line x1="254.5" y1="2710.2" x2="1127.1" y2="2441.1" stroke="#e5e5e5" stroke-width="2.5"/><line x1="778.1" y1="2856.1" x2="778.1" y2="2087.5" stroke="#e5e5e5" stroke-width="2.5"/><line x1="254.5" y1="2556.4" x2="1127.1" y2="2287.3" stroke="#e5e5e5" stroke-width="2.5"/><line x1="952.6" y1="2802.3" x2="952.6" y2="2033.7" stroke="#e5e5e5" stroke-width="2.5"/><line x1="254.5" y1="2402.7" x2="1127.1" y2="2133.6" stroke="#e5e5e5" stroke-width="2.5"/><line x1="1127.1" y1="2748.5" x2="1127.1" y2="1979.9" stroke="#e5e5e5" stroke-width="2.5"/><line x1="254.5" y1="2249.0" x2="1127.1" y2="1979.9" stroke="#e5e5e5" stroke-width="2.5"/><line x1="1797.1" y1="3099.7" x2="1797.1" y2="2331.1" stroke="#e5e5e5" stroke-width="2.5"/><line x1="1797.1" y1="3099.7" x2="1127.1" y2="2748.5" stroke="#e5e5e5" stroke-width="2.5"/><line x1="1663.1" y1="3029.5" x2="1663.1" y2="2260.9" stroke="#e5e5e5" stroke-width="2.5"/><line x1="1797.1" y1="2946.0" x2="1127.1" y2="2594.8" stroke="#e5e5e5" stroke-width="2.5"/><line x1="1529.1" y1="2959.2" x2="1529.1" y2="2190.6" stroke="#e5e5e5" stroke-width="2.5"/><line x1="1797.1" y1="2792.3" x2="1127.1" y2="2441.1" stroke="#e5e5e5" stroke-width="2.5"/><line x1="1395.1" y1="2889.0" x2="1395.1" y2="2120.4" stroke="#e5e5e5" stroke-width="2.5"/><line x1="1797.1" y1="2638.5" x2="1127.1" y2="2287.3" stroke="#e5e5e5" stroke-width="2.5"/><line x1="1261.1" y1="2818.7" x2="1261.1" y2="2050.1" stroke="#e5e5e5" stroke-width="2.5"/><line x1="1797.1" y1="2484.8" x2="1127.1" y2="2133.6" stroke="#e5e5e5" stroke-width="2.5"/><line x1="1127.1" y1="2748.5" x2="1127.1" y2="1979.9" stroke="#e5e5e5" stroke-width="2.5"/><line x1="1797.1" y1="2331.1" x2="1127.1" y2="1979.9" stroke="#e5e5e5" stroke-width="2.5"/><line x1="924.5" y1="3368.8" x2="254.5" y2="3017.6" stroke="#e5e5e5" stroke-width="2.5"/><line x1="924.5" y1="3368.8" x2="1797.1" y2="3099.7" stroke="#e5e5e5" stroke-width="2.5"/><line x1="1099.0" y1="3315.0" x2="429.0" y2="2963.8" stroke="#e5e5e5" stroke-width="2.5"/><line x1="790.5" y1="3298.6" x2="1663.1" y2="3029.5" stroke="#e5e5e5" stroke-width="2.5"/><line x1="1273.5" y1="3261.2" x2="603.5" y2="2910.0" stroke="#e5e5e5" stroke-width="2.5"/><line x1="656.5" y1="3228.3" x2="1529.1" y2="2959.2" stroke="#e5e5e5" stroke-width="2.5"/><line x1="1448.1" y1="3207.3" x2="778.1" y2="2856.1" stroke="#e5e5e5" stroke-width="2.5"/><line x1="522.5" y1="3158.1" x2="1395.1" y2="2889.0" stroke="#e5e5e5" stroke-width="2.5"/><line x1="1622.6" y1="3153.5" x2="952.6" y2="2802.3" stroke="#e5e5e5" stroke-width="2.5"/><line x1="388.5" y1="3087.8" x2="1261.1" y2="2818.7" stroke="#e5e5e5" stroke-width="2.5"/><line x1="1797.1" y1="3099.7" x2="1127.1" y2="2748.5" stroke="#e5e5e5" stroke-width="2.5"/><line x1="254.5" y1="3017.6" x2="1127.1" y2="2748.5" stroke="#e5e5e5" stroke-width="2.5"/><g fill="none" stroke-width="1.7" stroke-linejoin="round" stroke-linecap="round"><path d="M1117 2020.6L1160.6 2009L1127.1 1979.9L1083.5 1993.4Z" fill="#fff"/><path d="M1117 2020.6L1160.6 2009" stroke="#f9fb15"/><path d="M1117 2020.6L1083.5 1993.4" stroke="#f9fb15"/><path d="M1160.6 2009L1127.1 1979.9" stroke="#f9fb15"/><path d="M1083.5 1993.4L1127.1 1979.9" stroke="#f9fb15"/><path d="M1073.3 2033.6L1117 2020.6L1083.5 1993.4L1039.8 2006.8Z" fill="#fff"/><path d="M1073.3 2033.6L1117 2020.6" stroke="#f9fb15"/><path d="M1073.3 2033.6L1039.8 2006.8" stroke="#f9fb15"/><path d="M1117 2020.6L1083.5 1993.4" stroke="#f9fb15"/><path d="M1039.8 2006.8L1083.5 1993.4" stroke="#f9fb15"/><path d="M1150.5 2061.1L1194.1 2069.6L1160.6 2009L1117 2020.6Z" fill="#fff"/><path d="M1150.5 2061.1L1194.1 2069.6" stroke="#f6ef20"/><path d="M1150.5 2061.1L1117 2020.6" stroke="#f6ef20"/><path d="M1194.1 2069.6L1160.6 2009" stroke="#f5e327"/><path d="M1117 2020.6L1160.6 2009" stroke="#f9fb15"/><path d="M1029.7 2045.5L1073.3 2033.6L1039.8 2006.8L996.2 2020.3Z" fill="#fff"/><path d="M1029.7 2045.5L1073.3 2033.6" stroke="#f9fb15"/><path d="M1029.7 2045.5L996.2 2020.3" stroke="#f9fb15"/><path d="M1073.3 2033.6L1039.8 2006.8" stroke="#f9fb15"/><path d="M996.2 2020.3L1039.8 2006.8" stroke="#f9fb15"/><path d="M1106.8 2083.7L1150.5 2061.1L1117 2020.6L1073.3 2033.6Z" fill="#fff"/><path d="M1106.8 2083.7L1150.5 2061.1" stroke="#f5e924"/><path d="M1106.8 2083.7L1073.3 2033.6" stroke="#f5e924"/><path d="M1150.5 2061.1L1117 2020.6" stroke="#f6ef20"/><path d="M1073.3 2033.6L1117 2020.6" stroke="#f9fb15"/><path d="M1184 2139L1227.6 2127.9L1194.1 2069.6L1150.5 2061.1Z" fill="#fff"/><path d="M1184 2139L1227.6 2127.9" stroke="#fccf30"/><path d="M1184 2139L1150.5 2061.1" stroke="#fccf30"/><path d="M1227.6 2127.9L1194.1 2069.6" stroke="#fccf30"/><path d="M1150.5 2061.1L1194.1 2069.6" stroke="#f6ef20"/><path d="M986.1 2061.6L1029.7 2045.5L996.2 2020.3L952.6 2033.7Z" fill="#fff"/><path d="M986.1 2061.6L1029.7 2045.5" stroke="#f9fb15"/><path d="M986.1 2061.6L952.6 2033.7" stroke="#f9fb15"/><path d="M1029.7 2045.5L996.2 2020.3" stroke="#f9fb15"/><path d="M952.6 2033.7L996.2 2020.3" stroke="#f9fb15"/><path d="M1063.2 2088.8L1106.8 2083.7L1073.3 2033.6L1029.7 2045.5Z" fill="#fff"/><path d="M1063.2 2088.8L1106.8 2083.7" stroke="#f6ef20"/><path d="M1063.2 2088.8L1029.7 2045.5" stroke="#f6ef20"/><path d="M1106.8 2083.7L1073.3 2033.6" stroke="#f5e924"/><path d="M1029.7 2045.5L1073.3 2033.6" stroke="#f9fb15"/><path d="M1140.3 2154L1184 2139L1150.5 2061.1L1106.8 2083.7Z" fill="#fff"/><path d="M1140.3 2154L1184 2139" stroke="#fccf30"/><path d="M1140.3 2154L1106.8 2083.7" stroke="#fccf30"/><path d="M1184 2139L1150.5 2061.1" stroke="#fccf30"/><path d="M1106.8 2083.7L1150.5 2061.1" stroke="#f5e924"/><path d="M1217.5 2222.3L1261.1 2193.9L1227.6 2127.9L1184 2139Z" fill="#fff"/><path d="M1217.5 2222.3L1261.1 2193.9" stroke="#e6bb2d"/><path d="M1217.5 2222.3L1184 2139" stroke="#e6bb2d"/><path d="M1261.1 2193.9L1227.6 2127.9" stroke="#f8ba3d"/><path d="M1184 2139L1227.6 2127.9" stroke="#fccf30"/><path d="M942.5 2073L986.1 2061.6L952.6 2033.7L909 2047.2Z" fill="#fff"/><path d="M942.5 2073L986.1 2061.6" stroke="#f9fb15"/><path d="M942.5 2073L909 2047.2" stroke="#f9fb15"/><path d="M986.1 2061.6L952.6 2033.7" stroke="#f9fb15"/><path d="M909 2047.2L952.6 2033.7" stroke="#f9fb15"/><path d="M1019.6 2111.1L1063.2 2088.8L1029.7 2045.5L986.1 2061.6Z" fill="#fff"/><path d="M1019.6 2111.1L1063.2 2088.8" stroke="#f5e924"/><path d="M1019.6 2111.1L986.1 2061.6" stroke="#f5e924"/><path d="M1063.2 2088.8L1029.7 2045.5" stroke="#f6ef20"/><path d="M986.1 2061.6L1029.7 2045.5" stroke="#f9fb15"/><path d="M1096.7 2172.1L1140.3 2154L1106.8 2083.7L1063.2 2088.8Z" fill="#fff"/><path d="M1096.7 2172.1L1140.3 2154" stroke="#fec934"/><path d="M1096.7 2172.1L1063.2 2088.8" stroke="#fec934"/><path d="M1140.3 2154L1106.8 2083.7" stroke="#fccf30"/><path d="M1063.2 2088.8L1106.8 2083.7" stroke="#f6ef20"/><path d="M1173.8 2232.8L1217.5 2222.3L1184 2139L1140.3 2154Z" fill="#fff"/><path d="M1173.8 2232.8L1217.5 2222.3" stroke="#f0ba36"/><path d="M1173.8 2232.8L1140.3 2154" stroke="#f0ba36"/><path d="M1217.5 2222.3L1184 2139" stroke="#e6bb2d"/><path d="M1140.3 2154L1184 2139" stroke="#fccf30"/><path d="M898.8 2084.7L942.5 2073L909 2047.2L865.3 2060.6Z" fill="#fff"/><path d="M898.8 2084.7L942.5 2073" stroke="#f9fb15"/><path d="M898.8 2084.7L865.3 2060.6" stroke="#f9fb15"/><path d="M942.5 2073L909 2047.2" stroke="#f9fb15"/><path d="M865.3 2060.6L909 2047.2" stroke="#f9fb15"/><path d="M1251 2277.5L1294.6 2272.5L1261.1 2193.9L1217.5 2222.3Z" fill="#fff"/><path d="M1251 2277.5L1294.6 2272.5" stroke="#c5c22a"/><path d="M1251 2277.5L1217.5 2222.3" stroke="#c5c22a"/><path d="M1294.6 2272.5L1261.1 2193.9" stroke="#b9c431"/><path d="M1217.5 2222.3L1261.1 2193.9" stroke="#e6bb2d"/><path d="M976 2120.7L1019.6 2111.1L986.1 2061.6L942.5 2073Z" fill="#fff"/><path d="M976 2120.7L1019.6 2111.1" stroke="#f5e924"/><path d="M976 2120.7L942.5 2073" stroke="#f5e924"/><path d="M1019.6 2111.1L986.1 2061.6" stroke="#f5e924"/><path d="M942.5 2073L986.1 2061.6" stroke="#f9fb15"/><path d="M1053.1 2172.5L1096.7 2172.1L1063.2 2088.8L1019.6 2111.1Z" fill="#fff"/><path d="M1053.1 2172.5L1096.7 2172.1" stroke="#fccf30"/><path d="M1053.1 2172.5L1019.6 2111.1" stroke="#fccf30"/><path d="M1096.7 2172.1L1063.2 2088.8" stroke="#fec934"/><path d="M1019.6 2111.1L1063.2 2088.8" stroke="#f5e924"/><path d="M1130.2 2252.3L1173.8 2232.8L1140.3 2154L1096.7 2172.1Z" fill="#fff"/><path d="M1130.2 2252.3L1173.8 2232.8" stroke="#e6bb2d"/><path d="M1130.2 2252.3L1096.7 2172.1" stroke="#e6bb2d"/><path d="M1173.8 2232.8L1140.3 2154" stroke="#f0ba36"/><path d="M1096.7 2172.1L1140.3 2154" stroke="#fec934"/><path d="M855.2 2097.7L898.8 2084.7L865.3 2060.6L821.7 2074.1Z" fill="#fff"/><path d="M855.2 2097.7L898.8 2084.7" stroke="#f9fb15"/><path d="M855.2 2097.7L821.7 2074.1" stroke="#f9fb15"/><path d="M898.8 2084.7L865.3 2060.6" stroke="#f9fb15"/><path d="M821.7 2074.1L865.3 2060.6" stroke="#f9fb15"/><path d="M1207.3 2296.2L1251 2277.5L1217.5 2222.3L1173.8 2232.8Z" fill="#fff"/><path d="M1207.3 2296.2L1251 2277.5" stroke="#c5c22a"/><path d="M1207.3 2296.2L1173.8 2232.8" stroke="#c5c22a"/><path d="M1251 2277.5L1217.5 2222.3" stroke="#c5c22a"/><path d="M1173.8 2232.8L1217.5 2222.3" stroke="#f0ba36"/><path d="M932.3 2138L976 2120.7L942.5 2073L898.8 2084.7Z" fill="#fff"/><path d="M932.3 2138L976 2120.7" stroke="#f5e924"/><path d="M932.3 2138L898.8 2084.7" stroke="#f5e924"/><path d="M976 2120.7L942.5 2073" stroke="#f5e924"/><path d="M898.8 2084.7L942.5 2073" stroke="#f9fb15"/><path d="M1284.5 2312.4L1328.1 2303.5L1294.6 2272.5L1251 2277.5Z" fill="#fff"/><path d="M1284.5 2312.4L1328.1 2303.5" stroke="#b9c431"/><path d="M1284.5 2312.4L1251 2277.5" stroke="#b9c431"/><path d="M1328.1 2303.5L1294.6 2272.5" stroke="#abc739"/><path d="M1251 2277.5L1294.6 2272.5" stroke="#c5c22a"/><path d="M1009.5 2192.1L1053.1 2172.5L1019.6 2111.1L976 2120.7Z" fill="#fff"/><path d="M1009.5 2192.1L1053.1 2172.5" stroke="#fccf30"/><path d="M1009.5 2192.1L976 2120.7" stroke="#fccf30"/><path d="M1053.1 2172.5L1019.6 2111.1" stroke="#fccf30"/><path d="M976 2120.7L1019.6 2111.1" stroke="#f5e924"/><path d="M1086.6 2261.1L1130.2 2252.3L1096.7 2172.1L1053.1 2172.5Z" fill="#fff"/><path d="M1086.6 2261.1L1130.2 2252.3" stroke="#e6bb2d"/><path d="M1086.6 2261.1L1053.1 2172.5" stroke="#e6bb2d"/><path d="M1130.2 2252.3L1096.7 2172.1" stroke="#e6bb2d"/><path d="M1053.1 2172.5L1096.7 2172.1" stroke="#fccf30"/><path d="M811.6 2114L855.2 2097.7L821.7 2074.1L778.1 2087.5Z" fill="#fff"/><path d="M811.6 2114L855.2 2097.7" stroke="#f9fb15"/><path d="M811.6 2114L778.1 2087.5" stroke="#f9fb15"/><path d="M855.2 2097.7L821.7 2074.1" stroke="#f9fb15"/><path d="M778.1 2087.5L821.7 2074.1" stroke="#f9fb15"/><path d="M1163.7 2300L1207.3 2296.2L1173.8 2232.8L1130.2 2252.3Z" fill="#fff"/><path d="M1163.7 2300L1207.3 2296.2" stroke="#d1bf27"/><path d="M1163.7 2300L1130.2 2252.3" stroke="#d1bf27"/><path d="M1207.3 2296.2L1173.8 2232.8" stroke="#c5c22a"/><path d="M1130.2 2252.3L1173.8 2232.8" stroke="#e6bb2d"/><path d="M888.7 2158.8L932.3 2138L898.8 2084.7L855.2 2097.7Z" fill="#fff"/><path d="M888.7 2158.8L932.3 2138" stroke="#f5e327"/><path d="M888.7 2158.8L855.2 2097.7" stroke="#f5e327"/><path d="M932.3 2138L898.8 2084.7" stroke="#f5e924"/><path d="M855.2 2097.7L898.8 2084.7" stroke="#f9fb15"/><path d="M1240.8 2329.1L1284.5 2312.4L1251 2277.5L1207.3 2296.2Z" fill="#fff"/><path d="M1240.8 2329.1L1284.5 2312.4" stroke="#abc739"/><path d="M1240.8 2329.1L1207.3 2296.2" stroke="#abc739"/><path d="M1284.5 2312.4L1251 2277.5" stroke="#b9c431"/><path d="M1207.3 2296.2L1251 2277.5" stroke="#c5c22a"/><path d="M965.8 2213.2L1009.5 2192.1L976 2120.7L932.3 2138Z" fill="#fff"/><path d="M965.8 2213.2L1009.5 2192.1" stroke="#fec934"/><path d="M965.8 2213.2L932.3 2138" stroke="#fec934"/><path d="M1009.5 2192.1L976 2120.7" stroke="#fccf30"/><path d="M932.3 2138L976 2120.7" stroke="#f5e924"/><path d="M1318 2287.3L1361.6 2259L1328.1 2303.5L1284.5 2312.4Z" fill="#fff"/><path d="M1318 2287.3L1361.6 2259" stroke="#dcbd29"/><path d="M1318 2287.3L1284.5 2312.4" stroke="#dcbd29"/><path d="M1361.6 2259L1328.1 2303.5" stroke="#e6bb2d"/><path d="M1284.5 2312.4L1328.1 2303.5" stroke="#b9c431"/><path d="M1043 2273.9L1086.6 2261.1L1053.1 2172.5L1009.5 2192.1Z" fill="#fff"/><path d="M1043 2273.9L1086.6 2261.1" stroke="#e6bb2d"/><path d="M1043 2273.9L1009.5 2192.1" stroke="#e6bb2d"/><path d="M1086.6 2261.1L1053.1 2172.5" stroke="#e6bb2d"/><path d="M1009.5 2192.1L1053.1 2172.5" stroke="#fccf30"/><path d="M767.9 2126.6L811.6 2114L778.1 2087.5L734.4 2101Z" fill="#fff"/><path d="M767.9 2126.6L811.6 2114" stroke="#f9fb15"/><path d="M767.9 2126.6L734.4 2101" stroke="#f9fb15"/><path d="M811.6 2114L778.1 2087.5" stroke="#f9fb15"/><path d="M734.4 2101L778.1 2087.5" stroke="#f9fb15"/><path d="M1120.1 2314.4L1163.7 2300L1130.2 2252.3L1086.6 2261.1Z" fill="#fff"/><path d="M1120.1 2314.4L1163.7 2300" stroke="#c5c22a"/><path d="M1120.1 2314.4L1086.6 2261.1" stroke="#c5c22a"/><path d="M1163.7 2300L1130.2 2252.3" stroke="#d1bf27"/><path d="M1086.6 2261.1L1130.2 2252.3" stroke="#e6bb2d"/><path d="M845.1 2168L888.7 2158.8L855.2 2097.7L811.6 2114Z" fill="#fff"/><path d="M845.1 2168L888.7 2158.8" stroke="#f5e924"/><path d="M845.1 2168L811.6 2114" stroke="#f5e924"/><path d="M888.7 2158.8L855.2 2097.7" stroke="#f5e327"/><path d="M811.6 2114L855.2 2097.7" stroke="#f9fb15"/><path d="M1197.2 2350.4L1240.8 2329.1L1207.3 2296.2L1163.7 2300Z" fill="#fff"/><path d="M1197.2 2350.4L1240.8 2329.1" stroke="#abc739"/><path d="M1197.2 2350.4L1163.7 2300" stroke="#abc739"/><path d="M1240.8 2329.1L1207.3 2296.2" stroke="#abc739"/><path d="M1163.7 2300L1207.3 2296.2" stroke="#d1bf27"/><path d="M922.2 2225.1L965.8 2213.2L932.3 2138L888.7 2158.8Z" fill="#fff"/><path d="M922.2 2225.1L965.8 2213.2" stroke="#fec934"/><path d="M922.2 2225.1L888.7 2158.8" stroke="#fec934"/><path d="M965.8 2213.2L932.3 2138" stroke="#fec934"/><path d="M888.7 2158.8L932.3 2138" stroke="#f5e327"/><path d="M1274.3 2297.7L1318 2287.3L1284.5 2312.4L1240.8 2329.1Z" fill="#fff"/><path d="M1274.3 2297.7L1318 2287.3" stroke="#e6bb2d"/><path d="M1274.3 2297.7L1240.8 2329.1" stroke="#e6bb2d"/><path d="M1318 2287.3L1284.5 2312.4" stroke="#dcbd29"/><path d="M1240.8 2329.1L1284.5 2312.4" stroke="#abc739"/><path d="M999.3 2282.8L1043 2273.9L1009.5 2192.1L965.8 2213.2Z" fill="#fff"/><path d="M999.3 2282.8L1043 2273.9" stroke="#f0ba36"/><path d="M999.3 2282.8L965.8 2213.2" stroke="#f0ba36"/><path d="M1043 2273.9L1009.5 2192.1" stroke="#e6bb2d"/><path d="M965.8 2213.2L1009.5 2192.1" stroke="#fec934"/><path d="M724.3 2138.9L767.9 2126.6L734.4 2101L690.8 2114.4Z" fill="#fff"/><path d="M724.3 2138.9L767.9 2126.6" stroke="#f9fb15"/><path d="M724.3 2138.9L690.8 2114.4" stroke="#f9fb15"/><path d="M767.9 2126.6L734.4 2101" stroke="#f9fb15"/><path d="M690.8 2114.4L734.4 2101" stroke="#f9fb15"/><path d="M1351.5 2197.4L1395.1 2177.5L1361.6 2259L1318 2287.3Z" fill="#fff"/><path d="M1351.5 2197.4L1395.1 2177.5" stroke="#f7dc2a"/><path d="M1351.5 2197.4L1318 2287.3" stroke="#f7dc2a"/><path d="M1395.1 2177.5L1361.6 2259" stroke="#f5e327"/><path d="M1318 2287.3L1361.6 2259" stroke="#dcbd29"/><path d="M1076.5 2332.8L1120.1 2314.4L1086.6 2261.1L1043 2273.9Z" fill="#fff"/><path d="M1076.5 2332.8L1120.1 2314.4" stroke="#c5c22a"/><path d="M1076.5 2332.8L1043 2273.9" stroke="#c5c22a"/><path d="M1120.1 2314.4L1086.6 2261.1" stroke="#c5c22a"/><path d="M1043 2273.9L1086.6 2261.1" stroke="#e6bb2d"/><path d="M801.4 2169.2L845.1 2168L811.6 2114L767.9 2126.6Z" fill="#fff"/><path d="M801.4 2169.2L845.1 2168" stroke="#f6ef20"/><path d="M801.4 2169.2L767.9 2126.6" stroke="#f6ef20"/><path d="M845.1 2168L811.6 2114" stroke="#f5e924"/><path d="M767.9 2126.6L811.6 2114" stroke="#f9fb15"/><path d="M1153.6 2352.2L1197.2 2350.4L1163.7 2300L1120.1 2314.4Z" fill="#fff"/><path d="M1153.6 2352.2L1197.2 2350.4" stroke="#b9c431"/><path d="M1153.6 2352.2L1120.1 2314.4" stroke="#b9c431"/><path d="M1197.2 2350.4L1163.7 2300" stroke="#abc739"/><path d="M1120.1 2314.4L1163.7 2300" stroke="#c5c22a"/><path d="M878.6 2249.7L922.2 2225.1L888.7 2158.8L845.1 2168Z" fill="#fff"/><path d="M878.6 2249.7L922.2 2225.1" stroke="#fec338"/><path d="M878.6 2249.7L845.1 2168" stroke="#fec338"/><path d="M922.2 2225.1L888.7 2158.8" stroke="#fec934"/><path d="M845.1 2168L888.7 2158.8" stroke="#f5e924"/><path d="M1230.7 2314.4L1274.3 2297.7L1240.8 2329.1L1197.2 2350.4Z" fill="#fff"/><path d="M1230.7 2314.4L1274.3 2297.7" stroke="#dcbd29"/><path d="M1230.7 2314.4L1197.2 2350.4" stroke="#dcbd29"/><path d="M1274.3 2297.7L1240.8 2329.1" stroke="#e6bb2d"/><path d="M1197.2 2350.4L1240.8 2329.1" stroke="#abc739"/><path d="M955.7 2309.8L999.3 2282.8L965.8 2213.2L922.2 2225.1Z" fill="#fff"/><path d="M955.7 2309.8L999.3 2282.8" stroke="#e6bb2d"/><path d="M955.7 2309.8L922.2 2225.1" stroke="#e6bb2d"/><path d="M999.3 2282.8L965.8 2213.2" stroke="#f0ba36"/><path d="M922.2 2225.1L965.8 2213.2" stroke="#fec934"/><path d="M680.7 2154.1L724.3 2138.9L690.8 2114.4L647.2 2127.9Z" fill="#fff"/><path d="M680.7 2154.1L724.3 2138.9" stroke="#f9fb15"/><path d="M680.7 2154.1L647.2 2127.9" stroke="#f9fb15"/><path d="M724.3 2138.9L690.8 2114.4" stroke="#f9fb15"/><path d="M647.2 2127.9L690.8 2114.4" stroke="#f9fb15"/><path d="M1307.8 2194.9L1351.5 2197.4L1318 2287.3L1274.3 2297.7Z" fill="#fff"/><path d="M1307.8 2194.9L1351.5 2197.4" stroke="#f5e924"/><path d="M1307.8 2194.9L1274.3 2297.7" stroke="#f5e924"/><path d="M1351.5 2197.4L1318 2287.3" stroke="#f7dc2a"/><path d="M1274.3 2297.7L1318 2287.3" stroke="#e6bb2d"/><path d="M1032.8 2345.2L1076.5 2332.8L1043 2273.9L999.3 2282.8Z" fill="#fff"/><path d="M1032.8 2345.2L1076.5 2332.8" stroke="#c5c22a"/><path d="M1032.8 2345.2L999.3 2282.8" stroke="#c5c22a"/><path d="M1076.5 2332.8L1043 2273.9" stroke="#c5c22a"/><path d="M999.3 2282.8L1043 2273.9" stroke="#f0ba36"/><path d="M757.8 2174.2L801.4 2169.2L767.9 2126.6L724.3 2138.9Z" fill="#fff"/><path d="M757.8 2174.2L801.4 2169.2" stroke="#f6ef20"/><path d="M757.8 2174.2L724.3 2138.9" stroke="#f6ef20"/><path d="M801.4 2169.2L767.9 2126.6" stroke="#f6ef20"/><path d="M724.3 2138.9L767.9 2126.6" stroke="#f9fb15"/><path d="M1385 2152L1428.6 2137.9L1395.1 2177.5L1351.5 2197.4Z" fill="#fff"/><path d="M1385 2152L1428.6 2137.9" stroke="#f9fb15"/><path d="M1385 2152L1351.5 2197.4" stroke="#f9fb15"/><path d="M1428.6 2137.9L1395.1 2177.5" stroke="#f9fb15"/><path d="M1351.5 2197.4L1395.1 2177.5" stroke="#f7dc2a"/><path d="M1110 2365.8L1153.6 2352.2L1120.1 2314.4L1076.5 2332.8Z" fill="#fff"/><path d="M1110 2365.8L1153.6 2352.2" stroke="#b9c431"/><path d="M1110 2365.8L1076.5 2332.8" stroke="#b9c431"/><path d="M1153.6 2352.2L1120.1 2314.4" stroke="#b9c431"/><path d="M1076.5 2332.8L1120.1 2314.4" stroke="#c5c22a"/><path d="M834.9 2250.7L878.6 2249.7L845.1 2168L801.4 2169.2Z" fill="#fff"/><path d="M834.9 2250.7L878.6 2249.7" stroke="#fec934"/><path d="M834.9 2250.7L801.4 2169.2" stroke="#fec934"/><path d="M878.6 2249.7L845.1 2168" stroke="#fec338"/><path d="M801.4 2169.2L845.1 2168" stroke="#f6ef20"/><path d="M1187.1 2316.5L1230.7 2314.4L1197.2 2350.4L1153.6 2352.2Z" fill="#fff"/><path d="M1187.1 2316.5L1230.7 2314.4" stroke="#e6bb2d"/><path d="M1187.1 2316.5L1153.6 2352.2" stroke="#e6bb2d"/><path d="M1230.7 2314.4L1197.2 2350.4" stroke="#dcbd29"/><path d="M1153.6 2352.2L1197.2 2350.4" stroke="#b9c431"/><path d="M912.1 2310.5L955.7 2309.8L922.2 2225.1L878.6 2249.7Z" fill="#fff"/><path d="M912.1 2310.5L955.7 2309.8" stroke="#f0ba36"/><path d="M912.1 2310.5L878.6 2249.7" stroke="#f0ba36"/><path d="M955.7 2309.8L922.2 2225.1" stroke="#e6bb2d"/><path d="M878.6 2249.7L922.2 2225.1" stroke="#fec338"/><path d="M637 2165.5L680.7 2154.1L647.2 2127.9L603.5 2141.4Z" fill="#fff"/><path d="M637 2165.5L680.7 2154.1" stroke="#f9fb15"/><path d="M637 2165.5L603.5 2141.4" stroke="#f9fb15"/><path d="M680.7 2154.1L647.2 2127.9" stroke="#f9fb15"/><path d="M603.5 2141.4L647.2 2127.9" stroke="#f9fb15"/><path d="M1264.2 2213.6L1307.8 2194.9L1274.3 2297.7L1230.7 2314.4Z" fill="#fff"/><path d="M1264.2 2213.6L1307.8 2194.9" stroke="#f5e327"/><path d="M1264.2 2213.6L1230.7 2314.4" stroke="#f5e327"/><path d="M1307.8 2194.9L1274.3 2297.7" stroke="#f5e924"/><path d="M1230.7 2314.4L1274.3 2297.7" stroke="#dcbd29"/><path d="M989.2 2352L1032.8 2345.2L999.3 2282.8L955.7 2309.8Z" fill="#fff"/><path d="M989.2 2352L1032.8 2345.2" stroke="#d1bf27"/><path d="M989.2 2352L955.7 2309.8" stroke="#d1bf27"/><path d="M1032.8 2345.2L999.3 2282.8" stroke="#c5c22a"/><path d="M955.7 2309.8L999.3 2282.8" stroke="#e6bb2d"/><path d="M714.2 2202.6L757.8 2174.2L724.3 2138.9L680.7 2154.1Z" fill="#fff"/><path d="M714.2 2202.6L757.8 2174.2" stroke="#f5e924"/><path d="M714.2 2202.6L680.7 2154.1" stroke="#f5e924"/><path d="M757.8 2174.2L724.3 2138.9" stroke="#f6ef20"/><path d="M680.7 2154.1L724.3 2138.9" stroke="#f9fb15"/><path d="M1341.3 2166.6L1385 2152L1351.5 2197.4L1307.8 2194.9Z" fill="#fff"/><path d="M1341.3 2166.6L1385 2152" stroke="#f9fb15"/><path d="M1341.3 2166.6L1307.8 2194.9" stroke="#f9fb15"/><path d="M1385 2152L1351.5 2197.4" stroke="#f9fb15"/><path d="M1307.8 2194.9L1351.5 2197.4" stroke="#f5e924"/><path d="M1066.3 2376.1L1110 2365.8L1076.5 2332.8L1032.8 2345.2Z" fill="#fff"/><path d="M1066.3 2376.1L1110 2365.8" stroke="#b9c431"/><path d="M1066.3 2376.1L1032.8 2345.2" stroke="#b9c431"/><path d="M1110 2365.8L1076.5 2332.8" stroke="#b9c431"/><path d="M1032.8 2345.2L1076.5 2332.8" stroke="#c5c22a"/><path d="M791.3 2265.5L834.9 2250.7L801.4 2169.2L757.8 2174.2Z" fill="#fff"/><path d="M791.3 2265.5L834.9 2250.7" stroke="#fec934"/><path d="M791.3 2265.5L757.8 2174.2" stroke="#fec934"/><path d="M834.9 2250.7L801.4 2169.2" stroke="#fec934"/><path d="M757.8 2174.2L801.4 2169.2" stroke="#f6ef20"/><path d="M1418.5 2173.1L1462.1 2157L1428.6 2137.9L1385 2152Z" fill="#fff"/><path d="M1418.5 2173.1L1462.1 2157" stroke="#f9fb15"/><path d="M1418.5 2173.1L1385 2152" stroke="#f9fb15"/><path d="M1462.1 2157L1428.6 2137.9" stroke="#f9fb15"/><path d="M1385 2152L1428.6 2137.9" stroke="#f9fb15"/><path d="M1143.5 2337L1187.1 2316.5L1153.6 2352.2L1110 2365.8Z" fill="#fff"/><path d="M1143.5 2337L1187.1 2316.5" stroke="#e6bb2d"/><path d="M1143.5 2337L1110 2365.8" stroke="#e6bb2d"/><path d="M1187.1 2316.5L1153.6 2352.2" stroke="#e6bb2d"/><path d="M1110 2365.8L1153.6 2352.2" stroke="#b9c431"/><path d="M868.4 2323.4L912.1 2310.5L878.6 2249.7L834.9 2250.7Z" fill="#fff"/><path d="M868.4 2323.4L912.1 2310.5" stroke="#f0ba36"/><path d="M868.4 2323.4L834.9 2250.7" stroke="#f0ba36"/><path d="M912.1 2310.5L878.6 2249.7" stroke="#f0ba36"/><path d="M834.9 2250.7L878.6 2249.7" stroke="#fec934"/><path d="M593.4 2181.1L637 2165.5L603.5 2141.4L559.9 2154.8Z" fill="#fff"/><path d="M593.4 2181.1L637 2165.5" stroke="#f9fb15"/><path d="M593.4 2181.1L559.9 2154.8" stroke="#f9fb15"/><path d="M637 2165.5L603.5 2141.4" stroke="#f9fb15"/><path d="M559.9 2154.8L603.5 2141.4" stroke="#f9fb15"/><path d="M1220.6 2223.7L1264.2 2213.6L1230.7 2314.4L1187.1 2316.5Z" fill="#fff"/><path d="M1220.6 2223.7L1264.2 2213.6" stroke="#f5e327"/><path d="M1220.6 2223.7L1187.1 2316.5" stroke="#f5e327"/><path d="M1264.2 2213.6L1230.7 2314.4" stroke="#f5e327"/><path d="M1187.1 2316.5L1230.7 2314.4" stroke="#e6bb2d"/><path d="M945.6 2381.5L989.2 2352L955.7 2309.8L912.1 2310.5Z" fill="#fff"/><path d="M945.6 2381.5L989.2 2352" stroke="#b9c431"/><path d="M945.6 2381.5L912.1 2310.5" stroke="#b9c431"/><path d="M989.2 2352L955.7 2309.8" stroke="#d1bf27"/><path d="M912.1 2310.5L955.7 2309.8" stroke="#f0ba36"/><path d="M670.5 2211.1L714.2 2202.6L680.7 2154.1L637 2165.5Z" fill="#fff"/><path d="M670.5 2211.1L714.2 2202.6" stroke="#f6ef20"/><path d="M670.5 2211.1L637 2165.5" stroke="#f6ef20"/><path d="M714.2 2202.6L680.7 2154.1" stroke="#f5e924"/><path d="M637 2165.5L680.7 2154.1" stroke="#f9fb15"/><path d="M1297.7 2182.4L1341.3 2166.6L1307.8 2194.9L1264.2 2213.6Z" fill="#fff"/><path d="M1297.7 2182.4L1341.3 2166.6" stroke="#f9fb15"/><path d="M1297.7 2182.4L1264.2 2213.6" stroke="#f9fb15"/><path d="M1341.3 2166.6L1307.8 2194.9" stroke="#f9fb15"/><path d="M1264.2 2213.6L1307.8 2194.9" stroke="#f5e327"/><path d="M1022.7 2402.6L1066.3 2376.1L1032.8 2345.2L989.2 2352Z" fill="#fff"/><path d="M1022.7 2402.6L1066.3 2376.1" stroke="#abc739"/><path d="M1022.7 2402.6L989.2 2352" stroke="#abc739"/><path d="M1066.3 2376.1L1032.8 2345.2" stroke="#b9c431"/><path d="M989.2 2352L1032.8 2345.2" stroke="#d1bf27"/><path d="M747.7 2280.5L791.3 2265.5L757.8 2174.2L714.2 2202.6Z" fill="#fff"/><path d="M747.7 2280.5L791.3 2265.5" stroke="#fec934"/><path d="M747.7 2280.5L714.2 2202.6" stroke="#fec934"/><path d="M791.3 2265.5L757.8 2174.2" stroke="#fec934"/><path d="M714.2 2202.6L757.8 2174.2" stroke="#f5e924"/><path d="M1374.8 2183.3L1418.5 2173.1L1385 2152L1341.3 2166.6Z" fill="#fff"/><path d="M1374.8 2183.3L1418.5 2173.1" stroke="#f9fb15"/><path d="M1374.8 2183.3L1341.3 2166.6" stroke="#f9fb15"/><path d="M1418.5 2173.1L1385 2152" stroke="#f9fb15"/><path d="M1341.3 2166.6L1385 2152" stroke="#f9fb15"/><path d="M1099.8 2334.9L1143.5 2337L1110 2365.8L1066.3 2376.1Z" fill="#fff"/><path d="M1099.8 2334.9L1143.5 2337" stroke="#f0ba36"/><path d="M1099.8 2334.9L1066.3 2376.1" stroke="#f0ba36"/><path d="M1143.5 2337L1110 2365.8" stroke="#e6bb2d"/><path d="M1066.3 2376.1L1110 2365.8" stroke="#b9c431"/><path d="M824.8 2343L868.4 2323.4L834.9 2250.7L791.3 2265.5Z" fill="#fff"/><path d="M824.8 2343L868.4 2323.4" stroke="#e6bb2d"/><path d="M824.8 2343L791.3 2265.5" stroke="#e6bb2d"/><path d="M868.4 2323.4L834.9 2250.7" stroke="#f0ba36"/><path d="M791.3 2265.5L834.9 2250.7" stroke="#fec934"/><path d="M549.8 2191.3L593.4 2181.1L559.9 2154.8L516.3 2168.3Z" fill="#fff"/><path d="M549.8 2191.3L593.4 2181.1" stroke="#f9fb15"/><path d="M549.8 2191.3L516.3 2168.3" stroke="#f9fb15"/><path d="M593.4 2181.1L559.9 2154.8" stroke="#f9fb15"/><path d="M516.3 2168.3L559.9 2154.8" stroke="#f9fb15"/><path d="M1452 2249.5L1495.6 2234.5L1462.1 2157L1418.5 2173.1Z" fill="#fff"/><path d="M1452 2249.5L1495.6 2234.5" stroke="#f7dc2a"/><path d="M1452 2249.5L1418.5 2173.1" stroke="#f7dc2a"/><path d="M1495.6 2234.5L1462.1 2157" stroke="#f7dc2a"/><path d="M1418.5 2173.1L1462.1 2157" stroke="#f9fb15"/><path d="M1177 2242.5L1220.6 2223.7L1187.1 2316.5L1143.5 2337Z" fill="#fff"/><path d="M1177 2242.5L1220.6 2223.7" stroke="#f5e327"/><path d="M1177 2242.5L1143.5 2337" stroke="#f5e327"/><path d="M1220.6 2223.7L1187.1 2316.5" stroke="#f5e327"/><path d="M1143.5 2337L1187.1 2316.5" stroke="#e6bb2d"/><path d="M901.9 2384.6L945.6 2381.5L912.1 2310.5L868.4 2323.4Z" fill="#fff"/><path d="M901.9 2384.6L945.6 2381.5" stroke="#c5c22a"/><path d="M901.9 2384.6L868.4 2323.4" stroke="#c5c22a"/><path d="M945.6 2381.5L912.1 2310.5" stroke="#b9c431"/><path d="M868.4 2323.4L912.1 2310.5" stroke="#f0ba36"/><path d="M626.9 2239.1L670.5 2211.1L637 2165.5L593.4 2181.1Z" fill="#fff"/><path d="M626.9 2239.1L670.5 2211.1" stroke="#f5e327"/><path d="M626.9 2239.1L593.4 2181.1" stroke="#f5e327"/><path d="M670.5 2211.1L637 2165.5" stroke="#f6ef20"/><path d="M593.4 2181.1L637 2165.5" stroke="#f9fb15"/><path d="M1254.1 2195.1L1297.7 2182.4L1264.2 2213.6L1220.6 2223.7Z" fill="#fff"/><path d="M1254.1 2195.1L1297.7 2182.4" stroke="#f9fb15"/><path d="M1254.1 2195.1L1220.6 2223.7" stroke="#f9fb15"/><path d="M1297.7 2182.4L1264.2 2213.6" stroke="#f9fb15"/><path d="M1220.6 2223.7L1264.2 2213.6" stroke="#f5e327"/><path d="M979.1 2405.5L1022.7 2402.6L989.2 2352L945.6 2381.5Z" fill="#fff"/><path d="M979.1 2405.5L1022.7 2402.6" stroke="#b9c431"/><path d="M979.1 2405.5L945.6 2381.5" stroke="#b9c431"/><path d="M1022.7 2402.6L989.2 2352" stroke="#abc739"/><path d="M945.6 2381.5L989.2 2352" stroke="#b9c431"/><path d="M704 2295.5L747.7 2280.5L714.2 2202.6L670.5 2211.1Z" fill="#fff"/><path d="M704 2295.5L747.7 2280.5" stroke="#fec934"/><path d="M704 2295.5L670.5 2211.1" stroke="#fec934"/><path d="M747.7 2280.5L714.2 2202.6" stroke="#fec934"/><path d="M670.5 2211.1L714.2 2202.6" stroke="#f6ef20"/><path d="M1331.2 2197.6L1374.8 2183.3L1341.3 2166.6L1297.7 2182.4Z" fill="#fff"/><path d="M1331.2 2197.6L1374.8 2183.3" stroke="#f9fb15"/><path d="M1331.2 2197.6L1297.7 2182.4" stroke="#f9fb15"/><path d="M1374.8 2183.3L1341.3 2166.6" stroke="#f9fb15"/><path d="M1297.7 2182.4L1341.3 2166.6" stroke="#f9fb15"/><path d="M1056.2 2369L1099.8 2334.9L1066.3 2376.1L1022.7 2402.6Z" fill="#fff"/><path d="M1056.2 2369L1099.8 2334.9" stroke="#dcbd29"/><path d="M1056.2 2369L1022.7 2402.6" stroke="#dcbd29"/><path d="M1099.8 2334.9L1066.3 2376.1" stroke="#f0ba36"/><path d="M1022.7 2402.6L1066.3 2376.1" stroke="#abc739"/><path d="M781.2 2364.7L824.8 2343L791.3 2265.5L747.7 2280.5Z" fill="#fff"/><path d="M781.2 2364.7L824.8 2343" stroke="#e6bb2d"/><path d="M781.2 2364.7L747.7 2280.5" stroke="#e6bb2d"/><path d="M824.8 2343L791.3 2265.5" stroke="#e6bb2d"/><path d="M747.7 2280.5L791.3 2265.5" stroke="#fec934"/><path d="M506.2 2210.1L549.8 2191.3L516.3 2168.3L472.7 2181.7Z" fill="#fff"/><path d="M506.2 2210.1L549.8 2191.3" stroke="#f9fb15"/><path d="M506.2 2210.1L472.7 2181.7" stroke="#f9fb15"/><path d="M549.8 2191.3L516.3 2168.3" stroke="#f9fb15"/><path d="M472.7 2181.7L516.3 2168.3" stroke="#f9fb15"/><path d="M1408.3 2247.1L1452 2249.5L1418.5 2173.1L1374.8 2183.3Z" fill="#fff"/><path d="M1408.3 2247.1L1452 2249.5" stroke="#f5e924"/><path d="M1408.3 2247.1L1374.8 2183.3" stroke="#f5e924"/><path d="M1452 2249.5L1418.5 2173.1" stroke="#f7dc2a"/><path d="M1374.8 2183.3L1418.5 2173.1" stroke="#f9fb15"/><path d="M1133.3 2254.4L1177 2242.5L1143.5 2337L1099.8 2334.9Z" fill="#fff"/><path d="M1133.3 2254.4L1177 2242.5" stroke="#f5e327"/><path d="M1133.3 2254.4L1099.8 2334.9" stroke="#f5e327"/><path d="M1177 2242.5L1143.5 2337" stroke="#f5e327"/><path d="M1099.8 2334.9L1143.5 2337" stroke="#f0ba36"/><path d="M858.3 2395L901.9 2384.6L868.4 2323.4L824.8 2343Z" fill="#fff"/><path d="M858.3 2395L901.9 2384.6" stroke="#c5c22a"/><path d="M858.3 2395L824.8 2343" stroke="#c5c22a"/><path d="M901.9 2384.6L868.4 2323.4" stroke="#c5c22a"/><path d="M824.8 2343L868.4 2323.4" stroke="#e6bb2d"/><path d="M583.3 2242.6L626.9 2239.1L593.4 2181.1L549.8 2191.3Z" fill="#fff"/><path d="M583.3 2242.6L626.9 2239.1" stroke="#f5e924"/><path d="M583.3 2242.6L549.8 2191.3" stroke="#f5e924"/><path d="M626.9 2239.1L593.4 2181.1" stroke="#f5e327"/><path d="M549.8 2191.3L593.4 2181.1" stroke="#f9fb15"/><path d="M1485.5 2903.5L1529.1 2897.3L1495.6 2234.5L1452 2249.5Z" fill="#fff"/><path d="M1485.5 2903.5L1529.1 2897.3" stroke="#463cde"/><path d="M1485.5 2903.5L1452 2249.5" stroke="#463cde"/><path d="M1529.1 2897.3L1495.6 2234.5" stroke="#463cde"/><path d="M1452 2249.5L1495.6 2234.5" stroke="#f7dc2a"/><path d="M1210.5 2206.7L1254.1 2195.1L1220.6 2223.7L1177 2242.5Z" fill="#fff"/><path d="M1210.5 2206.7L1254.1 2195.1" stroke="#f9fb15"/><path d="M1210.5 2206.7L1177 2242.5" stroke="#f9fb15"/><path d="M1254.1 2195.1L1220.6 2223.7" stroke="#f9fb15"/><path d="M1177 2242.5L1220.6 2223.7" stroke="#f5e327"/><path d="M935.4 2420.4L979.1 2405.5L945.6 2381.5L901.9 2384.6Z" fill="#fff"/><path d="M935.4 2420.4L979.1 2405.5" stroke="#b9c431"/><path d="M935.4 2420.4L901.9 2384.6" stroke="#b9c431"/><path d="M979.1 2405.5L945.6 2381.5" stroke="#b9c431"/><path d="M901.9 2384.6L945.6 2381.5" stroke="#c5c22a"/><path d="M660.4 2309L704 2295.5L670.5 2211.1L626.9 2239.1Z" fill="#fff"/><path d="M660.4 2309L704 2295.5" stroke="#fec934"/><path d="M660.4 2309L626.9 2239.1" stroke="#fec934"/><path d="M704 2295.5L670.5 2211.1" stroke="#fec934"/><path d="M626.9 2239.1L670.5 2211.1" stroke="#f5e327"/><path d="M1287.6 2212.3L1331.2 2197.6L1297.7 2182.4L1254.1 2195.1Z" fill="#fff"/><path d="M1287.6 2212.3L1331.2 2197.6" stroke="#f9fb15"/><path d="M1287.6 2212.3L1254.1 2195.1" stroke="#f9fb15"/><path d="M1331.2 2197.6L1297.7 2182.4" stroke="#f9fb15"/><path d="M1254.1 2195.1L1297.7 2182.4" stroke="#f9fb15"/><path d="M1012.6 2372L1056.2 2369L1022.7 2402.6L979.1 2405.5Z" fill="#fff"/><path d="M1012.6 2372L1056.2 2369" stroke="#e6bb2d"/><path d="M1012.6 2372L979.1 2405.5" stroke="#e6bb2d"/><path d="M1056.2 2369L1022.7 2402.6" stroke="#dcbd29"/><path d="M979.1 2405.5L1022.7 2402.6" stroke="#b9c431"/><path d="M737.5 2363.4L781.2 2364.7L747.7 2280.5L704 2295.5Z" fill="#fff"/><path d="M737.5 2363.4L781.2 2364.7" stroke="#f0ba36"/><path d="M737.5 2363.4L704 2295.5" stroke="#f0ba36"/><path d="M781.2 2364.7L747.7 2280.5" stroke="#e6bb2d"/><path d="M704 2295.5L747.7 2280.5" stroke="#fec934"/><path d="M462.5 2223.4L506.2 2210.1L472.7 2181.7L429 2195.2Z" fill="#fff"/><path d="M462.5 2223.4L506.2 2210.1" stroke="#f9fb15"/><path d="M462.5 2223.4L429 2195.2" stroke="#f9fb15"/><path d="M506.2 2210.1L472.7 2181.7" stroke="#f9fb15"/><path d="M429 2195.2L472.7 2181.7" stroke="#f9fb15"/><path d="M1364.7 2268.2L1408.3 2247.1L1374.8 2183.3L1331.2 2197.6Z" fill="#fff"/><path d="M1364.7 2268.2L1408.3 2247.1" stroke="#f5e327"/><path d="M1364.7 2268.2L1331.2 2197.6" stroke="#f5e327"/><path d="M1408.3 2247.1L1374.8 2183.3" stroke="#f5e924"/><path d="M1331.2 2197.6L1374.8 2183.3" stroke="#f9fb15"/><path d="M1089.7 2274.2L1133.3 2254.4L1099.8 2334.9L1056.2 2369Z" fill="#fff"/><path d="M1089.7 2274.2L1133.3 2254.4" stroke="#f5e327"/><path d="M1089.7 2274.2L1056.2 2369" stroke="#f5e327"/><path d="M1133.3 2254.4L1099.8 2334.9" stroke="#f5e327"/><path d="M1056.2 2369L1099.8 2334.9" stroke="#dcbd29"/><path d="M814.7 2421.6L858.3 2395L824.8 2343L781.2 2364.7Z" fill="#fff"/><path d="M814.7 2421.6L858.3 2395" stroke="#b9c431"/><path d="M814.7 2421.6L781.2 2364.7" stroke="#b9c431"/><path d="M858.3 2395L824.8 2343" stroke="#c5c22a"/><path d="M781.2 2364.7L824.8 2343" stroke="#e6bb2d"/><path d="M539.7 2262.2L583.3 2242.6L549.8 2191.3L506.2 2210.1Z" fill="#fff"/><path d="M539.7 2262.2L583.3 2242.6" stroke="#f5e924"/><path d="M539.7 2262.2L506.2 2210.1" stroke="#f5e924"/><path d="M583.3 2242.6L549.8 2191.3" stroke="#f5e924"/><path d="M506.2 2210.1L549.8 2191.3" stroke="#f9fb15"/><path d="M1441.8 2907L1485.5 2903.5L1452 2249.5L1408.3 2247.1Z" fill="#fff"/><path d="M1441.8 2907L1485.5 2903.5" stroke="#4741e5"/><path d="M1441.8 2907L1408.3 2247.1" stroke="#4741e5"/><path d="M1485.5 2903.5L1452 2249.5" stroke="#463cde"/><path d="M1408.3 2247.1L1452 2249.5" stroke="#f5e924"/><path d="M1166.8 2222.2L1210.5 2206.7L1177 2242.5L1133.3 2254.4Z" fill="#fff"/><path d="M1166.8 2222.2L1210.5 2206.7" stroke="#f9fb15"/><path d="M1166.8 2222.2L1133.3 2254.4" stroke="#f9fb15"/><path d="M1210.5 2206.7L1177 2242.5" stroke="#f9fb15"/><path d="M1133.3 2254.4L1177 2242.5" stroke="#f5e327"/><path d="M891.8 2423.5L935.4 2420.4L901.9 2384.6L858.3 2395Z" fill="#fff"/><path d="M891.8 2423.5L935.4 2420.4" stroke="#c5c22a"/><path d="M891.8 2423.5L858.3 2395" stroke="#c5c22a"/><path d="M935.4 2420.4L901.9 2384.6" stroke="#b9c431"/><path d="M858.3 2395L901.9 2384.6" stroke="#c5c22a"/><path d="M616.8 2315.5L660.4 2309L626.9 2239.1L583.3 2242.6Z" fill="#fff"/><path d="M616.8 2315.5L660.4 2309" stroke="#fccf30"/><path d="M616.8 2315.5L583.3 2242.6" stroke="#fccf30"/><path d="M660.4 2309L626.9 2239.1" stroke="#fec934"/><path d="M583.3 2242.6L626.9 2239.1" stroke="#f5e924"/><path d="M1519 2988.2L1562.6 2972.2L1529.1 2897.3L1485.5 2903.5Z" fill="#fff"/><path d="M1519 2988.2L1562.6 2972.2" stroke="#3e26a8"/><path d="M1519 2988.2L1485.5 2903.5" stroke="#3e26a8"/><path d="M1562.6 2972.2L1529.1 2897.3" stroke="#3e26a8"/><path d="M1485.5 2903.5L1529.1 2897.3" stroke="#463cde"/><path d="M1244 2225.3L1287.6 2212.3L1254.1 2195.1L1210.5 2206.7Z" fill="#fff"/><path d="M1244 2225.3L1287.6 2212.3" stroke="#f9fb15"/><path d="M1244 2225.3L1210.5 2206.7" stroke="#f9fb15"/><path d="M1287.6 2212.3L1254.1 2195.1" stroke="#f9fb15"/><path d="M1210.5 2206.7L1254.1 2195.1" stroke="#f9fb15"/><path d="M968.9 2376L1012.6 2372L979.1 2405.5L935.4 2420.4Z" fill="#fff"/><path d="M968.9 2376L1012.6 2372" stroke="#f0ba36"/><path d="M968.9 2376L935.4 2420.4" stroke="#f0ba36"/><path d="M1012.6 2372L979.1 2405.5" stroke="#e6bb2d"/><path d="M935.4 2420.4L979.1 2405.5" stroke="#b9c431"/><path d="M693.9 2395.3L737.5 2363.4L704 2295.5L660.4 2309Z" fill="#fff"/><path d="M693.9 2395.3L737.5 2363.4" stroke="#dcbd29"/><path d="M693.9 2395.3L660.4 2309" stroke="#dcbd29"/><path d="M737.5 2363.4L704 2295.5" stroke="#f0ba36"/><path d="M660.4 2309L704 2295.5" stroke="#fec934"/><path d="M418.9 2233.8L462.5 2223.4L429 2195.2L385.4 2208.6Z" fill="#fff"/><path d="M418.9 2233.8L462.5 2223.4" stroke="#f9fb15"/><path d="M418.9 2233.8L385.4 2208.6" stroke="#f9fb15"/><path d="M462.5 2223.4L429 2195.2" stroke="#f9fb15"/><path d="M385.4 2208.6L429 2195.2" stroke="#f9fb15"/><path d="M1321.1 2284.2L1364.7 2268.2L1331.2 2197.6L1287.6 2212.3Z" fill="#fff"/><path d="M1321.1 2284.2L1364.7 2268.2" stroke="#f5e327"/><path d="M1321.1 2284.2L1287.6 2212.3" stroke="#f5e327"/><path d="M1364.7 2268.2L1331.2 2197.6" stroke="#f5e327"/><path d="M1287.6 2212.3L1331.2 2197.6" stroke="#f9fb15"/><path d="M1046.1 2289.5L1089.7 2274.2L1056.2 2369L1012.6 2372Z" fill="#fff"/><path d="M1046.1 2289.5L1089.7 2274.2" stroke="#f7dc2a"/><path d="M1046.1 2289.5L1012.6 2372" stroke="#f7dc2a"/><path d="M1089.7 2274.2L1056.2 2369" stroke="#f5e327"/><path d="M1012.6 2372L1056.2 2369" stroke="#e6bb2d"/><path d="M771 2425.1L814.7 2421.6L781.2 2364.7L737.5 2363.4Z" fill="#fff"/><path d="M771 2425.1L814.7 2421.6" stroke="#c5c22a"/><path d="M771 2425.1L737.5 2363.4" stroke="#c5c22a"/><path d="M814.7 2421.6L781.2 2364.7" stroke="#b9c431"/><path d="M737.5 2363.4L781.2 2364.7" stroke="#f0ba36"/><path d="M496 2268.7L539.7 2262.2L506.2 2210.1L462.5 2223.4Z" fill="#fff"/><path d="M496 2268.7L539.7 2262.2" stroke="#f5e924"/><path d="M496 2268.7L462.5 2223.4" stroke="#f5e924"/><path d="M539.7 2262.2L506.2 2210.1" stroke="#f5e924"/><path d="M462.5 2223.4L506.2 2210.1" stroke="#f9fb15"/><path d="M1398.2 2922.7L1441.8 2907L1408.3 2247.1L1364.7 2268.2Z" fill="#fff"/><path d="M1398.2 2922.7L1441.8 2907" stroke="#4741e5"/><path d="M1398.2 2922.7L1364.7 2268.2" stroke="#4741e5"/><path d="M1441.8 2907L1408.3 2247.1" stroke="#4741e5"/><path d="M1364.7 2268.2L1408.3 2247.1" stroke="#f5e327"/><path d="M1123.2 2236.7L1166.8 2222.2L1133.3 2254.4L1089.7 2274.2Z" fill="#fff"/><path d="M1123.2 2236.7L1166.8 2222.2" stroke="#f9fb15"/><path d="M1123.2 2236.7L1089.7 2274.2" stroke="#f9fb15"/><path d="M1166.8 2222.2L1133.3 2254.4" stroke="#f9fb15"/><path d="M1089.7 2274.2L1133.3 2254.4" stroke="#f5e327"/><path d="M848.2 2443.3L891.8 2423.5L858.3 2395L814.7 2421.6Z" fill="#fff"/><path d="M848.2 2443.3L891.8 2423.5" stroke="#b9c431"/><path d="M848.2 2443.3L814.7 2421.6" stroke="#b9c431"/><path d="M891.8 2423.5L858.3 2395" stroke="#c5c22a"/><path d="M814.7 2421.6L858.3 2395" stroke="#b9c431"/><path d="M573.2 2315.4L616.8 2315.5L583.3 2242.6L539.7 2262.2Z" fill="#fff"/><path d="M573.2 2315.4L616.8 2315.5" stroke="#fad62d"/><path d="M573.2 2315.4L539.7 2262.2" stroke="#fad62d"/><path d="M616.8 2315.5L583.3 2242.6" stroke="#fccf30"/><path d="M539.7 2262.2L583.3 2242.6" stroke="#f5e924"/><path d="M1475.3 3002.3L1519 2988.2L1485.5 2903.5L1441.8 2907Z" fill="#fff"/><path d="M1475.3 3002.3L1519 2988.2" stroke="#3e26a8"/><path d="M1475.3 3002.3L1441.8 2907" stroke="#3e26a8"/><path d="M1519 2988.2L1485.5 2903.5" stroke="#3e26a8"/><path d="M1441.8 2907L1485.5 2903.5" stroke="#4741e5"/><path d="M1200.3 2236.4L1244 2225.3L1210.5 2206.7L1166.8 2222.2Z" fill="#fff"/><path d="M1200.3 2236.4L1244 2225.3" stroke="#f9fb15"/><path d="M1200.3 2236.4L1166.8 2222.2" stroke="#f9fb15"/><path d="M1244 2225.3L1210.5 2206.7" stroke="#f9fb15"/><path d="M1166.8 2222.2L1210.5 2206.7" stroke="#f9fb15"/><path d="M925.3 2401.3L968.9 2376L935.4 2420.4L891.8 2423.5Z" fill="#fff"/><path d="M925.3 2401.3L968.9 2376" stroke="#e6bb2d"/><path d="M925.3 2401.3L891.8 2423.5" stroke="#e6bb2d"/><path d="M968.9 2376L935.4 2420.4" stroke="#f0ba36"/><path d="M891.8 2423.5L935.4 2420.4" stroke="#c5c22a"/><path d="M650.3 2393.6L693.9 2395.3L660.4 2309L616.8 2315.5Z" fill="#fff"/><path d="M650.3 2393.6L693.9 2395.3" stroke="#f0ba36"/><path d="M650.3 2393.6L616.8 2315.5" stroke="#f0ba36"/><path d="M693.9 2395.3L660.4 2309" stroke="#dcbd29"/><path d="M616.8 2315.5L660.4 2309" stroke="#fccf30"/><path d="M1552.5 3005.7L1596.1 2991.5L1562.6 2972.2L1519 2988.2Z" fill="#fff"/><path d="M1552.5 3005.7L1596.1 2991.5" stroke="#3e26a8"/><path d="M1552.5 3005.7L1519 2988.2" stroke="#3e26a8"/><path d="M1596.1 2991.5L1562.6 2972.2" stroke="#3e26a8"/><path d="M1519 2988.2L1562.6 2972.2" stroke="#3e26a8"/><path d="M375.3 2249.2L418.9 2233.8L385.4 2208.6L341.8 2222.1Z" fill="#fff"/><path d="M375.3 2249.2L418.9 2233.8" stroke="#f9fb15"/><path d="M375.3 2249.2L341.8 2222.1" stroke="#f9fb15"/><path d="M418.9 2233.8L385.4 2208.6" stroke="#f9fb15"/><path d="M341.8 2222.1L385.4 2208.6" stroke="#f9fb15"/><path d="M1277.5 2297.4L1321.1 2284.2L1287.6 2212.3L1244 2225.3Z" fill="#fff"/><path d="M1277.5 2297.4L1321.1 2284.2" stroke="#f5e327"/><path d="M1277.5 2297.4L1244 2225.3" stroke="#f5e327"/><path d="M1321.1 2284.2L1287.6 2212.3" stroke="#f5e327"/><path d="M1244 2225.3L1287.6 2212.3" stroke="#f9fb15"/><path d="M1002.4 2301L1046.1 2289.5L1012.6 2372L968.9 2376Z" fill="#fff"/><path d="M1002.4 2301L1046.1 2289.5" stroke="#f5e327"/><path d="M1002.4 2301L968.9 2376" stroke="#f5e327"/><path d="M1046.1 2289.5L1012.6 2372" stroke="#f7dc2a"/><path d="M968.9 2376L1012.6 2372" stroke="#f0ba36"/><path d="M727.4 2430.7L771 2425.1L737.5 2363.4L693.9 2395.3Z" fill="#fff"/><path d="M727.4 2430.7L771 2425.1" stroke="#d1bf27"/><path d="M727.4 2430.7L693.9 2395.3" stroke="#d1bf27"/><path d="M771 2425.1L737.5 2363.4" stroke="#c5c22a"/><path d="M693.9 2395.3L737.5 2363.4" stroke="#dcbd29"/><path d="M452.4 2287.2L496 2268.7L462.5 2223.4L418.9 2233.8Z" fill="#fff"/><path d="M452.4 2287.2L496 2268.7" stroke="#f5e924"/><path d="M452.4 2287.2L418.9 2233.8" stroke="#f5e924"/><path d="M496 2268.7L462.5 2223.4" stroke="#f5e924"/><path d="M418.9 2233.8L462.5 2223.4" stroke="#f9fb15"/><path d="M1354.6 2932.3L1398.2 2922.7L1364.7 2268.2L1321.1 2284.2Z" fill="#fff"/><path d="M1354.6 2932.3L1398.2 2922.7" stroke="#4741e5"/><path d="M1354.6 2932.3L1321.1 2284.2" stroke="#4741e5"/><path d="M1398.2 2922.7L1364.7 2268.2" stroke="#4741e5"/><path d="M1321.1 2284.2L1364.7 2268.2" stroke="#f5e327"/><path d="M1079.6 2248L1123.2 2236.7L1089.7 2274.2L1046.1 2289.5Z" fill="#fff"/><path d="M1079.6 2248L1123.2 2236.7" stroke="#f9fb15"/><path d="M1079.6 2248L1046.1 2289.5" stroke="#f9fb15"/><path d="M1123.2 2236.7L1089.7 2274.2" stroke="#f9fb15"/><path d="M1046.1 2289.5L1089.7 2274.2" stroke="#f7dc2a"/><path d="M804.5 2459.6L848.2 2443.3L814.7 2421.6L771 2425.1Z" fill="#fff"/><path d="M804.5 2459.6L848.2 2443.3" stroke="#b9c431"/><path d="M804.5 2459.6L771 2425.1" stroke="#b9c431"/><path d="M848.2 2443.3L814.7 2421.6" stroke="#b9c431"/><path d="M771 2425.1L814.7 2421.6" stroke="#c5c22a"/><path d="M529.5 2347L573.2 2315.4L539.7 2262.2L496 2268.7Z" fill="#fff"/><path d="M529.5 2347L573.2 2315.4" stroke="#fec934"/><path d="M529.5 2347L496 2268.7" stroke="#fec934"/><path d="M573.2 2315.4L539.7 2262.2" stroke="#fad62d"/><path d="M496 2268.7L539.7 2262.2" stroke="#f5e924"/><path d="M1431.7 3015L1475.3 3002.3L1441.8 2907L1398.2 2922.7Z" fill="#fff"/><path d="M1431.7 3015L1475.3 3002.3" stroke="#3e26a8"/><path d="M1431.7 3015L1398.2 2922.7" stroke="#3e26a8"/><path d="M1475.3 3002.3L1441.8 2907" stroke="#3e26a8"/><path d="M1398.2 2922.7L1441.8 2907" stroke="#4741e5"/><path d="M1156.7 2252.9L1200.3 2236.4L1166.8 2222.2L1123.2 2236.7Z" fill="#fff"/><path d="M1156.7 2252.9L1200.3 2236.4" stroke="#f9fb15"/><path d="M1156.7 2252.9L1123.2 2236.7" stroke="#f9fb15"/><path d="M1200.3 2236.4L1166.8 2222.2" stroke="#f9fb15"/><path d="M1123.2 2236.7L1166.8 2222.2" stroke="#f9fb15"/><path d="M881.7 2414.4L925.3 2401.3L891.8 2423.5L848.2 2443.3Z" fill="#fff"/><path d="M881.7 2414.4L925.3 2401.3" stroke="#e6bb2d"/><path d="M881.7 2414.4L848.2 2443.3" stroke="#e6bb2d"/><path d="M925.3 2401.3L891.8 2423.5" stroke="#e6bb2d"/><path d="M848.2 2443.3L891.8 2423.5" stroke="#b9c431"/><path d="M606.7 2404.1L650.3 2393.6L616.8 2315.5L573.2 2315.4Z" fill="#fff"/><path d="M606.7 2404.1L650.3 2393.6" stroke="#f0ba36"/><path d="M606.7 2404.1L573.2 2315.4" stroke="#f0ba36"/><path d="M650.3 2393.6L616.8 2315.5" stroke="#f0ba36"/><path d="M573.2 2315.4L616.8 2315.5" stroke="#fad62d"/><path d="M1508.8 3019.9L1552.5 3005.7L1519 2988.2L1475.3 3002.3Z" fill="#fff"/><path d="M1508.8 3019.9L1552.5 3005.7" stroke="#3e26a8"/><path d="M1508.8 3019.9L1475.3 3002.3" stroke="#3e26a8"/><path d="M1552.5 3005.7L1519 2988.2" stroke="#3e26a8"/><path d="M1475.3 3002.3L1519 2988.2" stroke="#3e26a8"/><path d="M331.6 2261.7L375.3 2249.2L341.8 2222.1L298.1 2235.5Z" fill="#fff"/><path d="M331.6 2261.7L375.3 2249.2" stroke="#f9fb15"/><path d="M331.6 2261.7L298.1 2235.5" stroke="#f9fb15"/><path d="M375.3 2249.2L341.8 2222.1" stroke="#f9fb15"/><path d="M298.1 2235.5L341.8 2222.1" stroke="#f9fb15"/><path d="M1233.8 2316L1277.5 2297.4L1244 2225.3L1200.3 2236.4Z" fill="#fff"/><path d="M1233.8 2316L1277.5 2297.4" stroke="#f7dc2a"/><path d="M1233.8 2316L1200.3 2236.4" stroke="#f7dc2a"/><path d="M1277.5 2297.4L1244 2225.3" stroke="#f5e327"/><path d="M1200.3 2236.4L1244 2225.3" stroke="#f9fb15"/><path d="M958.8 2308L1002.4 2301L968.9 2376L925.3 2401.3Z" fill="#fff"/><path d="M958.8 2308L1002.4 2301" stroke="#f5e327"/><path d="M958.8 2308L925.3 2401.3" stroke="#f5e327"/><path d="M1002.4 2301L968.9 2376" stroke="#f5e327"/><path d="M925.3 2401.3L968.9 2376" stroke="#e6bb2d"/><path d="M683.8 2458.9L727.4 2430.7L693.9 2395.3L650.3 2393.6Z" fill="#fff"/><path d="M683.8 2458.9L727.4 2430.7" stroke="#c5c22a"/><path d="M683.8 2458.9L650.3 2393.6" stroke="#c5c22a"/><path d="M727.4 2430.7L693.9 2395.3" stroke="#d1bf27"/><path d="M650.3 2393.6L693.9 2395.3" stroke="#f0ba36"/><path d="M1586 3022.1L1629.6 3010L1596.1 2991.5L1552.5 3005.7Z" fill="#fff"/><path d="M1586 3022.1L1629.6 3010" stroke="#3e26a8"/><path d="M1586 3022.1L1552.5 3005.7" stroke="#3e26a8"/><path d="M1629.6 3010L1596.1 2991.5" stroke="#3e26a8"/><path d="M1552.5 3005.7L1596.1 2991.5" stroke="#3e26a8"/><path d="M408.8 2292.1L452.4 2287.2L418.9 2233.8L375.3 2249.2Z" fill="#fff"/><path d="M408.8 2292.1L452.4 2287.2" stroke="#f6ef20"/><path d="M408.8 2292.1L375.3 2249.2" stroke="#f6ef20"/><path d="M452.4 2287.2L418.9 2233.8" stroke="#f5e924"/><path d="M375.3 2249.2L418.9 2233.8" stroke="#f9fb15"/><path d="M1311 2948.9L1354.6 2932.3L1321.1 2284.2L1277.5 2297.4Z" fill="#fff"/><path d="M1311 2948.9L1354.6 2932.3" stroke="#4741e5"/><path d="M1311 2948.9L1277.5 2297.4" stroke="#4741e5"/><path d="M1354.6 2932.3L1321.1 2284.2" stroke="#4741e5"/><path d="M1277.5 2297.4L1321.1 2284.2" stroke="#f5e327"/><path d="M1035.9 2263.2L1079.6 2248L1046.1 2289.5L1002.4 2301Z" fill="#fff"/><path d="M1035.9 2263.2L1079.6 2248" stroke="#f9fb15"/><path d="M1035.9 2263.2L1002.4 2301" stroke="#f9fb15"/><path d="M1079.6 2248L1046.1 2289.5" stroke="#f9fb15"/><path d="M1002.4 2301L1046.1 2289.5" stroke="#f5e327"/><path d="M760.9 2470.7L804.5 2459.6L771 2425.1L727.4 2430.7Z" fill="#fff"/><path d="M760.9 2470.7L804.5 2459.6" stroke="#b9c431"/><path d="M760.9 2470.7L727.4 2430.7" stroke="#b9c431"/><path d="M804.5 2459.6L771 2425.1" stroke="#b9c431"/><path d="M727.4 2430.7L771 2425.1" stroke="#d1bf27"/><path d="M485.9 2370L529.5 2347L496 2268.7L452.4 2287.2Z" fill="#fff"/><path d="M485.9 2370L529.5 2347" stroke="#fec338"/><path d="M485.9 2370L452.4 2287.2" stroke="#fec338"/><path d="M529.5 2347L496 2268.7" stroke="#fec934"/><path d="M452.4 2287.2L496 2268.7" stroke="#f5e924"/><path d="M1388.1 3028L1431.7 3015L1398.2 2922.7L1354.6 2932.3Z" fill="#fff"/><path d="M1388.1 3028L1431.7 3015" stroke="#3e26a8"/><path d="M1388.1 3028L1354.6 2932.3" stroke="#3e26a8"/><path d="M1431.7 3015L1398.2 2922.7" stroke="#3e26a8"/><path d="M1354.6 2932.3L1398.2 2922.7" stroke="#4741e5"/><path d="M1113.1 2267L1156.7 2252.9L1123.2 2236.7L1079.6 2248Z" fill="#fff"/><path d="M1113.1 2267L1156.7 2252.9" stroke="#f9fb15"/><path d="M1113.1 2267L1079.6 2248" stroke="#f9fb15"/><path d="M1156.7 2252.9L1123.2 2236.7" stroke="#f9fb15"/><path d="M1079.6 2248L1123.2 2236.7" stroke="#f9fb15"/><path d="M838 2427.9L881.7 2414.4L848.2 2443.3L804.5 2459.6Z" fill="#fff"/><path d="M838 2427.9L881.7 2414.4" stroke="#e6bb2d"/><path d="M838 2427.9L804.5 2459.6" stroke="#e6bb2d"/><path d="M881.7 2414.4L848.2 2443.3" stroke="#e6bb2d"/><path d="M804.5 2459.6L848.2 2443.3" stroke="#b9c431"/><path d="M563 2419.4L606.7 2404.1L573.2 2315.4L529.5 2347Z" fill="#fff"/><path d="M563 2419.4L606.7 2404.1" stroke="#f0ba36"/><path d="M563 2419.4L529.5 2347" stroke="#f0ba36"/><path d="M606.7 2404.1L573.2 2315.4" stroke="#f0ba36"/><path d="M529.5 2347L573.2 2315.4" stroke="#fec934"/><path d="M1465.2 3032.9L1508.8 3019.9L1475.3 3002.3L1431.7 3015Z" fill="#fff"/><path d="M1465.2 3032.9L1508.8 3019.9" stroke="#3e26a8"/><path d="M1465.2 3032.9L1431.7 3015" stroke="#3e26a8"/><path d="M1508.8 3019.9L1475.3 3002.3" stroke="#3e26a8"/><path d="M1431.7 3015L1475.3 3002.3" stroke="#3e26a8"/><path d="M288 2271.2L331.6 2261.7L298.1 2235.5L254.5 2249.8Z" fill="#fff"/><path d="M288 2271.2L331.6 2261.7" stroke="#f9fb15"/><path d="M288 2271.2L254.5 2249.8" stroke="#f9fb15"/><path d="M331.6 2261.7L298.1 2235.5" stroke="#f9fb15"/><path d="M254.5 2249.8L298.1 2235.5" stroke="#f9fb15"/><path d="M1190.2 2316L1233.8 2316L1200.3 2236.4L1156.7 2252.9Z" fill="#fff"/><path d="M1190.2 2316L1233.8 2316" stroke="#f5e327"/><path d="M1190.2 2316L1156.7 2252.9" stroke="#f5e327"/><path d="M1233.8 2316L1200.3 2236.4" stroke="#f7dc2a"/><path d="M1156.7 2252.9L1200.3 2236.4" stroke="#f9fb15"/><path d="M915.2 2316.1L958.8 2308L925.3 2401.3L881.7 2414.4Z" fill="#fff"/><path d="M915.2 2316.1L958.8 2308" stroke="#f5e924"/><path d="M915.2 2316.1L881.7 2414.4" stroke="#f5e924"/><path d="M958.8 2308L925.3 2401.3" stroke="#f5e327"/><path d="M881.7 2414.4L925.3 2401.3" stroke="#e6bb2d"/><path d="M640.2 2456L683.8 2458.9L650.3 2393.6L606.7 2404.1Z" fill="#fff"/><path d="M640.2 2456L683.8 2458.9" stroke="#d1bf27"/><path d="M640.2 2456L606.7 2404.1" stroke="#d1bf27"/><path d="M683.8 2458.9L650.3 2393.6" stroke="#c5c22a"/><path d="M606.7 2404.1L650.3 2393.6" stroke="#f0ba36"/><path d="M1542.3 3035.7L1586 3022.1L1552.5 3005.7L1508.8 3019.9Z" fill="#fff"/><path d="M1542.3 3035.7L1586 3022.1" stroke="#3e26a8"/><path d="M1542.3 3035.7L1508.8 3019.9" stroke="#3e26a8"/><path d="M1586 3022.1L1552.5 3005.7" stroke="#3e26a8"/><path d="M1508.8 3019.9L1552.5 3005.7" stroke="#3e26a8"/><path d="M365.1 2309.1L408.8 2292.1L375.3 2249.2L331.6 2261.7Z" fill="#fff"/><path d="M365.1 2309.1L408.8 2292.1" stroke="#f5e924"/><path d="M365.1 2309.1L331.6 2261.7" stroke="#f5e924"/><path d="M408.8 2292.1L375.3 2249.2" stroke="#f6ef20"/><path d="M331.6 2261.7L375.3 2249.2" stroke="#f9fb15"/><path d="M1267.3 2965.4L1311 2948.9L1277.5 2297.4L1233.8 2316Z" fill="#fff"/><path d="M1267.3 2965.4L1311 2948.9" stroke="#4741e5"/><path d="M1267.3 2965.4L1233.8 2316" stroke="#4741e5"/><path d="M1311 2948.9L1277.5 2297.4" stroke="#4741e5"/><path d="M1233.8 2316L1277.5 2297.4" stroke="#f7dc2a"/><path d="M992.3 2274.5L1035.9 2263.2L1002.4 2301L958.8 2308Z" fill="#fff"/><path d="M992.3 2274.5L1035.9 2263.2" stroke="#f9fb15"/><path d="M992.3 2274.5L958.8 2308" stroke="#f9fb15"/><path d="M1035.9 2263.2L1002.4 2301" stroke="#f9fb15"/><path d="M958.8 2308L1002.4 2301" stroke="#f5e327"/><path d="M717.3 2496.1L760.9 2470.7L727.4 2430.7L683.8 2458.9Z" fill="#fff"/><path d="M717.3 2496.1L760.9 2470.7" stroke="#abc739"/><path d="M717.3 2496.1L683.8 2458.9" stroke="#abc739"/><path d="M760.9 2470.7L727.4 2430.7" stroke="#b9c431"/><path d="M683.8 2458.9L727.4 2430.7" stroke="#c5c22a"/><path d="M1619.5 3040L1663.1 3028.1L1629.6 3010L1586 3022.1Z" fill="#fff"/><path d="M1619.5 3040L1663.1 3028.1" stroke="#3e26a8"/><path d="M1619.5 3040L1586 3022.1" stroke="#3e26a8"/><path d="M1663.1 3028.1L1629.6 3010" stroke="#3e26a8"/><path d="M1586 3022.1L1629.6 3010" stroke="#3e26a8"/><path d="M442.3 2364.7L485.9 2370L452.4 2287.2L408.8 2292.1Z" fill="#fff"/><path d="M442.3 2364.7L485.9 2370" stroke="#fccf30"/><path d="M442.3 2364.7L408.8 2292.1" stroke="#fccf30"/><path d="M485.9 2370L452.4 2287.2" stroke="#fec338"/><path d="M408.8 2292.1L452.4 2287.2" stroke="#f6ef20"/><path d="M1344.5 3042.6L1388.1 3028L1354.6 2932.3L1311 2948.9Z" fill="#fff"/><path d="M1344.5 3042.6L1388.1 3028" stroke="#3e26a8"/><path d="M1344.5 3042.6L1311 2948.9" stroke="#3e26a8"/><path d="M1388.1 3028L1354.6 2932.3" stroke="#3e26a8"/><path d="M1311 2948.9L1354.6 2932.3" stroke="#4741e5"/><path d="M1069.4 2279.5L1113.1 2267L1079.6 2248L1035.9 2263.2Z" fill="#fff"/><path d="M1069.4 2279.5L1113.1 2267" stroke="#f9fb15"/><path d="M1069.4 2279.5L1035.9 2263.2" stroke="#f9fb15"/><path d="M1113.1 2267L1079.6 2248" stroke="#f9fb15"/><path d="M1035.9 2263.2L1079.6 2248" stroke="#f9fb15"/><path d="M794.4 2450.4L838 2427.9L804.5 2459.6L760.9 2470.7Z" fill="#fff"/><path d="M794.4 2450.4L838 2427.9" stroke="#dcbd29"/><path d="M794.4 2450.4L760.9 2470.7" stroke="#dcbd29"/><path d="M838 2427.9L804.5 2459.6" stroke="#e6bb2d"/><path d="M760.9 2470.7L804.5 2459.6" stroke="#b9c431"/><path d="M519.4 2451.8L563 2419.4L529.5 2347L485.9 2370Z" fill="#fff"/><path d="M519.4 2451.8L563 2419.4" stroke="#dcbd29"/><path d="M519.4 2451.8L485.9 2370" stroke="#dcbd29"/><path d="M563 2419.4L529.5 2347" stroke="#f0ba36"/><path d="M485.9 2370L529.5 2347" stroke="#fec338"/><path d="M1421.6 3045.2L1465.2 3032.9L1431.7 3015L1388.1 3028Z" fill="#fff"/><path d="M1421.6 3045.2L1465.2 3032.9" stroke="#3e26a8"/><path d="M1421.6 3045.2L1388.1 3028" stroke="#3e26a8"/><path d="M1465.2 3032.9L1431.7 3015" stroke="#3e26a8"/><path d="M1388.1 3028L1431.7 3015" stroke="#3e26a8"/><path d="M1146.6 2342.6L1190.2 2316L1156.7 2252.9L1113.1 2267Z" fill="#fff"/><path d="M1146.6 2342.6L1190.2 2316" stroke="#f7dc2a"/><path d="M1146.6 2342.6L1113.1 2267" stroke="#f7dc2a"/><path d="M1190.2 2316L1156.7 2252.9" stroke="#f5e327"/><path d="M1113.1 2267L1156.7 2252.9" stroke="#f9fb15"/><path d="M871.5 2332.7L915.2 2316.1L881.7 2414.4L838 2427.9Z" fill="#fff"/><path d="M871.5 2332.7L915.2 2316.1" stroke="#f5e327"/><path d="M871.5 2332.7L838 2427.9" stroke="#f5e327"/><path d="M915.2 2316.1L881.7 2414.4" stroke="#f5e924"/><path d="M838 2427.9L881.7 2414.4" stroke="#e6bb2d"/><path d="M596.5 2467.5L640.2 2456L606.7 2404.1L563 2419.4Z" fill="#fff"/><path d="M596.5 2467.5L640.2 2456" stroke="#d1bf27"/><path d="M596.5 2467.5L563 2419.4" stroke="#d1bf27"/><path d="M640.2 2456L606.7 2404.1" stroke="#d1bf27"/><path d="M563 2419.4L606.7 2404.1" stroke="#f0ba36"/><path d="M1498.7 3051L1542.3 3035.7L1508.8 3019.9L1465.2 3032.9Z" fill="#fff"/><path d="M1498.7 3051L1542.3 3035.7" stroke="#3e26a8"/><path d="M1498.7 3051L1465.2 3032.9" stroke="#3e26a8"/><path d="M1542.3 3035.7L1508.8 3019.9" stroke="#3e26a8"/><path d="M1465.2 3032.9L1508.8 3019.9" stroke="#3e26a8"/><path d="M321.5 2329.5L365.1 2309.1L331.6 2261.7L288 2271.2Z" fill="#fff"/><path d="M321.5 2329.5L365.1 2309.1" stroke="#f5e924"/><path d="M321.5 2329.5L288 2271.2" stroke="#f5e924"/><path d="M365.1 2309.1L331.6 2261.7" stroke="#f5e924"/><path d="M288 2271.2L331.6 2261.7" stroke="#f9fb15"/><path d="M1223.7 2976.5L1267.3 2965.4L1233.8 2316L1190.2 2316Z" fill="#fff"/><path d="M1223.7 2976.5L1267.3 2965.4" stroke="#4741e5"/><path d="M1223.7 2976.5L1190.2 2316" stroke="#4741e5"/><path d="M1267.3 2965.4L1233.8 2316" stroke="#4741e5"/><path d="M1190.2 2316L1233.8 2316" stroke="#f5e327"/><path d="M948.7 2287L992.3 2274.5L958.8 2308L915.2 2316.1Z" fill="#fff"/><path d="M948.7 2287L992.3 2274.5" stroke="#f9fb15"/><path d="M948.7 2287L915.2 2316.1" stroke="#f9fb15"/><path d="M992.3 2274.5L958.8 2308" stroke="#f9fb15"/><path d="M915.2 2316.1L958.8 2308" stroke="#f5e924"/><path d="M673.7 2498.1L717.3 2496.1L683.8 2458.9L640.2 2456Z" fill="#fff"/><path d="M673.7 2498.1L717.3 2496.1" stroke="#b9c431"/><path d="M673.7 2498.1L640.2 2456" stroke="#b9c431"/><path d="M717.3 2496.1L683.8 2458.9" stroke="#abc739"/><path d="M640.2 2456L683.8 2458.9" stroke="#d1bf27"/><path d="M1575.8 3053.5L1619.5 3040L1586 3022.1L1542.3 3035.7Z" fill="#fff"/><path d="M1575.8 3053.5L1619.5 3040" stroke="#3e26a8"/><path d="M1575.8 3053.5L1542.3 3035.7" stroke="#3e26a8"/><path d="M1619.5 3040L1586 3022.1" stroke="#3e26a8"/><path d="M1542.3 3035.7L1586 3022.1" stroke="#3e26a8"/><path d="M398.6 2380.5L442.3 2364.7L408.8 2292.1L365.1 2309.1Z" fill="#fff"/><path d="M398.6 2380.5L442.3 2364.7" stroke="#fccf30"/><path d="M398.6 2380.5L365.1 2309.1" stroke="#fccf30"/><path d="M442.3 2364.7L408.8 2292.1" stroke="#fccf30"/><path d="M365.1 2309.1L408.8 2292.1" stroke="#f5e924"/><path d="M1300.8 3055.3L1344.5 3042.6L1311 2948.9L1267.3 2965.4Z" fill="#fff"/><path d="M1300.8 3055.3L1344.5 3042.6" stroke="#3e26a8"/><path d="M1300.8 3055.3L1267.3 2965.4" stroke="#3e26a8"/><path d="M1344.5 3042.6L1311 2948.9" stroke="#3e26a8"/><path d="M1267.3 2965.4L1311 2948.9" stroke="#4741e5"/><path d="M1025.8 2291.6L1069.4 2279.5L1035.9 2263.2L992.3 2274.5Z" fill="#fff"/><path d="M1025.8 2291.6L1069.4 2279.5" stroke="#f9fb15"/><path d="M1025.8 2291.6L992.3 2274.5" stroke="#f9fb15"/><path d="M1069.4 2279.5L1035.9 2263.2" stroke="#f9fb15"/><path d="M992.3 2274.5L1035.9 2263.2" stroke="#f9fb15"/><path d="M750.8 2460.7L794.4 2450.4L760.9 2470.7L717.3 2496.1Z" fill="#fff"/><path d="M750.8 2460.7L794.4 2450.4" stroke="#dcbd29"/><path d="M750.8 2460.7L717.3 2496.1" stroke="#dcbd29"/><path d="M794.4 2450.4L760.9 2470.7" stroke="#dcbd29"/><path d="M717.3 2496.1L760.9 2470.7" stroke="#abc739"/><path d="M1653 3058.1L1696.6 3044.3L1663.1 3028.1L1619.5 3040Z" fill="#fff"/><path d="M1653 3058.1L1696.6 3044.3" stroke="#3e26a8"/><path d="M1653 3058.1L1619.5 3040" stroke="#3e26a8"/><path d="M1696.6 3044.3L1663.1 3028.1" stroke="#3e26a8"/><path d="M1619.5 3040L1663.1 3028.1" stroke="#3e26a8"/><path d="M475.8 2456.8L519.4 2451.8L485.9 2370L442.3 2364.7Z" fill="#fff"/><path d="M475.8 2456.8L519.4 2451.8" stroke="#e6bb2d"/><path d="M475.8 2456.8L442.3 2364.7" stroke="#e6bb2d"/><path d="M519.4 2451.8L485.9 2370" stroke="#dcbd29"/><path d="M442.3 2364.7L485.9 2370" stroke="#fccf30"/><path d="M1378 3059.2L1421.6 3045.2L1388.1 3028L1344.5 3042.6Z" fill="#fff"/><path d="M1378 3059.2L1421.6 3045.2" stroke="#3e26a8"/><path d="M1378 3059.2L1344.5 3042.6" stroke="#3e26a8"/><path d="M1421.6 3045.2L1388.1 3028" stroke="#3e26a8"/><path d="M1344.5 3042.6L1388.1 3028" stroke="#3e26a8"/><path d="M1102.9 2355.6L1146.6 2342.6L1113.1 2267L1069.4 2279.5Z" fill="#fff"/><path d="M1102.9 2355.6L1146.6 2342.6" stroke="#f7dc2a"/><path d="M1102.9 2355.6L1069.4 2279.5" stroke="#f7dc2a"/><path d="M1146.6 2342.6L1113.1 2267" stroke="#f7dc2a"/><path d="M1069.4 2279.5L1113.1 2267" stroke="#f9fb15"/><path d="M827.9 2346.8L871.5 2332.7L838 2427.9L794.4 2450.4Z" fill="#fff"/><path d="M827.9 2346.8L871.5 2332.7" stroke="#f5e327"/><path d="M827.9 2346.8L794.4 2450.4" stroke="#f5e327"/><path d="M871.5 2332.7L838 2427.9" stroke="#f5e327"/><path d="M794.4 2450.4L838 2427.9" stroke="#dcbd29"/><path d="M552.9 2500.3L596.5 2467.5L563 2419.4L519.4 2451.8Z" fill="#fff"/><path d="M552.9 2500.3L596.5 2467.5" stroke="#c5c22a"/><path d="M552.9 2500.3L519.4 2451.8" stroke="#c5c22a"/><path d="M596.5 2467.5L563 2419.4" stroke="#d1bf27"/><path d="M519.4 2451.8L563 2419.4" stroke="#dcbd29"/><path d="M1455.1 3062.5L1498.7 3051L1465.2 3032.9L1421.6 3045.2Z" fill="#fff"/><path d="M1455.1 3062.5L1498.7 3051" stroke="#3e26a8"/><path d="M1455.1 3062.5L1421.6 3045.2" stroke="#3e26a8"/><path d="M1498.7 3051L1465.2 3032.9" stroke="#3e26a8"/><path d="M1421.6 3045.2L1465.2 3032.9" stroke="#3e26a8"/><path d="M1180.1 2986.9L1223.7 2976.5L1190.2 2316L1146.6 2342.6Z" fill="#fff"/><path d="M1180.1 2986.9L1223.7 2976.5" stroke="#4741e5"/><path d="M1180.1 2986.9L1146.6 2342.6" stroke="#4741e5"/><path d="M1223.7 2976.5L1190.2 2316" stroke="#4741e5"/><path d="M1146.6 2342.6L1190.2 2316" stroke="#f7dc2a"/><path d="M905 2300L948.7 2287L915.2 2316.1L871.5 2332.7Z" fill="#fff"/><path d="M905 2300L948.7 2287" stroke="#f9fb15"/><path d="M905 2300L871.5 2332.7" stroke="#f9fb15"/><path d="M948.7 2287L915.2 2316.1" stroke="#f9fb15"/><path d="M871.5 2332.7L915.2 2316.1" stroke="#f5e327"/><path d="M630 2522.2L673.7 2498.1L640.2 2456L596.5 2467.5Z" fill="#fff"/><path d="M630 2522.2L673.7 2498.1" stroke="#abc739"/><path d="M630 2522.2L596.5 2467.5" stroke="#abc739"/><path d="M673.7 2498.1L640.2 2456" stroke="#b9c431"/><path d="M596.5 2467.5L640.2 2456" stroke="#d1bf27"/><path d="M1532.2 3068.6L1575.8 3053.5L1542.3 3035.7L1498.7 3051Z" fill="#fff"/><path d="M1532.2 3068.6L1575.8 3053.5" stroke="#3e26a8"/><path d="M1532.2 3068.6L1498.7 3051" stroke="#3e26a8"/><path d="M1575.8 3053.5L1542.3 3035.7" stroke="#3e26a8"/><path d="M1498.7 3051L1542.3 3035.7" stroke="#3e26a8"/><path d="M355 2395.4L398.6 2380.5L365.1 2309.1L321.5 2329.5Z" fill="#fff"/><path d="M355 2395.4L398.6 2380.5" stroke="#fccf30"/><path d="M355 2395.4L321.5 2329.5" stroke="#fccf30"/><path d="M398.6 2380.5L365.1 2309.1" stroke="#fccf30"/><path d="M321.5 2329.5L365.1 2309.1" stroke="#f5e924"/><path d="M1257.2 3068.2L1300.8 3055.3L1267.3 2965.4L1223.7 2976.5Z" fill="#fff"/><path d="M1257.2 3068.2L1300.8 3055.3" stroke="#3e26a8"/><path d="M1257.2 3068.2L1223.7 2976.5" stroke="#3e26a8"/><path d="M1300.8 3055.3L1267.3 2965.4" stroke="#3e26a8"/><path d="M1223.7 2976.5L1267.3 2965.4" stroke="#4741e5"/><path d="M982.2 2304.9L1025.8 2291.6L992.3 2274.5L948.7 2287Z" fill="#fff"/><path d="M982.2 2304.9L1025.8 2291.6" stroke="#f9fb15"/><path d="M982.2 2304.9L948.7 2287" stroke="#f9fb15"/><path d="M1025.8 2291.6L992.3 2274.5" stroke="#f9fb15"/><path d="M948.7 2287L992.3 2274.5" stroke="#f9fb15"/><path d="M707.2 2472.9L750.8 2460.7L717.3 2496.1L673.7 2498.1Z" fill="#fff"/><path d="M707.2 2472.9L750.8 2460.7" stroke="#dcbd29"/><path d="M707.2 2472.9L673.7 2498.1" stroke="#dcbd29"/><path d="M750.8 2460.7L717.3 2496.1" stroke="#dcbd29"/><path d="M673.7 2498.1L717.3 2496.1" stroke="#b9c431"/><path d="M1609.3 3072L1653 3058.1L1619.5 3040L1575.8 3053.5Z" fill="#fff"/><path d="M1609.3 3072L1653 3058.1" stroke="#3e26a8"/><path d="M1609.3 3072L1575.8 3053.5" stroke="#3e26a8"/><path d="M1653 3058.1L1619.5 3040" stroke="#3e26a8"/><path d="M1575.8 3053.5L1619.5 3040" stroke="#3e26a8"/><path d="M432.1 2479.5L475.8 2456.8L442.3 2364.7L398.6 2380.5Z" fill="#fff"/><path d="M432.1 2479.5L475.8 2456.8" stroke="#dcbd29"/><path d="M432.1 2479.5L398.6 2380.5" stroke="#dcbd29"/><path d="M475.8 2456.8L442.3 2364.7" stroke="#e6bb2d"/><path d="M398.6 2380.5L442.3 2364.7" stroke="#fccf30"/><path d="M1334.3 3072.9L1378 3059.2L1344.5 3042.6L1300.8 3055.3Z" fill="#fff"/><path d="M1334.3 3072.9L1378 3059.2" stroke="#3e26a8"/><path d="M1334.3 3072.9L1300.8 3055.3" stroke="#3e26a8"/><path d="M1378 3059.2L1344.5 3042.6" stroke="#3e26a8"/><path d="M1300.8 3055.3L1344.5 3042.6" stroke="#3e26a8"/><path d="M1059.3 2366.3L1102.9 2355.6L1069.4 2279.5L1025.8 2291.6Z" fill="#fff"/><path d="M1059.3 2366.3L1102.9 2355.6" stroke="#f5e327"/><path d="M1059.3 2366.3L1025.8 2291.6" stroke="#f5e327"/><path d="M1102.9 2355.6L1069.4 2279.5" stroke="#f7dc2a"/><path d="M1025.8 2291.6L1069.4 2279.5" stroke="#f9fb15"/><path d="M784.3 2361L827.9 2346.8L794.4 2450.4L750.8 2460.7Z" fill="#fff"/><path d="M784.3 2361L827.9 2346.8" stroke="#f5e327"/><path d="M784.3 2361L750.8 2460.7" stroke="#f5e327"/><path d="M827.9 2346.8L794.4 2450.4" stroke="#f5e327"/><path d="M750.8 2460.7L794.4 2450.4" stroke="#dcbd29"/><path d="M1686.5 3076.1L1730.1 3062.9L1696.6 3044.3L1653 3058.1Z" fill="#fff"/><path d="M1686.5 3076.1L1730.1 3062.9" stroke="#3e26a8"/><path d="M1686.5 3076.1L1653 3058.1" stroke="#3e26a8"/><path d="M1730.1 3062.9L1696.6 3044.3" stroke="#3e26a8"/><path d="M1653 3058.1L1696.6 3044.3" stroke="#3e26a8"/><path d="M509.3 2512.2L552.9 2500.3L519.4 2451.8L475.8 2456.8Z" fill="#fff"/><path d="M509.3 2512.2L552.9 2500.3" stroke="#c5c22a"/><path d="M509.3 2512.2L475.8 2456.8" stroke="#c5c22a"/><path d="M552.9 2500.3L519.4 2451.8" stroke="#c5c22a"/><path d="M475.8 2456.8L519.4 2451.8" stroke="#e6bb2d"/><path d="M1411.5 3077.9L1455.1 3062.5L1421.6 3045.2L1378 3059.2Z" fill="#fff"/><path d="M1411.5 3077.9L1455.1 3062.5" stroke="#3e26a8"/><path d="M1411.5 3077.9L1378 3059.2" stroke="#3e26a8"/><path d="M1455.1 3062.5L1421.6 3045.2" stroke="#3e26a8"/><path d="M1378 3059.2L1421.6 3045.2" stroke="#3e26a8"/><path d="M1136.4 3002.7L1180.1 2986.9L1146.6 2342.6L1102.9 2355.6Z" fill="#fff"/><path d="M1136.4 3002.7L1180.1 2986.9" stroke="#4741e5"/><path d="M1136.4 3002.7L1102.9 2355.6" stroke="#4741e5"/><path d="M1180.1 2986.9L1146.6 2342.6" stroke="#4741e5"/><path d="M1102.9 2355.6L1146.6 2342.6" stroke="#f7dc2a"/><path d="M861.4 2315.5L905 2300L871.5 2332.7L827.9 2346.8Z" fill="#fff"/><path d="M861.4 2315.5L905 2300" stroke="#f9fb15"/><path d="M861.4 2315.5L827.9 2346.8" stroke="#f9fb15"/><path d="M905 2300L871.5 2332.7" stroke="#f9fb15"/><path d="M827.9 2346.8L871.5 2332.7" stroke="#f5e327"/><path d="M586.4 2541.5L630 2522.2L596.5 2467.5L552.9 2500.3Z" fill="#fff"/><path d="M586.4 2541.5L630 2522.2" stroke="#abc739"/><path d="M586.4 2541.5L552.9 2500.3" stroke="#abc739"/><path d="M630 2522.2L596.5 2467.5" stroke="#abc739"/><path d="M552.9 2500.3L596.5 2467.5" stroke="#c5c22a"/><path d="M1488.6 3081.9L1532.2 3068.6L1498.7 3051L1455.1 3062.5Z" fill="#fff"/><path d="M1488.6 3081.9L1532.2 3068.6" stroke="#3e26a8"/><path d="M1488.6 3081.9L1455.1 3062.5" stroke="#3e26a8"/><path d="M1532.2 3068.6L1498.7 3051" stroke="#3e26a8"/><path d="M1455.1 3062.5L1498.7 3051" stroke="#3e26a8"/><path d="M1213.6 3081.1L1257.2 3068.2L1223.7 2976.5L1180.1 2986.9Z" fill="#fff"/><path d="M1213.6 3081.1L1257.2 3068.2" stroke="#3e26a8"/><path d="M1213.6 3081.1L1180.1 2986.9" stroke="#3e26a8"/><path d="M1257.2 3068.2L1223.7 2976.5" stroke="#3e26a8"/><path d="M1180.1 2986.9L1223.7 2976.5" stroke="#4741e5"/><path d="M938.5 2318.3L982.2 2304.9L948.7 2287L905 2300Z" fill="#fff"/><path d="M938.5 2318.3L982.2 2304.9" stroke="#f9fb15"/><path d="M938.5 2318.3L905 2300" stroke="#f9fb15"/><path d="M982.2 2304.9L948.7 2287" stroke="#f9fb15"/><path d="M905 2300L948.7 2287" stroke="#f9fb15"/><path d="M663.5 2469.8L707.2 2472.9L673.7 2498.1L630 2522.2Z" fill="#fff"/><path d="M663.5 2469.8L707.2 2472.9" stroke="#f0ba36"/><path d="M663.5 2469.8L630 2522.2" stroke="#f0ba36"/><path d="M707.2 2472.9L673.7 2498.1" stroke="#dcbd29"/><path d="M630 2522.2L673.7 2498.1" stroke="#abc739"/><path d="M1565.7 3084.2L1609.3 3072L1575.8 3053.5L1532.2 3068.6Z" fill="#fff"/><path d="M1565.7 3084.2L1609.3 3072" stroke="#3e26a8"/><path d="M1565.7 3084.2L1532.2 3068.6" stroke="#3e26a8"/><path d="M1609.3 3072L1575.8 3053.5" stroke="#3e26a8"/><path d="M1532.2 3068.6L1575.8 3053.5" stroke="#3e26a8"/><path d="M388.5 2477.6L432.1 2479.5L398.6 2380.5L355 2395.4Z" fill="#fff"/><path d="M388.5 2477.6L432.1 2479.5" stroke="#e6bb2d"/><path d="M388.5 2477.6L355 2395.4" stroke="#e6bb2d"/><path d="M432.1 2479.5L398.6 2380.5" stroke="#dcbd29"/><path d="M355 2395.4L398.6 2380.5" stroke="#fccf30"/><path d="M1290.7 3086.7L1334.3 3072.9L1300.8 3055.3L1257.2 3068.2Z" fill="#fff"/><path d="M1290.7 3086.7L1334.3 3072.9" stroke="#3e26a8"/><path d="M1290.7 3086.7L1257.2 3068.2" stroke="#3e26a8"/><path d="M1334.3 3072.9L1300.8 3055.3" stroke="#3e26a8"/><path d="M1257.2 3068.2L1300.8 3055.3" stroke="#3e26a8"/><path d="M1015.7 2390.2L1059.3 2366.3L1025.8 2291.6L982.2 2304.9Z" fill="#fff"/><path d="M1015.7 2390.2L1059.3 2366.3" stroke="#f7dc2a"/><path d="M1015.7 2390.2L982.2 2304.9" stroke="#f7dc2a"/><path d="M1059.3 2366.3L1025.8 2291.6" stroke="#f5e327"/><path d="M982.2 2304.9L1025.8 2291.6" stroke="#f9fb15"/><path d="M740.7 2387.1L784.3 2361L750.8 2460.7L707.2 2472.9Z" fill="#fff"/><path d="M740.7 2387.1L784.3 2361" stroke="#f7dc2a"/><path d="M740.7 2387.1L707.2 2472.9" stroke="#f7dc2a"/><path d="M784.3 2361L750.8 2460.7" stroke="#f5e327"/><path d="M707.2 2472.9L750.8 2460.7" stroke="#dcbd29"/><path d="M1642.8 3089.9L1686.5 3076.1L1653 3058.1L1609.3 3072Z" fill="#fff"/><path d="M1642.8 3089.9L1686.5 3076.1" stroke="#3e26a8"/><path d="M1642.8 3089.9L1609.3 3072" stroke="#3e26a8"/><path d="M1686.5 3076.1L1653 3058.1" stroke="#3e26a8"/><path d="M1609.3 3072L1653 3058.1" stroke="#3e26a8"/><path d="M465.6 2514L509.3 2512.2L475.8 2456.8L432.1 2479.5Z" fill="#fff"/><path d="M465.6 2514L509.3 2512.2" stroke="#d1bf27"/><path d="M465.6 2514L432.1 2479.5" stroke="#d1bf27"/><path d="M509.3 2512.2L475.8 2456.8" stroke="#c5c22a"/><path d="M432.1 2479.5L475.8 2456.8" stroke="#dcbd29"/><path d="M1367.8 3089.4L1411.5 3077.9L1378 3059.2L1334.3 3072.9Z" fill="#fff"/><path d="M1367.8 3089.4L1411.5 3077.9" stroke="#3e26a8"/><path d="M1367.8 3089.4L1334.3 3072.9" stroke="#3e26a8"/><path d="M1411.5 3077.9L1378 3059.2" stroke="#3e26a8"/><path d="M1334.3 3072.9L1378 3059.2" stroke="#3e26a8"/><path d="M1092.8 3018.4L1136.4 3002.7L1102.9 2355.6L1059.3 2366.3Z" fill="#fff"/><path d="M1092.8 3018.4L1136.4 3002.7" stroke="#4741e5"/><path d="M1092.8 3018.4L1059.3 2366.3" stroke="#4741e5"/><path d="M1136.4 3002.7L1102.9 2355.6" stroke="#4741e5"/><path d="M1059.3 2366.3L1102.9 2355.6" stroke="#f5e327"/><path d="M817.8 2328.5L861.4 2315.5L827.9 2346.8L784.3 2361Z" fill="#fff"/><path d="M817.8 2328.5L861.4 2315.5" stroke="#f9fb15"/><path d="M817.8 2328.5L784.3 2361" stroke="#f9fb15"/><path d="M861.4 2315.5L827.9 2346.8" stroke="#f9fb15"/><path d="M784.3 2361L827.9 2346.8" stroke="#f5e327"/><path d="M1720 3092.2L1763.6 3080.8L1730.1 3062.9L1686.5 3076.1Z" fill="#fff"/><path d="M1720 3092.2L1763.6 3080.8" stroke="#3e26a8"/><path d="M1720 3092.2L1686.5 3076.1" stroke="#3e26a8"/><path d="M1763.6 3080.8L1730.1 3062.9" stroke="#3e26a8"/><path d="M1686.5 3076.1L1730.1 3062.9" stroke="#3e26a8"/><path d="M542.8 2548L586.4 2541.5L552.9 2500.3L509.3 2512.2Z" fill="#fff"/><path d="M542.8 2548L586.4 2541.5" stroke="#abc739"/><path d="M542.8 2548L509.3 2512.2" stroke="#abc739"/><path d="M586.4 2541.5L552.9 2500.3" stroke="#abc739"/><path d="M509.3 2512.2L552.9 2500.3" stroke="#c5c22a"/><path d="M1445 3095.1L1488.6 3081.9L1455.1 3062.5L1411.5 3077.9Z" fill="#fff"/><path d="M1445 3095.1L1488.6 3081.9" stroke="#3e26a8"/><path d="M1445 3095.1L1411.5 3077.9" stroke="#3e26a8"/><path d="M1488.6 3081.9L1455.1 3062.5" stroke="#3e26a8"/><path d="M1411.5 3077.9L1455.1 3062.5" stroke="#3e26a8"/><path d="M1169.9 3096.3L1213.6 3081.1L1180.1 2986.9L1136.4 3002.7Z" fill="#fff"/><path d="M1169.9 3096.3L1213.6 3081.1" stroke="#3e26a8"/><path d="M1169.9 3096.3L1136.4 3002.7" stroke="#3e26a8"/><path d="M1213.6 3081.1L1180.1 2986.9" stroke="#3e26a8"/><path d="M1136.4 3002.7L1180.1 2986.9" stroke="#4741e5"/><path d="M894.9 2332.7L938.5 2318.3L905 2300L861.4 2315.5Z" fill="#fff"/><path d="M894.9 2332.7L938.5 2318.3" stroke="#f9fb15"/><path d="M894.9 2332.7L861.4 2315.5" stroke="#f9fb15"/><path d="M938.5 2318.3L905 2300" stroke="#f9fb15"/><path d="M861.4 2315.5L905 2300" stroke="#f9fb15"/><path d="M619.9 2487.6L663.5 2469.8L630 2522.2L586.4 2541.5Z" fill="#fff"/><path d="M619.9 2487.6L663.5 2469.8" stroke="#f0ba36"/><path d="M619.9 2487.6L586.4 2541.5" stroke="#f0ba36"/><path d="M663.5 2469.8L630 2522.2" stroke="#f0ba36"/><path d="M586.4 2541.5L630 2522.2" stroke="#abc739"/><path d="M1522.1 3099.1L1565.7 3084.2L1532.2 3068.6L1488.6 3081.9Z" fill="#fff"/><path d="M1522.1 3099.1L1565.7 3084.2" stroke="#3e26a8"/><path d="M1522.1 3099.1L1488.6 3081.9" stroke="#3e26a8"/><path d="M1565.7 3084.2L1532.2 3068.6" stroke="#3e26a8"/><path d="M1488.6 3081.9L1532.2 3068.6" stroke="#3e26a8"/><path d="M1247.1 3100.7L1290.7 3086.7L1257.2 3068.2L1213.6 3081.1Z" fill="#fff"/><path d="M1247.1 3100.7L1290.7 3086.7" stroke="#3e26a8"/><path d="M1247.1 3100.7L1213.6 3081.1" stroke="#3e26a8"/><path d="M1290.7 3086.7L1257.2 3068.2" stroke="#3e26a8"/><path d="M1213.6 3081.1L1257.2 3068.2" stroke="#3e26a8"/><path d="M972 2390.2L1015.7 2390.2L982.2 2304.9L938.5 2318.3Z" fill="#fff"/><path d="M972 2390.2L1015.7 2390.2" stroke="#f5e327"/><path d="M972 2390.2L938.5 2318.3" stroke="#f5e327"/><path d="M1015.7 2390.2L982.2 2304.9" stroke="#f7dc2a"/><path d="M938.5 2318.3L982.2 2304.9" stroke="#f9fb15"/><path d="M697 2393.7L740.7 2387.1L707.2 2472.9L663.5 2469.8Z" fill="#fff"/><path d="M697 2393.7L740.7 2387.1" stroke="#f5e327"/><path d="M697 2393.7L663.5 2469.8" stroke="#f5e327"/><path d="M740.7 2387.1L707.2 2472.9" stroke="#f7dc2a"/><path d="M663.5 2469.8L707.2 2472.9" stroke="#f0ba36"/><path d="M1599.2 3101.7L1642.8 3089.9L1609.3 3072L1565.7 3084.2Z" fill="#fff"/><path d="M1599.2 3101.7L1642.8 3089.9" stroke="#3e26a8"/><path d="M1599.2 3101.7L1565.7 3084.2" stroke="#3e26a8"/><path d="M1642.8 3089.9L1609.3 3072" stroke="#3e26a8"/><path d="M1565.7 3084.2L1609.3 3072" stroke="#3e26a8"/><path d="M422 2546.6L465.6 2514L432.1 2479.5L388.5 2477.6Z" fill="#fff"/><path d="M422 2546.6L465.6 2514" stroke="#b9c431"/><path d="M422 2546.6L388.5 2477.6" stroke="#b9c431"/><path d="M465.6 2514L432.1 2479.5" stroke="#d1bf27"/><path d="M388.5 2477.6L432.1 2479.5" stroke="#e6bb2d"/><path d="M1324.2 3103.6L1367.8 3089.4L1334.3 3072.9L1290.7 3086.7Z" fill="#fff"/><path d="M1324.2 3103.6L1367.8 3089.4" stroke="#3e26a8"/><path d="M1324.2 3103.6L1290.7 3086.7" stroke="#3e26a8"/><path d="M1367.8 3089.4L1334.3 3072.9" stroke="#3e26a8"/><path d="M1290.7 3086.7L1334.3 3072.9" stroke="#3e26a8"/><path d="M1049.2 3030.4L1092.8 3018.4L1059.3 2366.3L1015.7 2390.2Z" fill="#fff"/><path d="M1049.2 3030.4L1092.8 3018.4" stroke="#4741e5"/><path d="M1049.2 3030.4L1015.7 2390.2" stroke="#4741e5"/><path d="M1092.8 3018.4L1059.3 2366.3" stroke="#4741e5"/><path d="M1015.7 2390.2L1059.3 2366.3" stroke="#f7dc2a"/><path d="M774.2 2341.2L817.8 2328.5L784.3 2361L740.7 2387.1Z" fill="#fff"/><path d="M774.2 2341.2L817.8 2328.5" stroke="#f9fb15"/><path d="M774.2 2341.2L740.7 2387.1" stroke="#f9fb15"/><path d="M817.8 2328.5L784.3 2361" stroke="#f9fb15"/><path d="M740.7 2387.1L784.3 2361" stroke="#f7dc2a"/><path d="M1676.3 3106.8L1720 3092.2L1686.5 3076.1L1642.8 3089.9Z" fill="#fff"/><path d="M1676.3 3106.8L1720 3092.2" stroke="#3e26a8"/><path d="M1676.3 3106.8L1642.8 3089.9" stroke="#3e26a8"/><path d="M1720 3092.2L1686.5 3076.1" stroke="#3e26a8"/><path d="M1642.8 3089.9L1686.5 3076.1" stroke="#3e26a8"/><path d="M499.1 2558.4L542.8 2548L509.3 2512.2L465.6 2514Z" fill="#fff"/><path d="M499.1 2558.4L542.8 2548" stroke="#abc739"/><path d="M499.1 2558.4L465.6 2514" stroke="#abc739"/><path d="M542.8 2548L509.3 2512.2" stroke="#abc739"/><path d="M465.6 2514L509.3 2512.2" stroke="#d1bf27"/><path d="M1401.3 3108.9L1445 3095.1L1411.5 3077.9L1367.8 3089.4Z" fill="#fff"/><path d="M1401.3 3108.9L1445 3095.1" stroke="#3e26a8"/><path d="M1401.3 3108.9L1367.8 3089.4" stroke="#3e26a8"/><path d="M1445 3095.1L1411.5 3077.9" stroke="#3e26a8"/><path d="M1367.8 3089.4L1411.5 3077.9" stroke="#3e26a8"/><path d="M1126.3 3109.4L1169.9 3096.3L1136.4 3002.7L1092.8 3018.4Z" fill="#fff"/><path d="M1126.3 3109.4L1169.9 3096.3" stroke="#3e26a8"/><path d="M1126.3 3109.4L1092.8 3018.4" stroke="#3e26a8"/><path d="M1169.9 3096.3L1136.4 3002.7" stroke="#3e26a8"/><path d="M1092.8 3018.4L1136.4 3002.7" stroke="#4741e5"/><path d="M851.3 2345.9L894.9 2332.7L861.4 2315.5L817.8 2328.5Z" fill="#fff"/><path d="M851.3 2345.9L894.9 2332.7" stroke="#f9fb15"/><path d="M851.3 2345.9L817.8 2328.5" stroke="#f9fb15"/><path d="M894.9 2332.7L861.4 2315.5" stroke="#f9fb15"/><path d="M817.8 2328.5L861.4 2315.5" stroke="#f9fb15"/><path d="M1753.5 3110.5L1797.1 3096.8L1763.6 3080.8L1720 3092.2Z" fill="#fff"/><path d="M1753.5 3110.5L1797.1 3096.8" stroke="#3e26a8"/><path d="M1753.5 3110.5L1720 3092.2" stroke="#3e26a8"/><path d="M1797.1 3096.8L1763.6 3080.8" stroke="#3e26a8"/><path d="M1720 3092.2L1763.6 3080.8" stroke="#3e26a8"/><path d="M576.3 2511.8L619.9 2487.6L586.4 2541.5L542.8 2548Z" fill="#fff"/><path d="M576.3 2511.8L619.9 2487.6" stroke="#e6bb2d"/><path d="M576.3 2511.8L542.8 2548" stroke="#e6bb2d"/><path d="M619.9 2487.6L586.4 2541.5" stroke="#f0ba36"/><path d="M542.8 2548L586.4 2541.5" stroke="#abc739"/><path d="M1478.5 3112.1L1522.1 3099.1L1488.6 3081.9L1445 3095.1Z" fill="#fff"/><path d="M1478.5 3112.1L1522.1 3099.1" stroke="#3e26a8"/><path d="M1478.5 3112.1L1445 3095.1" stroke="#3e26a8"/><path d="M1522.1 3099.1L1488.6 3081.9" stroke="#3e26a8"/><path d="M1445 3095.1L1488.6 3081.9" stroke="#3e26a8"/><path d="M1203.4 3114.2L1247.1 3100.7L1213.6 3081.1L1169.9 3096.3Z" fill="#fff"/><path d="M1203.4 3114.2L1247.1 3100.7" stroke="#3e26a8"/><path d="M1203.4 3114.2L1169.9 3096.3" stroke="#3e26a8"/><path d="M1247.1 3100.7L1213.6 3081.1" stroke="#3e26a8"/><path d="M1169.9 3096.3L1213.6 3081.1" stroke="#3e26a8"/><path d="M928.4 2408.7L972 2390.2L938.5 2318.3L894.9 2332.7Z" fill="#fff"/><path d="M928.4 2408.7L972 2390.2" stroke="#f7dc2a"/><path d="M928.4 2408.7L894.9 2332.7" stroke="#f7dc2a"/><path d="M972 2390.2L938.5 2318.3" stroke="#f5e327"/><path d="M894.9 2332.7L938.5 2318.3" stroke="#f9fb15"/><path d="M653.4 2405.8L697 2393.7L663.5 2469.8L619.9 2487.6Z" fill="#fff"/><path d="M653.4 2405.8L697 2393.7" stroke="#f5e327"/><path d="M653.4 2405.8L619.9 2487.6" stroke="#f5e327"/><path d="M697 2393.7L663.5 2469.8" stroke="#f5e327"/><path d="M619.9 2487.6L663.5 2469.8" stroke="#f0ba36"/><path d="M1555.6 3115.6L1599.2 3101.7L1565.7 3084.2L1522.1 3099.1Z" fill="#fff"/><path d="M1555.6 3115.6L1599.2 3101.7" stroke="#3e26a8"/><path d="M1555.6 3115.6L1522.1 3099.1" stroke="#3e26a8"/><path d="M1599.2 3101.7L1565.7 3084.2" stroke="#3e26a8"/><path d="M1522.1 3099.1L1565.7 3084.2" stroke="#3e26a8"/><path d="M1280.6 3116.6L1324.2 3103.6L1290.7 3086.7L1247.1 3100.7Z" fill="#fff"/><path d="M1280.6 3116.6L1324.2 3103.6" stroke="#3e26a8"/><path d="M1280.6 3116.6L1247.1 3100.7" stroke="#3e26a8"/><path d="M1324.2 3103.6L1290.7 3086.7" stroke="#3e26a8"/><path d="M1247.1 3100.7L1290.7 3086.7" stroke="#3e26a8"/><path d="M1005.5 3040L1049.2 3030.4L1015.7 2390.2L972 2390.2Z" fill="#fff"/><path d="M1005.5 3040L1049.2 3030.4" stroke="#4741e5"/><path d="M1005.5 3040L972 2390.2" stroke="#4741e5"/><path d="M1049.2 3030.4L1015.7 2390.2" stroke="#4741e5"/><path d="M972 2390.2L1015.7 2390.2" stroke="#f5e327"/><path d="M730.5 2356.4L774.2 2341.2L740.7 2387.1L697 2393.7Z" fill="#fff"/><path d="M730.5 2356.4L774.2 2341.2" stroke="#f9fb15"/><path d="M730.5 2356.4L697 2393.7" stroke="#f9fb15"/><path d="M774.2 2341.2L740.7 2387.1" stroke="#f9fb15"/><path d="M697 2393.7L740.7 2387.1" stroke="#f5e327"/><path d="M1632.7 3119.1L1676.3 3106.8L1642.8 3089.9L1599.2 3101.7Z" fill="#fff"/><path d="M1632.7 3119.1L1676.3 3106.8" stroke="#3e26a8"/><path d="M1632.7 3119.1L1599.2 3101.7" stroke="#3e26a8"/><path d="M1676.3 3106.8L1642.8 3089.9" stroke="#3e26a8"/><path d="M1599.2 3101.7L1642.8 3089.9" stroke="#3e26a8"/><path d="M455.5 2578L499.1 2558.4L465.6 2514L422 2546.6Z" fill="#fff"/><path d="M455.5 2578L499.1 2558.4" stroke="#abc739"/><path d="M455.5 2578L422 2546.6" stroke="#abc739"/><path d="M499.1 2558.4L465.6 2514" stroke="#abc739"/><path d="M422 2546.6L465.6 2514" stroke="#b9c431"/><path d="M1357.7 3121L1401.3 3108.9L1367.8 3089.4L1324.2 3103.6Z" fill="#fff"/><path d="M1357.7 3121L1401.3 3108.9" stroke="#3e26a8"/><path d="M1357.7 3121L1324.2 3103.6" stroke="#3e26a8"/><path d="M1401.3 3108.9L1367.8 3089.4" stroke="#3e26a8"/><path d="M1324.2 3103.6L1367.8 3089.4" stroke="#3e26a8"/><path d="M1082.7 3121.6L1126.3 3109.4L1092.8 3018.4L1049.2 3030.4Z" fill="#fff"/><path d="M1082.7 3121.6L1126.3 3109.4" stroke="#3e26a8"/><path d="M1082.7 3121.6L1049.2 3030.4" stroke="#3e26a8"/><path d="M1126.3 3109.4L1092.8 3018.4" stroke="#3e26a8"/><path d="M1049.2 3030.4L1092.8 3018.4" stroke="#4741e5"/><path d="M807.7 2360.1L851.3 2345.9L817.8 2328.5L774.2 2341.2Z" fill="#fff"/><path d="M807.7 2360.1L851.3 2345.9" stroke="#f9fb15"/><path d="M807.7 2360.1L774.2 2341.2" stroke="#f9fb15"/><path d="M851.3 2345.9L817.8 2328.5" stroke="#f9fb15"/><path d="M774.2 2341.2L817.8 2328.5" stroke="#f9fb15"/><path d="M1709.8 3124.6L1753.5 3110.5L1720 3092.2L1676.3 3106.8Z" fill="#fff"/><path d="M1709.8 3124.6L1753.5 3110.5" stroke="#3e26a8"/><path d="M1709.8 3124.6L1676.3 3106.8" stroke="#3e26a8"/><path d="M1753.5 3110.5L1720 3092.2" stroke="#3e26a8"/><path d="M1676.3 3106.8L1720 3092.2" stroke="#3e26a8"/><path d="M532.6 2524.5L576.3 2511.8L542.8 2548L499.1 2558.4Z" fill="#fff"/><path d="M532.6 2524.5L576.3 2511.8" stroke="#e6bb2d"/><path d="M532.6 2524.5L499.1 2558.4" stroke="#e6bb2d"/><path d="M576.3 2511.8L542.8 2548" stroke="#e6bb2d"/><path d="M499.1 2558.4L542.8 2548" stroke="#abc739"/><path d="M1434.8 3124.4L1478.5 3112.1L1445 3095.1L1401.3 3108.9Z" fill="#fff"/><path d="M1434.8 3124.4L1478.5 3112.1" stroke="#3e26a8"/><path d="M1434.8 3124.4L1401.3 3108.9" stroke="#3e26a8"/><path d="M1478.5 3112.1L1445 3095.1" stroke="#3e26a8"/><path d="M1401.3 3108.9L1445 3095.1" stroke="#3e26a8"/><path d="M1159.8 3126.2L1203.4 3114.2L1169.9 3096.3L1126.3 3109.4Z" fill="#fff"/><path d="M1159.8 3126.2L1203.4 3114.2" stroke="#3e26a8"/><path d="M1159.8 3126.2L1126.3 3109.4" stroke="#3e26a8"/><path d="M1203.4 3114.2L1169.9 3096.3" stroke="#3e26a8"/><path d="M1126.3 3109.4L1169.9 3096.3" stroke="#3e26a8"/><path d="M884.8 2414.5L928.4 2408.7L894.9 2332.7L851.3 2345.9Z" fill="#fff"/><path d="M884.8 2414.5L928.4 2408.7" stroke="#f5e327"/><path d="M884.8 2414.5L851.3 2345.9" stroke="#f5e327"/><path d="M928.4 2408.7L894.9 2332.7" stroke="#f7dc2a"/><path d="M851.3 2345.9L894.9 2332.7" stroke="#f9fb15"/><path d="M609.8 2409.9L653.4 2405.8L619.9 2487.6L576.3 2511.8Z" fill="#fff"/><path d="M609.8 2409.9L653.4 2405.8" stroke="#f5e924"/><path d="M609.8 2409.9L576.3 2511.8" stroke="#f5e924"/><path d="M653.4 2405.8L619.9 2487.6" stroke="#f5e327"/><path d="M576.3 2511.8L619.9 2487.6" stroke="#e6bb2d"/><path d="M1512 3129.3L1555.6 3115.6L1522.1 3099.1L1478.5 3112.1Z" fill="#fff"/><path d="M1512 3129.3L1555.6 3115.6" stroke="#3e26a8"/><path d="M1512 3129.3L1478.5 3112.1" stroke="#3e26a8"/><path d="M1555.6 3115.6L1522.1 3099.1" stroke="#3e26a8"/><path d="M1478.5 3112.1L1522.1 3099.1" stroke="#3e26a8"/><path d="M1236.9 3130.9L1280.6 3116.6L1247.1 3100.7L1203.4 3114.2Z" fill="#fff"/><path d="M1236.9 3130.9L1280.6 3116.6" stroke="#3e26a8"/><path d="M1236.9 3130.9L1203.4 3114.2" stroke="#3e26a8"/><path d="M1280.6 3116.6L1247.1 3100.7" stroke="#3e26a8"/><path d="M1203.4 3114.2L1247.1 3100.7" stroke="#3e26a8"/><path d="M961.9 3061.1L1005.5 3040L972 2390.2L928.4 2408.7Z" fill="#fff"/><path d="M961.9 3061.1L1005.5 3040" stroke="#4741e5"/><path d="M961.9 3061.1L928.4 2408.7" stroke="#4741e5"/><path d="M1005.5 3040L972 2390.2" stroke="#4741e5"/><path d="M928.4 2408.7L972 2390.2" stroke="#f7dc2a"/><path d="M686.9 2369.3L730.5 2356.4L697 2393.7L653.4 2405.8Z" fill="#fff"/><path d="M686.9 2369.3L730.5 2356.4" stroke="#f9fb15"/><path d="M686.9 2369.3L653.4 2405.8" stroke="#f9fb15"/><path d="M730.5 2356.4L697 2393.7" stroke="#f9fb15"/><path d="M653.4 2405.8L697 2393.7" stroke="#f5e327"/><path d="M1589.1 3132.6L1632.7 3119.1L1599.2 3101.7L1555.6 3115.6Z" fill="#fff"/><path d="M1589.1 3132.6L1632.7 3119.1" stroke="#3e26a8"/><path d="M1589.1 3132.6L1555.6 3115.6" stroke="#3e26a8"/><path d="M1632.7 3119.1L1599.2 3101.7" stroke="#3e26a8"/><path d="M1555.6 3115.6L1599.2 3101.7" stroke="#3e26a8"/><path d="M1314.1 3134.6L1357.7 3121L1324.2 3103.6L1280.6 3116.6Z" fill="#fff"/><path d="M1314.1 3134.6L1357.7 3121" stroke="#3e26a8"/><path d="M1314.1 3134.6L1280.6 3116.6" stroke="#3e26a8"/><path d="M1357.7 3121L1324.2 3103.6" stroke="#3e26a8"/><path d="M1280.6 3116.6L1324.2 3103.6" stroke="#3e26a8"/><path d="M1039 3135.2L1082.7 3121.6L1049.2 3030.4L1005.5 3040Z" fill="#fff"/><path d="M1039 3135.2L1082.7 3121.6" stroke="#3e26a8"/><path d="M1039 3135.2L1005.5 3040" stroke="#3e26a8"/><path d="M1082.7 3121.6L1049.2 3030.4" stroke="#3e26a8"/><path d="M1005.5 3040L1049.2 3030.4" stroke="#4741e5"/><path d="M764 2371.2L807.7 2360.1L774.2 2341.2L730.5 2356.4Z" fill="#fff"/><path d="M764 2371.2L807.7 2360.1" stroke="#f9fb15"/><path d="M764 2371.2L730.5 2356.4" stroke="#f9fb15"/><path d="M807.7 2360.1L774.2 2341.2" stroke="#f9fb15"/><path d="M730.5 2356.4L774.2 2341.2" stroke="#f9fb15"/><path d="M1666.2 3138.3L1709.8 3124.6L1676.3 3106.8L1632.7 3119.1Z" fill="#fff"/><path d="M1666.2 3138.3L1709.8 3124.6" stroke="#3e26a8"/><path d="M1666.2 3138.3L1632.7 3119.1" stroke="#3e26a8"/><path d="M1709.8 3124.6L1676.3 3106.8" stroke="#3e26a8"/><path d="M1632.7 3119.1L1676.3 3106.8" stroke="#3e26a8"/><path d="M489 2534.9L532.6 2524.5L499.1 2558.4L455.5 2578Z" fill="#fff"/><path d="M489 2534.9L532.6 2524.5" stroke="#e6bb2d"/><path d="M489 2534.9L455.5 2578" stroke="#e6bb2d"/><path d="M532.6 2524.5L499.1 2558.4" stroke="#e6bb2d"/><path d="M455.5 2578L499.1 2558.4" stroke="#abc739"/><path d="M1391.2 3139.4L1434.8 3124.4L1401.3 3108.9L1357.7 3121Z" fill="#fff"/><path d="M1391.2 3139.4L1434.8 3124.4" stroke="#3e26a8"/><path d="M1391.2 3139.4L1357.7 3121" stroke="#3e26a8"/><path d="M1434.8 3124.4L1401.3 3108.9" stroke="#3e26a8"/><path d="M1357.7 3121L1401.3 3108.9" stroke="#3e26a8"/><path d="M1116.2 3139.1L1159.8 3126.2L1126.3 3109.4L1082.7 3121.6Z" fill="#fff"/><path d="M1116.2 3139.1L1159.8 3126.2" stroke="#3e26a8"/><path d="M1116.2 3139.1L1082.7 3121.6" stroke="#3e26a8"/><path d="M1159.8 3126.2L1126.3 3109.4" stroke="#3e26a8"/><path d="M1082.7 3121.6L1126.3 3109.4" stroke="#3e26a8"/><path d="M841.2 2424.8L884.8 2414.5L851.3 2345.9L807.7 2360.1Z" fill="#fff"/><path d="M841.2 2424.8L884.8 2414.5" stroke="#f5e327"/><path d="M841.2 2424.8L807.7 2360.1" stroke="#f5e327"/><path d="M884.8 2414.5L851.3 2345.9" stroke="#f5e327"/><path d="M807.7 2360.1L851.3 2345.9" stroke="#f9fb15"/><path d="M566.1 2428.9L609.8 2409.9L576.3 2511.8L532.6 2524.5Z" fill="#fff"/><path d="M566.1 2428.9L609.8 2409.9" stroke="#f5e327"/><path d="M566.1 2428.9L532.6 2524.5" stroke="#f5e327"/><path d="M609.8 2409.9L576.3 2511.8" stroke="#f5e924"/><path d="M532.6 2524.5L576.3 2511.8" stroke="#e6bb2d"/><path d="M1468.3 3141.9L1512 3129.3L1478.5 3112.1L1434.8 3124.4Z" fill="#fff"/><path d="M1468.3 3141.9L1512 3129.3" stroke="#3e26a8"/><path d="M1468.3 3141.9L1434.8 3124.4" stroke="#3e26a8"/><path d="M1512 3129.3L1478.5 3112.1" stroke="#3e26a8"/><path d="M1434.8 3124.4L1478.5 3112.1" stroke="#3e26a8"/><path d="M1193.3 3143.1L1236.9 3130.9L1203.4 3114.2L1159.8 3126.2Z" fill="#fff"/><path d="M1193.3 3143.1L1236.9 3130.9" stroke="#3e26a8"/><path d="M1193.3 3143.1L1159.8 3126.2" stroke="#3e26a8"/><path d="M1236.9 3130.9L1203.4 3114.2" stroke="#3e26a8"/><path d="M1159.8 3126.2L1203.4 3114.2" stroke="#3e26a8"/><path d="M918.3 3070.7L961.9 3061.1L928.4 2408.7L884.8 2414.5Z" fill="#fff"/><path d="M918.3 3070.7L961.9 3061.1" stroke="#4741e5"/><path d="M918.3 3070.7L884.8 2414.5" stroke="#4741e5"/><path d="M961.9 3061.1L928.4 2408.7" stroke="#4741e5"/><path d="M884.8 2414.5L928.4 2408.7" stroke="#f5e327"/><path d="M643.3 2384.1L686.9 2369.3L653.4 2405.8L609.8 2409.9Z" fill="#fff"/><path d="M643.3 2384.1L686.9 2369.3" stroke="#f9fb15"/><path d="M643.3 2384.1L609.8 2409.9" stroke="#f9fb15"/><path d="M686.9 2369.3L653.4 2405.8" stroke="#f9fb15"/><path d="M609.8 2409.9L653.4 2405.8" stroke="#f5e924"/><path d="M1545.5 3148L1589.1 3132.6L1555.6 3115.6L1512 3129.3Z" fill="#fff"/><path d="M1545.5 3148L1589.1 3132.6" stroke="#3e26a8"/><path d="M1545.5 3148L1512 3129.3" stroke="#3e26a8"/><path d="M1589.1 3132.6L1555.6 3115.6" stroke="#3e26a8"/><path d="M1512 3129.3L1555.6 3115.6" stroke="#3e26a8"/><path d="M1270.4 3148.8L1314.1 3134.6L1280.6 3116.6L1236.9 3130.9Z" fill="#fff"/><path d="M1270.4 3148.8L1314.1 3134.6" stroke="#3e26a8"/><path d="M1270.4 3148.8L1236.9 3130.9" stroke="#3e26a8"/><path d="M1314.1 3134.6L1280.6 3116.6" stroke="#3e26a8"/><path d="M1236.9 3130.9L1280.6 3116.6" stroke="#3e26a8"/><path d="M995.4 3149.5L1039 3135.2L1005.5 3040L961.9 3061.1Z" fill="#fff"/><path d="M995.4 3149.5L1039 3135.2" stroke="#3e26a8"/><path d="M995.4 3149.5L961.9 3061.1" stroke="#3e26a8"/><path d="M1039 3135.2L1005.5 3040" stroke="#3e26a8"/><path d="M961.9 3061.1L1005.5 3040" stroke="#4741e5"/><path d="M720.4 2386.4L764 2371.2L730.5 2356.4L686.9 2369.3Z" fill="#fff"/><path d="M720.4 2386.4L764 2371.2" stroke="#f9fb15"/><path d="M720.4 2386.4L686.9 2369.3" stroke="#f9fb15"/><path d="M764 2371.2L730.5 2356.4" stroke="#f9fb15"/><path d="M686.9 2369.3L730.5 2356.4" stroke="#f9fb15"/><path d="M1622.6 3150.1L1666.2 3138.3L1632.7 3119.1L1589.1 3132.6Z" fill="#fff"/><path d="M1622.6 3150.1L1666.2 3138.3" stroke="#3e26a8"/><path d="M1622.6 3150.1L1589.1 3132.6" stroke="#3e26a8"/><path d="M1666.2 3138.3L1632.7 3119.1" stroke="#3e26a8"/><path d="M1589.1 3132.6L1632.7 3119.1" stroke="#3e26a8"/><path d="M1347.6 3153.3L1391.2 3139.4L1357.7 3121L1314.1 3134.6Z" fill="#fff"/><path d="M1347.6 3153.3L1391.2 3139.4" stroke="#3e26a8"/><path d="M1347.6 3153.3L1314.1 3134.6" stroke="#3e26a8"/><path d="M1391.2 3139.4L1357.7 3121" stroke="#3e26a8"/><path d="M1314.1 3134.6L1357.7 3121" stroke="#3e26a8"/><path d="M1072.5 3152.6L1116.2 3139.1L1082.7 3121.6L1039 3135.2Z" fill="#fff"/><path d="M1072.5 3152.6L1116.2 3139.1" stroke="#3e26a8"/><path d="M1072.5 3152.6L1039 3135.2" stroke="#3e26a8"/><path d="M1116.2 3139.1L1082.7 3121.6" stroke="#3e26a8"/><path d="M1039 3135.2L1082.7 3121.6" stroke="#3e26a8"/><path d="M797.5 2446L841.2 2424.8L807.7 2360.1L764 2371.2Z" fill="#fff"/><path d="M797.5 2446L841.2 2424.8" stroke="#f5e327"/><path d="M797.5 2446L764 2371.2" stroke="#f5e327"/><path d="M841.2 2424.8L807.7 2360.1" stroke="#f5e327"/><path d="M764 2371.2L807.7 2360.1" stroke="#f9fb15"/><path d="M522.5 2443.3L566.1 2428.9L532.6 2524.5L489 2534.9Z" fill="#fff"/><path d="M522.5 2443.3L566.1 2428.9" stroke="#f5e327"/><path d="M522.5 2443.3L489 2534.9" stroke="#f5e327"/><path d="M566.1 2428.9L532.6 2524.5" stroke="#f5e327"/><path d="M489 2534.9L532.6 2524.5" stroke="#e6bb2d"/><path d="M1424.7 3156.8L1468.3 3141.9L1434.8 3124.4L1391.2 3139.4Z" fill="#fff"/><path d="M1424.7 3156.8L1468.3 3141.9" stroke="#3e26a8"/><path d="M1424.7 3156.8L1391.2 3139.4" stroke="#3e26a8"/><path d="M1468.3 3141.9L1434.8 3124.4" stroke="#3e26a8"/><path d="M1391.2 3139.4L1434.8 3124.4" stroke="#3e26a8"/><path d="M1149.7 3157.8L1193.3 3143.1L1159.8 3126.2L1116.2 3139.1Z" fill="#fff"/><path d="M1149.7 3157.8L1193.3 3143.1" stroke="#3e26a8"/><path d="M1149.7 3157.8L1116.2 3139.1" stroke="#3e26a8"/><path d="M1193.3 3143.1L1159.8 3126.2" stroke="#3e26a8"/><path d="M1116.2 3139.1L1159.8 3126.2" stroke="#3e26a8"/><path d="M874.7 3076.5L918.3 3070.7L884.8 2414.5L841.2 2424.8Z" fill="#fff"/><path d="M874.7 3076.5L918.3 3070.7" stroke="#4747eb"/><path d="M874.7 3076.5L841.2 2424.8" stroke="#4747eb"/><path d="M918.3 3070.7L884.8 2414.5" stroke="#4741e5"/><path d="M841.2 2424.8L884.8 2414.5" stroke="#f5e327"/><path d="M599.6 2397.9L643.3 2384.1L609.8 2409.9L566.1 2428.9Z" fill="#fff"/><path d="M599.6 2397.9L643.3 2384.1" stroke="#f9fb15"/><path d="M599.6 2397.9L566.1 2428.9" stroke="#f9fb15"/><path d="M643.3 2384.1L609.8 2409.9" stroke="#f9fb15"/><path d="M566.1 2428.9L609.8 2409.9" stroke="#f5e327"/><path d="M1501.8 3161.6L1545.5 3148L1512 3129.3L1468.3 3141.9Z" fill="#fff"/><path d="M1501.8 3161.6L1545.5 3148" stroke="#3e26a8"/><path d="M1501.8 3161.6L1468.3 3141.9" stroke="#3e26a8"/><path d="M1545.5 3148L1512 3129.3" stroke="#3e26a8"/><path d="M1468.3 3141.9L1512 3129.3" stroke="#3e26a8"/><path d="M1226.8 3162.3L1270.4 3148.8L1236.9 3130.9L1193.3 3143.1Z" fill="#fff"/><path d="M1226.8 3162.3L1270.4 3148.8" stroke="#3e26a8"/><path d="M1226.8 3162.3L1193.3 3143.1" stroke="#3e26a8"/><path d="M1270.4 3148.8L1236.9 3130.9" stroke="#3e26a8"/><path d="M1193.3 3143.1L1236.9 3130.9" stroke="#3e26a8"/><path d="M951.8 3163.9L995.4 3149.5L961.9 3061.1L918.3 3070.7Z" fill="#fff"/><path d="M951.8 3163.9L995.4 3149.5" stroke="#3e26a8"/><path d="M951.8 3163.9L918.3 3070.7" stroke="#3e26a8"/><path d="M995.4 3149.5L961.9 3061.1" stroke="#3e26a8"/><path d="M918.3 3070.7L961.9 3061.1" stroke="#4741e5"/><path d="M676.8 2398L720.4 2386.4L686.9 2369.3L643.3 2384.1Z" fill="#fff"/><path d="M676.8 2398L720.4 2386.4" stroke="#f9fb15"/><path d="M676.8 2398L643.3 2384.1" stroke="#f9fb15"/><path d="M720.4 2386.4L686.9 2369.3" stroke="#f9fb15"/><path d="M643.3 2384.1L686.9 2369.3" stroke="#f9fb15"/><path d="M1579 3164.4L1622.6 3150.1L1589.1 3132.6L1545.5 3148Z" fill="#fff"/><path d="M1579 3164.4L1622.6 3150.1" stroke="#3e26a8"/><path d="M1579 3164.4L1545.5 3148" stroke="#3e26a8"/><path d="M1622.6 3150.1L1589.1 3132.6" stroke="#3e26a8"/><path d="M1545.5 3148L1589.1 3132.6" stroke="#3e26a8"/><path d="M1303.9 3165.3L1347.6 3153.3L1314.1 3134.6L1270.4 3148.8Z" fill="#fff"/><path d="M1303.9 3165.3L1347.6 3153.3" stroke="#3e26a8"/><path d="M1303.9 3165.3L1270.4 3148.8" stroke="#3e26a8"/><path d="M1347.6 3153.3L1314.1 3134.6" stroke="#3e26a8"/><path d="M1270.4 3148.8L1314.1 3134.6" stroke="#3e26a8"/><path d="M1028.9 3167.3L1072.5 3152.6L1039 3135.2L995.4 3149.5Z" fill="#fff"/><path d="M1028.9 3167.3L1072.5 3152.6" stroke="#3e26a8"/><path d="M1028.9 3167.3L995.4 3149.5" stroke="#3e26a8"/><path d="M1072.5 3152.6L1039 3135.2" stroke="#3e26a8"/><path d="M995.4 3149.5L1039 3135.2" stroke="#3e26a8"/><path d="M753.9 2464.8L797.5 2446L764 2371.2L720.4 2386.4Z" fill="#fff"/><path d="M753.9 2464.8L797.5 2446" stroke="#f7dc2a"/><path d="M753.9 2464.8L720.4 2386.4" stroke="#f7dc2a"/><path d="M797.5 2446L764 2371.2" stroke="#f5e327"/><path d="M720.4 2386.4L764 2371.2" stroke="#f9fb15"/><path d="M1381.1 3169.2L1424.7 3156.8L1391.2 3139.4L1347.6 3153.3Z" fill="#fff"/><path d="M1381.1 3169.2L1424.7 3156.8" stroke="#3e26a8"/><path d="M1381.1 3169.2L1347.6 3153.3" stroke="#3e26a8"/><path d="M1424.7 3156.8L1391.2 3139.4" stroke="#3e26a8"/><path d="M1347.6 3153.3L1391.2 3139.4" stroke="#3e26a8"/><path d="M1106 3172.2L1149.7 3157.8L1116.2 3139.1L1072.5 3152.6Z" fill="#fff"/><path d="M1106 3172.2L1149.7 3157.8" stroke="#3e26a8"/><path d="M1106 3172.2L1072.5 3152.6" stroke="#3e26a8"/><path d="M1149.7 3157.8L1116.2 3139.1" stroke="#3e26a8"/><path d="M1072.5 3152.6L1116.2 3139.1" stroke="#3e26a8"/><path d="M831 3096.1L874.7 3076.5L841.2 2424.8L797.5 2446Z" fill="#fff"/><path d="M831 3096.1L874.7 3076.5" stroke="#4741e5"/><path d="M831 3096.1L797.5 2446" stroke="#4741e5"/><path d="M874.7 3076.5L841.2 2424.8" stroke="#4747eb"/><path d="M797.5 2446L841.2 2424.8" stroke="#f5e327"/><path d="M556 2409.3L599.6 2397.9L566.1 2428.9L522.5 2443.3Z" fill="#fff"/><path d="M556 2409.3L599.6 2397.9" stroke="#f9fb15"/><path d="M556 2409.3L522.5 2443.3" stroke="#f9fb15"/><path d="M599.6 2397.9L566.1 2428.9" stroke="#f9fb15"/><path d="M522.5 2443.3L566.1 2428.9" stroke="#f5e327"/><path d="M1458.2 3173.8L1501.8 3161.6L1468.3 3141.9L1424.7 3156.8Z" fill="#fff"/><path d="M1458.2 3173.8L1501.8 3161.6" stroke="#3e26a8"/><path d="M1458.2 3173.8L1424.7 3156.8" stroke="#3e26a8"/><path d="M1501.8 3161.6L1468.3 3141.9" stroke="#3e26a8"/><path d="M1424.7 3156.8L1468.3 3141.9" stroke="#3e26a8"/><path d="M1183.2 3174.4L1226.8 3162.3L1193.3 3143.1L1149.7 3157.8Z" fill="#fff"/><path d="M1183.2 3174.4L1226.8 3162.3" stroke="#3e26a8"/><path d="M1183.2 3174.4L1149.7 3157.8" stroke="#3e26a8"/><path d="M1226.8 3162.3L1193.3 3143.1" stroke="#3e26a8"/><path d="M1149.7 3157.8L1193.3 3143.1" stroke="#3e26a8"/><path d="M908.2 3177.2L951.8 3163.9L918.3 3070.7L874.7 3076.5Z" fill="#fff"/><path d="M908.2 3177.2L951.8 3163.9" stroke="#3e26a8"/><path d="M908.2 3177.2L874.7 3076.5" stroke="#3e26a8"/><path d="M951.8 3163.9L918.3 3070.7" stroke="#3e26a8"/><path d="M874.7 3076.5L918.3 3070.7" stroke="#4747eb"/><path d="M633.1 2412.6L676.8 2398L643.3 2384.1L599.6 2397.9Z" fill="#fff"/><path d="M633.1 2412.6L676.8 2398" stroke="#f9fb15"/><path d="M633.1 2412.6L599.6 2397.9" stroke="#f9fb15"/><path d="M676.8 2398L643.3 2384.1" stroke="#f9fb15"/><path d="M599.6 2397.9L643.3 2384.1" stroke="#f9fb15"/><path d="M1535.3 3177.6L1579 3164.4L1545.5 3148L1501.8 3161.6Z" fill="#fff"/><path d="M1535.3 3177.6L1579 3164.4" stroke="#3e26a8"/><path d="M1535.3 3177.6L1501.8 3161.6" stroke="#3e26a8"/><path d="M1579 3164.4L1545.5 3148" stroke="#3e26a8"/><path d="M1501.8 3161.6L1545.5 3148" stroke="#3e26a8"/><path d="M1260.3 3179L1303.9 3165.3L1270.4 3148.8L1226.8 3162.3Z" fill="#fff"/><path d="M1260.3 3179L1303.9 3165.3" stroke="#3e26a8"/><path d="M1260.3 3179L1226.8 3162.3" stroke="#3e26a8"/><path d="M1303.9 3165.3L1270.4 3148.8" stroke="#3e26a8"/><path d="M1226.8 3162.3L1270.4 3148.8" stroke="#3e26a8"/><path d="M985.3 3181.3L1028.9 3167.3L995.4 3149.5L951.8 3163.9Z" fill="#fff"/><path d="M985.3 3181.3L1028.9 3167.3" stroke="#3e26a8"/><path d="M985.3 3181.3L951.8 3163.9" stroke="#3e26a8"/><path d="M1028.9 3167.3L995.4 3149.5" stroke="#3e26a8"/><path d="M951.8 3163.9L995.4 3149.5" stroke="#3e26a8"/><path d="M710.3 2476.7L753.9 2464.8L720.4 2386.4L676.8 2398Z" fill="#fff"/><path d="M710.3 2476.7L753.9 2464.8" stroke="#f7dc2a"/><path d="M710.3 2476.7L676.8 2398" stroke="#f7dc2a"/><path d="M753.9 2464.8L720.4 2386.4" stroke="#f7dc2a"/><path d="M676.8 2398L720.4 2386.4" stroke="#f9fb15"/><path d="M1337.4 3183.1L1381.1 3169.2L1347.6 3153.3L1303.9 3165.3Z" fill="#fff"/><path d="M1337.4 3183.1L1381.1 3169.2" stroke="#3e26a8"/><path d="M1337.4 3183.1L1303.9 3165.3" stroke="#3e26a8"/><path d="M1381.1 3169.2L1347.6 3153.3" stroke="#3e26a8"/><path d="M1303.9 3165.3L1347.6 3153.3" stroke="#3e26a8"/><path d="M1062.4 3183.9L1106 3172.2L1072.5 3152.6L1028.9 3167.3Z" fill="#fff"/><path d="M1062.4 3183.9L1106 3172.2" stroke="#3e26a8"/><path d="M1062.4 3183.9L1028.9 3167.3" stroke="#3e26a8"/><path d="M1106 3172.2L1072.5 3152.6" stroke="#3e26a8"/><path d="M1028.9 3167.3L1072.5 3152.6" stroke="#3e26a8"/><path d="M787.4 3112.6L831 3096.1L797.5 2446L753.9 2464.8Z" fill="#fff"/><path d="M787.4 3112.6L831 3096.1" stroke="#4741e5"/><path d="M787.4 3112.6L753.9 2464.8" stroke="#4741e5"/><path d="M831 3096.1L797.5 2446" stroke="#4741e5"/><path d="M753.9 2464.8L797.5 2446" stroke="#f7dc2a"/><path d="M1414.6 3187.2L1458.2 3173.8L1424.7 3156.8L1381.1 3169.2Z" fill="#fff"/><path d="M1414.6 3187.2L1458.2 3173.8" stroke="#3e26a8"/><path d="M1414.6 3187.2L1381.1 3169.2" stroke="#3e26a8"/><path d="M1458.2 3173.8L1424.7 3156.8" stroke="#3e26a8"/><path d="M1381.1 3169.2L1424.7 3156.8" stroke="#3e26a8"/><path d="M1139.5 3188.6L1183.2 3174.4L1149.7 3157.8L1106 3172.2Z" fill="#fff"/><path d="M1139.5 3188.6L1183.2 3174.4" stroke="#3e26a8"/><path d="M1139.5 3188.6L1106 3172.2" stroke="#3e26a8"/><path d="M1183.2 3174.4L1149.7 3157.8" stroke="#3e26a8"/><path d="M1106 3172.2L1149.7 3157.8" stroke="#3e26a8"/><path d="M864.5 3189L908.2 3177.2L874.7 3076.5L831 3096.1Z" fill="#fff"/><path d="M864.5 3189L908.2 3177.2" stroke="#3e26a8"/><path d="M864.5 3189L831 3096.1" stroke="#3e26a8"/><path d="M908.2 3177.2L874.7 3076.5" stroke="#3e26a8"/><path d="M831 3096.1L874.7 3076.5" stroke="#4741e5"/><path d="M589.5 2425.4L633.1 2412.6L599.6 2397.9L556 2409.3Z" fill="#fff"/><path d="M589.5 2425.4L633.1 2412.6" stroke="#f9fb15"/><path d="M589.5 2425.4L556 2409.3" stroke="#f9fb15"/><path d="M633.1 2412.6L599.6 2397.9" stroke="#f9fb15"/><path d="M556 2409.3L599.6 2397.9" stroke="#f9fb15"/><path d="M1491.7 3191.5L1535.3 3177.6L1501.8 3161.6L1458.2 3173.8Z" fill="#fff"/><path d="M1491.7 3191.5L1535.3 3177.6" stroke="#3e26a8"/><path d="M1491.7 3191.5L1458.2 3173.8" stroke="#3e26a8"/><path d="M1535.3 3177.6L1501.8 3161.6" stroke="#3e26a8"/><path d="M1458.2 3173.8L1501.8 3161.6" stroke="#3e26a8"/><path d="M1216.7 3192.1L1260.3 3179L1226.8 3162.3L1183.2 3174.4Z" fill="#fff"/><path d="M1216.7 3192.1L1260.3 3179" stroke="#3e26a8"/><path d="M1216.7 3192.1L1183.2 3174.4" stroke="#3e26a8"/><path d="M1260.3 3179L1226.8 3162.3" stroke="#3e26a8"/><path d="M1183.2 3174.4L1226.8 3162.3" stroke="#3e26a8"/><path d="M941.7 3193.2L985.3 3181.3L951.8 3163.9L908.2 3177.2Z" fill="#fff"/><path d="M941.7 3193.2L985.3 3181.3" stroke="#3e26a8"/><path d="M941.7 3193.2L908.2 3177.2" stroke="#3e26a8"/><path d="M985.3 3181.3L951.8 3163.9" stroke="#3e26a8"/><path d="M908.2 3177.2L951.8 3163.9" stroke="#3e26a8"/><path d="M666.6 2490.2L710.3 2476.7L676.8 2398L633.1 2412.6Z" fill="#fff"/><path d="M666.6 2490.2L710.3 2476.7" stroke="#f7dc2a"/><path d="M666.6 2490.2L633.1 2412.6" stroke="#f7dc2a"/><path d="M710.3 2476.7L676.8 2398" stroke="#f7dc2a"/><path d="M633.1 2412.6L676.8 2398" stroke="#f9fb15"/><path d="M1293.8 3196.5L1337.4 3183.1L1303.9 3165.3L1260.3 3179Z" fill="#fff"/><path d="M1293.8 3196.5L1337.4 3183.1" stroke="#3e26a8"/><path d="M1293.8 3196.5L1260.3 3179" stroke="#3e26a8"/><path d="M1337.4 3183.1L1303.9 3165.3" stroke="#3e26a8"/><path d="M1260.3 3179L1303.9 3165.3" stroke="#3e26a8"/><path d="M1018.8 3199L1062.4 3183.9L1028.9 3167.3L985.3 3181.3Z" fill="#fff"/><path d="M1018.8 3199L1062.4 3183.9" stroke="#3e26a8"/><path d="M1018.8 3199L985.3 3181.3" stroke="#3e26a8"/><path d="M1062.4 3183.9L1028.9 3167.3" stroke="#3e26a8"/><path d="M985.3 3181.3L1028.9 3167.3" stroke="#3e26a8"/><path d="M743.8 3120.7L787.4 3112.6L753.9 2464.8L710.3 2476.7Z" fill="#fff"/><path d="M743.8 3120.7L787.4 3112.6" stroke="#4741e5"/><path d="M743.8 3120.7L710.3 2476.7" stroke="#4741e5"/><path d="M787.4 3112.6L753.9 2464.8" stroke="#4741e5"/><path d="M710.3 2476.7L753.9 2464.8" stroke="#f7dc2a"/><path d="M1370.9 3202L1414.6 3187.2L1381.1 3169.2L1337.4 3183.1Z" fill="#fff"/><path d="M1370.9 3202L1414.6 3187.2" stroke="#3e26a8"/><path d="M1370.9 3202L1337.4 3183.1" stroke="#3e26a8"/><path d="M1414.6 3187.2L1381.1 3169.2" stroke="#3e26a8"/><path d="M1337.4 3183.1L1381.1 3169.2" stroke="#3e26a8"/><path d="M1095.9 3202.2L1139.5 3188.6L1106 3172.2L1062.4 3183.9Z" fill="#fff"/><path d="M1095.9 3202.2L1139.5 3188.6" stroke="#3e26a8"/><path d="M1095.9 3202.2L1062.4 3183.9" stroke="#3e26a8"/><path d="M1139.5 3188.6L1106 3172.2" stroke="#3e26a8"/><path d="M1062.4 3183.9L1106 3172.2" stroke="#3e26a8"/><path d="M820.9 3203.9L864.5 3189L831 3096.1L787.4 3112.6Z" fill="#fff"/><path d="M820.9 3203.9L864.5 3189" stroke="#3e26a8"/><path d="M820.9 3203.9L787.4 3112.6" stroke="#3e26a8"/><path d="M864.5 3189L831 3096.1" stroke="#3e26a8"/><path d="M787.4 3112.6L831 3096.1" stroke="#4741e5"/><path d="M1448.1 3203.9L1491.7 3191.5L1458.2 3173.8L1414.6 3187.2Z" fill="#fff"/><path d="M1448.1 3203.9L1491.7 3191.5" stroke="#3e26a8"/><path d="M1448.1 3203.9L1414.6 3187.2" stroke="#3e26a8"/><path d="M1491.7 3191.5L1458.2 3173.8" stroke="#3e26a8"/><path d="M1414.6 3187.2L1458.2 3173.8" stroke="#3e26a8"/><path d="M1173 3206.9L1216.7 3192.1L1183.2 3174.4L1139.5 3188.6Z" fill="#fff"/><path d="M1173 3206.9L1216.7 3192.1" stroke="#3e26a8"/><path d="M1173 3206.9L1139.5 3188.6" stroke="#3e26a8"/><path d="M1216.7 3192.1L1183.2 3174.4" stroke="#3e26a8"/><path d="M1139.5 3188.6L1183.2 3174.4" stroke="#3e26a8"/><path d="M898 3206.8L941.7 3193.2L908.2 3177.2L864.5 3189Z" fill="#fff"/><path d="M898 3206.8L941.7 3193.2" stroke="#3e26a8"/><path d="M898 3206.8L864.5 3189" stroke="#3e26a8"/><path d="M941.7 3193.2L908.2 3177.2" stroke="#3e26a8"/><path d="M864.5 3189L908.2 3177.2" stroke="#3e26a8"/><path d="M623 2501.3L666.6 2490.2L633.1 2412.6L589.5 2425.4Z" fill="#fff"/><path d="M623 2501.3L666.6 2490.2" stroke="#f5e327"/><path d="M623 2501.3L589.5 2425.4" stroke="#f5e327"/><path d="M666.6 2490.2L633.1 2412.6" stroke="#f7dc2a"/><path d="M589.5 2425.4L633.1 2412.6" stroke="#f9fb15"/><path d="M1250.2 3209.7L1293.8 3196.5L1260.3 3179L1216.7 3192.1Z" fill="#fff"/><path d="M1250.2 3209.7L1293.8 3196.5" stroke="#3e26a8"/><path d="M1250.2 3209.7L1216.7 3192.1" stroke="#3e26a8"/><path d="M1293.8 3196.5L1260.3 3179" stroke="#3e26a8"/><path d="M1216.7 3192.1L1260.3 3179" stroke="#3e26a8"/><path d="M975.2 3211.6L1018.8 3199L985.3 3181.3L941.7 3193.2Z" fill="#fff"/><path d="M975.2 3211.6L1018.8 3199" stroke="#3e26a8"/><path d="M975.2 3211.6L941.7 3193.2" stroke="#3e26a8"/><path d="M1018.8 3199L985.3 3181.3" stroke="#3e26a8"/><path d="M941.7 3193.2L985.3 3181.3" stroke="#3e26a8"/><path d="M700.1 3138L743.8 3120.7L710.3 2476.7L666.6 2490.2Z" fill="#fff"/><path d="M700.1 3138L743.8 3120.7" stroke="#4741e5"/><path d="M700.1 3138L666.6 2490.2" stroke="#4741e5"/><path d="M743.8 3120.7L710.3 2476.7" stroke="#4741e5"/><path d="M666.6 2490.2L710.3 2476.7" stroke="#f7dc2a"/><path d="M1327.3 3214.7L1370.9 3202L1337.4 3183.1L1293.8 3196.5Z" fill="#fff"/><path d="M1327.3 3214.7L1370.9 3202" stroke="#3e26a8"/><path d="M1327.3 3214.7L1293.8 3196.5" stroke="#3e26a8"/><path d="M1370.9 3202L1337.4 3183.1" stroke="#3e26a8"/><path d="M1293.8 3196.5L1337.4 3183.1" stroke="#3e26a8"/><path d="M1052.3 3216.2L1095.9 3202.2L1062.4 3183.9L1018.8 3199Z" fill="#fff"/><path d="M1052.3 3216.2L1095.9 3202.2" stroke="#3e26a8"/><path d="M1052.3 3216.2L1018.8 3199" stroke="#3e26a8"/><path d="M1095.9 3202.2L1062.4 3183.9" stroke="#3e26a8"/><path d="M1018.8 3199L1062.4 3183.9" stroke="#3e26a8"/><path d="M777.3 3216.4L820.9 3203.9L787.4 3112.6L743.8 3120.7Z" fill="#fff"/><path d="M777.3 3216.4L820.9 3203.9" stroke="#3e26a8"/><path d="M777.3 3216.4L743.8 3120.7" stroke="#3e26a8"/><path d="M820.9 3203.9L787.4 3112.6" stroke="#3e26a8"/><path d="M743.8 3120.7L787.4 3112.6" stroke="#4741e5"/><path d="M1404.4 3217.4L1448.1 3203.9L1414.6 3187.2L1370.9 3202Z" fill="#fff"/><path d="M1404.4 3217.4L1448.1 3203.9" stroke="#3e26a8"/><path d="M1404.4 3217.4L1370.9 3202" stroke="#3e26a8"/><path d="M1448.1 3203.9L1414.6 3187.2" stroke="#3e26a8"/><path d="M1370.9 3202L1414.6 3187.2" stroke="#3e26a8"/><path d="M1129.4 3218.6L1173 3206.9L1139.5 3188.6L1095.9 3202.2Z" fill="#fff"/><path d="M1129.4 3218.6L1173 3206.9" stroke="#3e26a8"/><path d="M1129.4 3218.6L1095.9 3202.2" stroke="#3e26a8"/><path d="M1173 3206.9L1139.5 3188.6" stroke="#3e26a8"/><path d="M1095.9 3202.2L1139.5 3188.6" stroke="#3e26a8"/><path d="M854.4 3221.3L898 3206.8L864.5 3189L820.9 3203.9Z" fill="#fff"/><path d="M854.4 3221.3L898 3206.8" stroke="#3e26a8"/><path d="M854.4 3221.3L820.9 3203.9" stroke="#3e26a8"/><path d="M898 3206.8L864.5 3189" stroke="#3e26a8"/><path d="M820.9 3203.9L864.5 3189" stroke="#3e26a8"/><path d="M1206.5 3224.4L1250.2 3209.7L1216.7 3192.1L1173 3206.9Z" fill="#fff"/><path d="M1206.5 3224.4L1250.2 3209.7" stroke="#3e26a8"/><path d="M1206.5 3224.4L1173 3206.9" stroke="#3e26a8"/><path d="M1250.2 3209.7L1216.7 3192.1" stroke="#3e26a8"/><path d="M1173 3206.9L1216.7 3192.1" stroke="#3e26a8"/><path d="M931.5 3225.5L975.2 3211.6L941.7 3193.2L898 3206.8Z" fill="#fff"/><path d="M931.5 3225.5L975.2 3211.6" stroke="#3e26a8"/><path d="M931.5 3225.5L898 3206.8" stroke="#3e26a8"/><path d="M975.2 3211.6L941.7 3193.2" stroke="#3e26a8"/><path d="M898 3206.8L941.7 3193.2" stroke="#3e26a8"/><path d="M656.5 3151.8L700.1 3138L666.6 2490.2L623 2501.3Z" fill="#fff"/><path d="M656.5 3151.8L700.1 3138" stroke="#4741e5"/><path d="M656.5 3151.8L623 2501.3" stroke="#4741e5"/><path d="M700.1 3138L666.6 2490.2" stroke="#4741e5"/><path d="M623 2501.3L666.6 2490.2" stroke="#f5e327"/><path d="M1283.7 3226.9L1327.3 3214.7L1293.8 3196.5L1250.2 3209.7Z" fill="#fff"/><path d="M1283.7 3226.9L1327.3 3214.7" stroke="#3e26a8"/><path d="M1283.7 3226.9L1250.2 3209.7" stroke="#3e26a8"/><path d="M1327.3 3214.7L1293.8 3196.5" stroke="#3e26a8"/><path d="M1250.2 3209.7L1293.8 3196.5" stroke="#3e26a8"/><path d="M1008.7 3228.2L1052.3 3216.2L1018.8 3199L975.2 3211.6Z" fill="#fff"/><path d="M1008.7 3228.2L1052.3 3216.2" stroke="#3e26a8"/><path d="M1008.7 3228.2L975.2 3211.6" stroke="#3e26a8"/><path d="M1052.3 3216.2L1018.8 3199" stroke="#3e26a8"/><path d="M975.2 3211.6L1018.8 3199" stroke="#3e26a8"/><path d="M733.6 3230.1L777.3 3216.4L743.8 3120.7L700.1 3138Z" fill="#fff"/><path d="M733.6 3230.1L777.3 3216.4" stroke="#3e26a8"/><path d="M733.6 3230.1L700.1 3138" stroke="#3e26a8"/><path d="M777.3 3216.4L743.8 3120.7" stroke="#3e26a8"/><path d="M700.1 3138L743.8 3120.7" stroke="#4741e5"/><path d="M1360.8 3233.1L1404.4 3217.4L1370.9 3202L1327.3 3214.7Z" fill="#fff"/><path d="M1360.8 3233.1L1404.4 3217.4" stroke="#3e26a8"/><path d="M1360.8 3233.1L1327.3 3214.7" stroke="#3e26a8"/><path d="M1404.4 3217.4L1370.9 3202" stroke="#3e26a8"/><path d="M1327.3 3214.7L1370.9 3202" stroke="#3e26a8"/><path d="M1085.8 3232.7L1129.4 3218.6L1095.9 3202.2L1052.3 3216.2Z" fill="#fff"/><path d="M1085.8 3232.7L1129.4 3218.6" stroke="#3e26a8"/><path d="M1085.8 3232.7L1052.3 3216.2" stroke="#3e26a8"/><path d="M1129.4 3218.6L1095.9 3202.2" stroke="#3e26a8"/><path d="M1052.3 3216.2L1095.9 3202.2" stroke="#3e26a8"/><path d="M810.8 3234.9L854.4 3221.3L820.9 3203.9L777.3 3216.4Z" fill="#fff"/><path d="M810.8 3234.9L854.4 3221.3" stroke="#3e26a8"/><path d="M810.8 3234.9L777.3 3216.4" stroke="#3e26a8"/><path d="M854.4 3221.3L820.9 3203.9" stroke="#3e26a8"/><path d="M777.3 3216.4L820.9 3203.9" stroke="#3e26a8"/><path d="M1162.9 3238.2L1206.5 3224.4L1173 3206.9L1129.4 3218.6Z" fill="#fff"/><path d="M1162.9 3238.2L1206.5 3224.4" stroke="#3e26a8"/><path d="M1162.9 3238.2L1129.4 3218.6" stroke="#3e26a8"/><path d="M1206.5 3224.4L1173 3206.9" stroke="#3e26a8"/><path d="M1129.4 3218.6L1173 3206.9" stroke="#3e26a8"/><path d="M887.9 3238.3L931.5 3225.5L898 3206.8L854.4 3221.3Z" fill="#fff"/><path d="M887.9 3238.3L931.5 3225.5" stroke="#3e26a8"/><path d="M887.9 3238.3L854.4 3221.3" stroke="#3e26a8"/><path d="M931.5 3225.5L898 3206.8" stroke="#3e26a8"/><path d="M854.4 3221.3L898 3206.8" stroke="#3e26a8"/><path d="M1240 3241.5L1283.7 3226.9L1250.2 3209.7L1206.5 3224.4Z" fill="#fff"/><path d="M1240 3241.5L1283.7 3226.9" stroke="#3e26a8"/><path d="M1240 3241.5L1206.5 3224.4" stroke="#3e26a8"/><path d="M1283.7 3226.9L1250.2 3209.7" stroke="#3e26a8"/><path d="M1206.5 3224.4L1250.2 3209.7" stroke="#3e26a8"/><path d="M965 3241.6L1008.7 3228.2L975.2 3211.6L931.5 3225.5Z" fill="#fff"/><path d="M965 3241.6L1008.7 3228.2" stroke="#3e26a8"/><path d="M965 3241.6L931.5 3225.5" stroke="#3e26a8"/><path d="M1008.7 3228.2L975.2 3211.6" stroke="#3e26a8"/><path d="M931.5 3225.5L975.2 3211.6" stroke="#3e26a8"/><path d="M690 3242.8L733.6 3230.1L700.1 3138L656.5 3151.8Z" fill="#fff"/><path d="M690 3242.8L733.6 3230.1" stroke="#3e26a8"/><path d="M690 3242.8L656.5 3151.8" stroke="#3e26a8"/><path d="M733.6 3230.1L700.1 3138" stroke="#3e26a8"/><path d="M656.5 3151.8L700.1 3138" stroke="#4741e5"/><path d="M1317.2 3246L1360.8 3233.1L1327.3 3214.7L1283.7 3226.9Z" fill="#fff"/><path d="M1317.2 3246L1360.8 3233.1" stroke="#3e26a8"/><path d="M1317.2 3246L1283.7 3226.9" stroke="#3e26a8"/><path d="M1360.8 3233.1L1327.3 3214.7" stroke="#3e26a8"/><path d="M1283.7 3226.9L1327.3 3214.7" stroke="#3e26a8"/><path d="M1042.2 3247.5L1085.8 3232.7L1052.3 3216.2L1008.7 3228.2Z" fill="#fff"/><path d="M1042.2 3247.5L1085.8 3232.7" stroke="#3e26a8"/><path d="M1042.2 3247.5L1008.7 3228.2" stroke="#3e26a8"/><path d="M1085.8 3232.7L1052.3 3216.2" stroke="#3e26a8"/><path d="M1008.7 3228.2L1052.3 3216.2" stroke="#3e26a8"/><path d="M767.1 3247.5L810.8 3234.9L777.3 3216.4L733.6 3230.1Z" fill="#fff"/><path d="M767.1 3247.5L810.8 3234.9" stroke="#3e26a8"/><path d="M767.1 3247.5L733.6 3230.1" stroke="#3e26a8"/><path d="M810.8 3234.9L777.3 3216.4" stroke="#3e26a8"/><path d="M733.6 3230.1L777.3 3216.4" stroke="#3e26a8"/><path d="M1119.3 3250.6L1162.9 3238.2L1129.4 3218.6L1085.8 3232.7Z" fill="#fff"/><path d="M1119.3 3250.6L1162.9 3238.2" stroke="#3e26a8"/><path d="M1119.3 3250.6L1085.8 3232.7" stroke="#3e26a8"/><path d="M1162.9 3238.2L1129.4 3218.6" stroke="#3e26a8"/><path d="M1085.8 3232.7L1129.4 3218.6" stroke="#3e26a8"/><path d="M844.3 3252.2L887.9 3238.3L854.4 3221.3L810.8 3234.9Z" fill="#fff"/><path d="M844.3 3252.2L887.9 3238.3" stroke="#3e26a8"/><path d="M844.3 3252.2L810.8 3234.9" stroke="#3e26a8"/><path d="M887.9 3238.3L854.4 3221.3" stroke="#3e26a8"/><path d="M810.8 3234.9L854.4 3221.3" stroke="#3e26a8"/><path d="M1196.4 3255.7L1240 3241.5L1206.5 3224.4L1162.9 3238.2Z" fill="#fff"/><path d="M1196.4 3255.7L1240 3241.5" stroke="#3e26a8"/><path d="M1196.4 3255.7L1162.9 3238.2" stroke="#3e26a8"/><path d="M1240 3241.5L1206.5 3224.4" stroke="#3e26a8"/><path d="M1162.9 3238.2L1206.5 3224.4" stroke="#3e26a8"/><path d="M921.4 3256.8L965 3241.6L931.5 3225.5L887.9 3238.3Z" fill="#fff"/><path d="M921.4 3256.8L965 3241.6" stroke="#3e26a8"/><path d="M921.4 3256.8L887.9 3238.3" stroke="#3e26a8"/><path d="M965 3241.6L931.5 3225.5" stroke="#3e26a8"/><path d="M887.9 3238.3L931.5 3225.5" stroke="#3e26a8"/><path d="M1273.5 3258.3L1317.2 3246L1283.7 3226.9L1240 3241.5Z" fill="#fff"/><path d="M1273.5 3258.3L1317.2 3246" stroke="#3e26a8"/><path d="M1273.5 3258.3L1240 3241.5" stroke="#3e26a8"/><path d="M1317.2 3246L1283.7 3226.9" stroke="#3e26a8"/><path d="M1240 3241.5L1283.7 3226.9" stroke="#3e26a8"/><path d="M998.5 3259.7L1042.2 3247.5L1008.7 3228.2L965 3241.6Z" fill="#fff"/><path d="M998.5 3259.7L1042.2 3247.5" stroke="#3e26a8"/><path d="M998.5 3259.7L965 3241.6" stroke="#3e26a8"/><path d="M1042.2 3247.5L1008.7 3228.2" stroke="#3e26a8"/><path d="M965 3241.6L1008.7 3228.2" stroke="#3e26a8"/><path d="M723.5 3260.3L767.1 3247.5L733.6 3230.1L690 3242.8Z" fill="#fff"/><path d="M723.5 3260.3L767.1 3247.5" stroke="#3e26a8"/><path d="M723.5 3260.3L690 3242.8" stroke="#3e26a8"/><path d="M767.1 3247.5L733.6 3230.1" stroke="#3e26a8"/><path d="M690 3242.8L733.6 3230.1" stroke="#3e26a8"/><path d="M1075.7 3264.7L1119.3 3250.6L1085.8 3232.7L1042.2 3247.5Z" fill="#fff"/><path d="M1075.7 3264.7L1119.3 3250.6" stroke="#3e26a8"/><path d="M1075.7 3264.7L1042.2 3247.5" stroke="#3e26a8"/><path d="M1119.3 3250.6L1085.8 3232.7" stroke="#3e26a8"/><path d="M1042.2 3247.5L1085.8 3232.7" stroke="#3e26a8"/><path d="M800.6 3264.5L844.3 3252.2L810.8 3234.9L767.1 3247.5Z" fill="#fff"/><path d="M800.6 3264.5L844.3 3252.2" stroke="#3e26a8"/><path d="M800.6 3264.5L767.1 3247.5" stroke="#3e26a8"/><path d="M844.3 3252.2L810.8 3234.9" stroke="#3e26a8"/><path d="M767.1 3247.5L810.8 3234.9" stroke="#3e26a8"/><path d="M1152.8 3267.6L1196.4 3255.7L1162.9 3238.2L1119.3 3250.6Z" fill="#fff"/><path d="M1152.8 3267.6L1196.4 3255.7" stroke="#3e26a8"/><path d="M1152.8 3267.6L1119.3 3250.6" stroke="#3e26a8"/><path d="M1196.4 3255.7L1162.9 3238.2" stroke="#3e26a8"/><path d="M1119.3 3250.6L1162.9 3238.2" stroke="#3e26a8"/><path d="M877.8 3269.4L921.4 3256.8L887.9 3238.3L844.3 3252.2Z" fill="#fff"/><path d="M877.8 3269.4L921.4 3256.8" stroke="#3e26a8"/><path d="M877.8 3269.4L844.3 3252.2" stroke="#3e26a8"/><path d="M921.4 3256.8L887.9 3238.3" stroke="#3e26a8"/><path d="M844.3 3252.2L887.9 3238.3" stroke="#3e26a8"/><path d="M1229.9 3271.3L1273.5 3258.3L1240 3241.5L1196.4 3255.7Z" fill="#fff"/><path d="M1229.9 3271.3L1273.5 3258.3" stroke="#3e26a8"/><path d="M1229.9 3271.3L1196.4 3255.7" stroke="#3e26a8"/><path d="M1273.5 3258.3L1240 3241.5" stroke="#3e26a8"/><path d="M1196.4 3255.7L1240 3241.5" stroke="#3e26a8"/><path d="M954.9 3272.9L998.5 3259.7L965 3241.6L921.4 3256.8Z" fill="#fff"/><path d="M954.9 3272.9L998.5 3259.7" stroke="#3e26a8"/><path d="M954.9 3272.9L921.4 3256.8" stroke="#3e26a8"/><path d="M998.5 3259.7L965 3241.6" stroke="#3e26a8"/><path d="M921.4 3256.8L965 3241.6" stroke="#3e26a8"/><path d="M1032 3276.7L1075.7 3264.7L1042.2 3247.5L998.5 3259.7Z" fill="#fff"/><path d="M1032 3276.7L1075.7 3264.7" stroke="#3e26a8"/><path d="M1032 3276.7L998.5 3259.7" stroke="#3e26a8"/><path d="M1075.7 3264.7L1042.2 3247.5" stroke="#3e26a8"/><path d="M998.5 3259.7L1042.2 3247.5" stroke="#3e26a8"/><path d="M757 3279L800.6 3264.5L767.1 3247.5L723.5 3260.3Z" fill="#fff"/><path d="M757 3279L800.6 3264.5" stroke="#3e26a8"/><path d="M757 3279L723.5 3260.3" stroke="#3e26a8"/><path d="M800.6 3264.5L767.1 3247.5" stroke="#3e26a8"/><path d="M723.5 3260.3L767.1 3247.5" stroke="#3e26a8"/><path d="M1109.2 3281.1L1152.8 3267.6L1119.3 3250.6L1075.7 3264.7Z" fill="#fff"/><path d="M1109.2 3281.1L1152.8 3267.6" stroke="#3e26a8"/><path d="M1109.2 3281.1L1075.7 3264.7" stroke="#3e26a8"/><path d="M1152.8 3267.6L1119.3 3250.6" stroke="#3e26a8"/><path d="M1075.7 3264.7L1119.3 3250.6" stroke="#3e26a8"/><path d="M834.1 3283L877.8 3269.4L844.3 3252.2L800.6 3264.5Z" fill="#fff"/><path d="M834.1 3283L877.8 3269.4" stroke="#3e26a8"/><path d="M834.1 3283L800.6 3264.5" stroke="#3e26a8"/><path d="M877.8 3269.4L844.3 3252.2" stroke="#3e26a8"/><path d="M800.6 3264.5L844.3 3252.2" stroke="#3e26a8"/><path d="M1186.3 3285.8L1229.9 3271.3L1196.4 3255.7L1152.8 3267.6Z" fill="#fff"/><path d="M1186.3 3285.8L1229.9 3271.3" stroke="#3e26a8"/><path d="M1186.3 3285.8L1152.8 3267.6" stroke="#3e26a8"/><path d="M1229.9 3271.3L1196.4 3255.7" stroke="#3e26a8"/><path d="M1152.8 3267.6L1196.4 3255.7" stroke="#3e26a8"/><path d="M911.3 3286L954.9 3272.9L921.4 3256.8L877.8 3269.4Z" fill="#fff"/><path d="M911.3 3286L954.9 3272.9" stroke="#3e26a8"/><path d="M911.3 3286L877.8 3269.4" stroke="#3e26a8"/><path d="M954.9 3272.9L921.4 3256.8" stroke="#3e26a8"/><path d="M877.8 3269.4L921.4 3256.8" stroke="#3e26a8"/><path d="M988.4 3291.9L1032 3276.7L998.5 3259.7L954.9 3272.9Z" fill="#fff"/><path d="M988.4 3291.9L1032 3276.7" stroke="#3e26a8"/><path d="M988.4 3291.9L954.9 3272.9" stroke="#3e26a8"/><path d="M1032 3276.7L998.5 3259.7" stroke="#3e26a8"/><path d="M954.9 3272.9L998.5 3259.7" stroke="#3e26a8"/><path d="M1065.5 3295L1109.2 3281.1L1075.7 3264.7L1032 3276.7Z" fill="#fff"/><path d="M1065.5 3295L1109.2 3281.1" stroke="#3e26a8"/><path d="M1065.5 3295L1032 3276.7" stroke="#3e26a8"/><path d="M1109.2 3281.1L1075.7 3264.7" stroke="#3e26a8"/><path d="M1032 3276.7L1075.7 3264.7" stroke="#3e26a8"/><path d="M790.5 3296.7L834.1 3283L800.6 3264.5L757 3279Z" fill="#fff"/><path d="M790.5 3296.7L834.1 3283" stroke="#3e26a8"/><path d="M790.5 3296.7L757 3279" stroke="#3e26a8"/><path d="M834.1 3283L800.6 3264.5" stroke="#3e26a8"/><path d="M757 3279L800.6 3264.5" stroke="#3e26a8"/><path d="M1142.7 3299.8L1186.3 3285.8L1152.8 3267.6L1109.2 3281.1Z" fill="#fff"/><path d="M1142.7 3299.8L1186.3 3285.8" stroke="#3e26a8"/><path d="M1142.7 3299.8L1109.2 3281.1" stroke="#3e26a8"/><path d="M1186.3 3285.8L1152.8 3267.6" stroke="#3e26a8"/><path d="M1109.2 3281.1L1152.8 3267.6" stroke="#3e26a8"/><path d="M867.6 3300.3L911.3 3286L877.8 3269.4L834.1 3283Z" fill="#fff"/><path d="M867.6 3300.3L911.3 3286" stroke="#3e26a8"/><path d="M867.6 3300.3L834.1 3283" stroke="#3e26a8"/><path d="M911.3 3286L877.8 3269.4" stroke="#3e26a8"/><path d="M834.1 3283L877.8 3269.4" stroke="#3e26a8"/><path d="M944.8 3303.7L988.4 3291.9L954.9 3272.9L911.3 3286Z" fill="#fff"/><path d="M944.8 3303.7L988.4 3291.9" stroke="#3e26a8"/><path d="M944.8 3303.7L911.3 3286" stroke="#3e26a8"/><path d="M988.4 3291.9L954.9 3272.9" stroke="#3e26a8"/><path d="M911.3 3286L954.9 3272.9" stroke="#3e26a8"/><path d="M1021.9 3308.3L1065.5 3295L1032 3276.7L988.4 3291.9Z" fill="#fff"/><path d="M1021.9 3308.3L1065.5 3295" stroke="#3e26a8"/><path d="M1021.9 3308.3L988.4 3291.9" stroke="#3e26a8"/><path d="M1065.5 3295L1032 3276.7" stroke="#3e26a8"/><path d="M988.4 3291.9L1032 3276.7" stroke="#3e26a8"/><path d="M1099 3312.4L1142.7 3299.8L1109.2 3281.1L1065.5 3295Z" fill="#fff"/><path d="M1099 3312.4L1142.7 3299.8" stroke="#3e26a8"/><path d="M1099 3312.4L1065.5 3295" stroke="#3e26a8"/><path d="M1142.7 3299.8L1109.2 3281.1" stroke="#3e26a8"/><path d="M1065.5 3295L1109.2 3281.1" stroke="#3e26a8"/><path d="M824 3313.7L867.6 3300.3L834.1 3283L790.5 3296.7Z" fill="#fff"/><path d="M824 3313.7L867.6 3300.3" stroke="#3e26a8"/><path d="M824 3313.7L790.5 3296.7" stroke="#3e26a8"/><path d="M867.6 3300.3L834.1 3283" stroke="#3e26a8"/><path d="M790.5 3296.7L834.1 3283" stroke="#3e26a8"/><path d="M901.1 3316.8L944.8 3303.7L911.3 3286L867.6 3300.3Z" fill="#fff"/><path d="M901.1 3316.8L944.8 3303.7" stroke="#3e26a8"/><path d="M901.1 3316.8L867.6 3300.3" stroke="#3e26a8"/><path d="M944.8 3303.7L911.3 3286" stroke="#3e26a8"/><path d="M867.6 3300.3L911.3 3286" stroke="#3e26a8"/><path d="M978.3 3322.2L1021.9 3308.3L988.4 3291.9L944.8 3303.7Z" fill="#fff"/><path d="M978.3 3322.2L1021.9 3308.3" stroke="#3e26a8"/><path d="M978.3 3322.2L944.8 3303.7" stroke="#3e26a8"/><path d="M1021.9 3308.3L988.4 3291.9" stroke="#3e26a8"/><path d="M944.8 3303.7L988.4 3291.9" stroke="#3e26a8"/><path d="M1055.4 3326.5L1099 3312.4L1065.5 3295L1021.9 3308.3Z" fill="#fff"/><path d="M1055.4 3326.5L1099 3312.4" stroke="#3e26a8"/><path d="M1055.4 3326.5L1021.9 3308.3" stroke="#3e26a8"/><path d="M1099 3312.4L1065.5 3295" stroke="#3e26a8"/><path d="M1021.9 3308.3L1065.5 3295" stroke="#3e26a8"/><path d="M857.5 3330.6L901.1 3316.8L867.6 3300.3L824 3313.7Z" fill="#fff"/><path d="M857.5 3330.6L901.1 3316.8" stroke="#3e26a8"/><path d="M857.5 3330.6L824 3313.7" stroke="#3e26a8"/><path d="M901.1 3316.8L867.6 3300.3" stroke="#3e26a8"/><path d="M824 3313.7L867.6 3300.3" stroke="#3e26a8"/><path d="M934.6 3336.6L978.3 3322.2L944.8 3303.7L901.1 3316.8Z" fill="#fff"/><path d="M934.6 3336.6L978.3 3322.2" stroke="#3e26a8"/><path d="M934.6 3336.6L901.1 3316.8" stroke="#3e26a8"/><path d="M978.3 3322.2L944.8 3303.7" stroke="#3e26a8"/><path d="M901.1 3316.8L944.8 3303.7" stroke="#3e26a8"/><path d="M1011.8 3340.4L1055.4 3326.5L1021.9 3308.3L978.3 3322.2Z" fill="#fff"/><path d="M1011.8 3340.4L1055.4 3326.5" stroke="#3e26a8"/><path d="M1011.8 3340.4L978.3 3322.2" stroke="#3e26a8"/><path d="M1055.4 3326.5L1021.9 3308.3" stroke="#3e26a8"/><path d="M978.3 3322.2L1021.9 3308.3" stroke="#3e26a8"/><path d="M891 3348.9L934.6 3336.6L901.1 3316.8L857.5 3330.6Z" fill="#fff"/><path d="M891 3348.9L934.6 3336.6" stroke="#3e26a8"/><path d="M891 3348.9L857.5 3330.6" stroke="#3e26a8"/><path d="M934.6 3336.6L901.1 3316.8" stroke="#3e26a8"/><path d="M857.5 3330.6L901.1 3316.8" stroke="#3e26a8"/><path d="M968.1 3352.8L1011.8 3340.4L978.3 3322.2L934.6 3336.6Z" fill="#fff"/><path d="M968.1 3352.8L1011.8 3340.4" stroke="#3e26a8"/><path d="M968.1 3352.8L934.6 3336.6" stroke="#3e26a8"/><path d="M1011.8 3340.4L978.3 3322.2" stroke="#3e26a8"/><path d="M934.6 3336.6L978.3 3322.2" stroke="#3e26a8"/><path d="M924.5 3366.2L968.1 3352.8L934.6 3336.6L891 3348.9Z" fill="#fff"/><path d="M924.5 3366.2L968.1 3352.8" stroke="#3e26a8"/><path d="M924.5 3366.2L891 3348.9" stroke="#3e26a8"/><path d="M968.1 3352.8L934.6 3336.6" stroke="#3e26a8"/><path d="M891 3348.9L934.6 3336.6" stroke="#3e26a8"/></g><line x1="254.5" y1="3017.6" x2="254.5" y2="2249.0" stroke="#262626" stroke-width="2.5"/><line x1="254.5" y1="3017.6" x2="924.5" y2="3368.8" stroke="#262626" stroke-width="2.5"/><line x1="924.5" y1="3368.8" x2="1797.1" y2="3099.7" stroke="#262626" stroke-width="2.5"/><line x1="254.5" y1="3017.6" x2="233.7" y2="3006.7" stroke="#262626" stroke-width="2.5"/><line x1="254.5" y1="2863.9" x2="233.7" y2="2853.0" stroke="#262626" stroke-width="2.5"/><line x1="254.5" y1="2710.2" x2="233.7" y2="2699.2" stroke="#262626" stroke-width="2.5"/><line x1="254.5" y1="2556.4" x2="233.7" y2="2545.5" stroke="#262626" stroke-width="2.5"/><line x1="254.5" y1="2402.7" x2="233.7" y2="2391.8" stroke="#262626" stroke-width="2.5"/><line x1="254.5" y1="2249.0" x2="233.7" y2="2238.1" stroke="#262626" stroke-width="2.5"/><line x1="924.5" y1="3368.8" x2="902.0" y2="3375.7" stroke="#262626" stroke-width="2.5"/><line x1="790.5" y1="3298.6" x2="768.0" y2="3305.5" stroke="#262626" stroke-width="2.5"/><line x1="656.5" y1="3228.3" x2="634.0" y2="3235.2" stroke="#262626" stroke-width="2.5"/><line x1="522.5" y1="3158.1" x2="500.0" y2="3165.0" stroke="#262626" stroke-width="2.5"/><line x1="388.5" y1="3087.8" x2="366.0" y2="3094.8" stroke="#262626" stroke-width="2.5"/><line x1="254.5" y1="3017.6" x2="232.0" y2="3024.5" stroke="#262626" stroke-width="2.5"/><line x1="924.5" y1="3368.8" x2="945.3" y2="3379.7" stroke="#262626" stroke-width="2.5"/><line x1="1099.0" y1="3315.0" x2="1119.8" y2="3325.9" stroke="#262626" stroke-width="2.5"/><line x1="1273.5" y1="3261.2" x2="1294.4" y2="3272.1" stroke="#262626" stroke-width="2.5"/><line x1="1448.1" y1="3207.3" x2="1468.9" y2="3218.3" stroke="#262626" stroke-width="2.5"/><line x1="1622.6" y1="3153.5" x2="1643.4" y2="3164.4" stroke="#262626" stroke-width="2.5"/><line x1="1797.1" y1="3099.7" x2="1817.9" y2="3110.6" stroke="#262626" stroke-width="2.5"/><g font-family="'Liberation Sans',Arial,Helvetica,sans-serif" font-size="56" fill="#262626" stroke="#fff" stroke-width="0.6"><text transform="translate(213.8 3021.0) scale(1 1.050)" text-anchor="end">0</text><text transform="translate(213.8 2867.3) scale(1 1.050)" text-anchor="end">0.2</text><text transform="translate(213.8 2713.6) scale(1 1.050)" text-anchor="end">0.4</text><text transform="translate(213.8 2559.8) scale(1 1.050)" text-anchor="end">0.6</text><text transform="translate(213.8 2406.1) scale(1 1.050)" text-anchor="end">0.8</text><text transform="translate(213.8 2252.4) scale(1 1.050)" text-anchor="end">1</text><text transform="translate(212.0 3089.8) scale(1 1.050)" text-anchor="end">0.5</text><text transform="translate(342.1 3159.6) scale(1 1.050)" text-anchor="end">0.3</text><text transform="translate(481.2 3229.3) scale(1 1.050)" text-anchor="end">0.1</text><text transform="translate(612.3 3302.8) scale(1 1.050)" text-anchor="end">-0.1</text><text transform="translate(743.9 3373.1) scale(1 1.050)" text-anchor="end">-0.3</text><text transform="translate(878.6 3443.1) scale(1 1.050)" text-anchor="end">-0.5</text><text transform="translate(964.6 3450.8) scale(1 1.050)">-0.5</text><text transform="translate(1137.6 3395.4) scale(1 1.050)">-0.3</text><text transform="translate(1312.1 3342.3) scale(1 1.050)">-0.1</text><text transform="translate(1489.5 3289.3) scale(1 1.050)">0.1</text><text transform="translate(1663.4 3233.1) scale(1 1.050)">0.3</text><text transform="translate(1837.0 3180.2) scale(1 1.050)">0.5</text></g><g font-family="'Liberation Sans',Arial,Helvetica,sans-serif" font-size="61.6" fill="#262626" stroke="#fff" stroke-width="0.6"><g fill="#000"><text transform="translate(1026.0 1869.7) scale(1 1.050)" text-anchor="middle">The detection probability of MLC algorithm</text><text transform="translate(1026.0 1956.6) scale(1 1.050)" text-anchor="middle">after azimuth dimension jamming cancellation</text></g><text transform="translate(98.4 2912.8) rotate(-90.00) scale(1 1.050)">Detection probability</text><text transform="translate(1145.5 3489.1) rotate(-18.10) scale(1 1.050)">Target pitch angle (degree)</text><text transform="translate(70.4 3116.7) rotate(29.95) scale(1 1.050)">Target azimuth angle (degree)</text></g><defs><linearGradient id="cb1" x1="0" y1="0" x2="0" y2="1"><stop offset="0.0000" stop-color="#f9fb15"/><stop offset="0.0156" stop-color="#f7f51b"/><stop offset="0.0312" stop-color="#f6ef20"/><stop offset="0.0469" stop-color="#f5e924"/><stop offset="0.0625" stop-color="#f5e327"/><stop offset="0.0781" stop-color="#f7dd2a"/><stop offset="0.0938" stop-color="#f9d62d"/><stop offset="0.1094" stop-color="#fcd030"/><stop offset="0.1250" stop-color="#feca33"/><stop offset="0.1406" stop-color="#fec437"/><stop offset="0.1562" stop-color="#febe3c"/><stop offset="0.1719" stop-color="#f9bb3d"/><stop offset="0.1875" stop-color="#f1ba37"/><stop offset="0.2031" stop-color="#e8bb2f"/><stop offset="0.2188" stop-color="#debc2a"/><stop offset="0.2344" stop-color="#d4bf28"/><stop offset="0.2500" stop-color="#c8c129"/><stop offset="0.2656" stop-color="#bcc42f"/><stop offset="0.2812" stop-color="#afc637"/><stop offset="0.2969" stop-color="#a2c840"/><stop offset="0.3125" stop-color="#94ca4a"/><stop offset="0.3281" stop-color="#85cb55"/><stop offset="0.3438" stop-color="#77cc60"/><stop offset="0.3594" stop-color="#69cd6b"/><stop offset="0.3750" stop-color="#5ccc76"/><stop offset="0.3906" stop-color="#4fcc80"/><stop offset="0.4062" stop-color="#44ca8a"/><stop offset="0.4219" stop-color="#3ac993"/><stop offset="0.4375" stop-color="#34c79c"/><stop offset="0.4531" stop-color="#2ec5a4"/><stop offset="0.4688" stop-color="#28c2ab"/><stop offset="0.4844" stop-color="#1ec0b2"/><stop offset="0.5000" stop-color="#12beb9"/><stop offset="0.5156" stop-color="#07bcc0"/><stop offset="0.5312" stop-color="#01b9c6"/><stop offset="0.5469" stop-color="#04b6cd"/><stop offset="0.5625" stop-color="#0cb3d3"/><stop offset="0.5781" stop-color="#14b0d8"/><stop offset="0.5938" stop-color="#1aacdd"/><stop offset="0.6094" stop-color="#1ea7e1"/><stop offset="0.6250" stop-color="#21a3e3"/><stop offset="0.6406" stop-color="#249ee6"/><stop offset="0.6562" stop-color="#269ae9"/><stop offset="0.6719" stop-color="#2895ec"/><stop offset="0.6875" stop-color="#2c90f0"/><stop offset="0.7031" stop-color="#2d8bf4"/><stop offset="0.7188" stop-color="#2e85f8"/><stop offset="0.7344" stop-color="#3080fa"/><stop offset="0.7500" stop-color="#347afd"/><stop offset="0.7656" stop-color="#3a74fe"/><stop offset="0.7812" stop-color="#3f6efe"/><stop offset="0.7969" stop-color="#4368fe"/><stop offset="0.8125" stop-color="#4562fc"/><stop offset="0.8281" stop-color="#475dfa"/><stop offset="0.8438" stop-color="#4757f7"/><stop offset="0.8594" stop-color="#4852f4"/><stop offset="0.8750" stop-color="#484cef"/><stop offset="0.8906" stop-color="#4746ea"/><stop offset="0.9062" stop-color="#4741e5"/><stop offset="0.9219" stop-color="#463bdd"/><stop offset="0.9375" stop-color="#4536d5"/><stop offset="0.9531" stop-color="#4332ca"/><stop offset="0.9688" stop-color="#422ebf"/><stop offset="0.9844" stop-color="#402ab4"/><stop offset="1.0000" stop-color="#3e26a8"/></linearGradient></defs><rect x="1957.2" y="1980.7" width="86.6" height="1388.0" fill="url(#cb1)" stroke="#262626" stroke-width="2.5"/><line x1="2032.1" y1="3368.7" x2="2043.8" y2="3368.7" stroke="#262626" stroke-width="2.5"/><line x1="2032.1" y1="3229.9" x2="2043.8" y2="3229.9" stroke="#262626" stroke-width="2.5"/><line x1="2032.1" y1="3091.1" x2="2043.8" y2="3091.1" stroke="#262626" stroke-width="2.5"/><line x1="2032.1" y1="2952.3" x2="2043.8" y2="2952.3" stroke="#262626" stroke-width="2.5"/><line x1="2032.1" y1="2813.5" x2="2043.8" y2="2813.5" stroke="#262626" stroke-width="2.5"/><line x1="2032.1" y1="2674.7" x2="2043.8" y2="2674.7" stroke="#262626" stroke-width="2.5"/><line x1="2032.1" y1="2535.9" x2="2043.8" y2="2535.9" stroke="#262626" stroke-width="2.5"/><line x1="2032.1" y1="2397.1" x2="2043.8" y2="2397.1" stroke="#262626" stroke-width="2.5"/><line x1="2032.1" y1="2258.3" x2="2043.8" y2="2258.3" stroke="#262626" stroke-width="2.5"/><line x1="2032.1" y1="2119.5" x2="2043.8" y2="2119.5" stroke="#262626" stroke-width="2.5"/><line x1="2032.1" y1="1980.7" x2="2043.8" y2="1980.7" stroke="#262626" stroke-width="2.5"/><g font-family="'Liberation Sans',Arial,Helvetica,sans-serif" font-size="50.4" fill="#262626" stroke="#fff" stroke-width="0.6"><text transform="translate(2068.3 3390.4) scale(1 1.050)">0</text><text transform="translate(2068.3 3251.6) scale(1 1.050)">0.1</text><text transform="translate(2068.3 3112.8) scale(1 1.050)">0.2</text><text transform="translate(2068.3 2974.0) scale(1 1.050)">0.3</text><text transform="translate(2068.3 2835.2) scale(1 1.050)">0.4</text><text transform="translate(2068.3 2696.4) scale(1 1.050)">0.5</text><text transform="translate(2068.3 2557.6) scale(1 1.050)">0.6</text><text transform="translate(2068.3 2418.8) scale(1 1.050)">0.7</text><text transform="translate(2068.3 2280.0) scale(1 1.050)">0.8</text><text transform="translate(2068.3 2141.2) scale(1 1.050)">0.9</text><text transform="translate(2068.3 2002.4) scale(1 1.050)">1</text></g></svg></body></html>
